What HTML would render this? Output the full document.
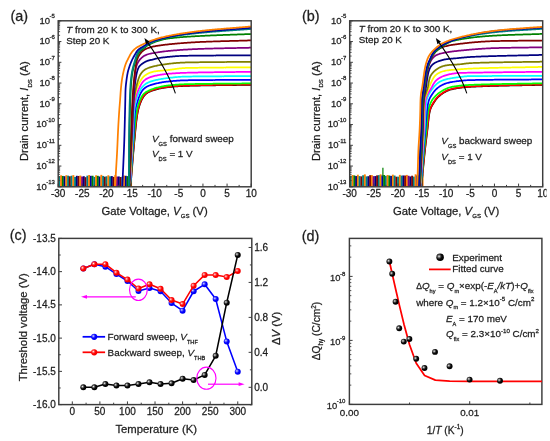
<!DOCTYPE html><html><head><meta charset="utf-8"><style>html,body{margin:0;padding:0;background:#fff;overflow:hidden}svg{display:block;filter:blur(0.3px)}text{stroke:#1e1e1e;stroke-width:0.26px;stroke-linejoin:round}</style></head><body>
<svg width="550" height="441" viewBox="0 0 550 441" font-family='"Liberation Sans", sans-serif' fill="#1e1e1e">
<defs><radialGradient id="gk" cx="0.36" cy="0.38" r="0.62"><stop offset="0" stop-color="#f4f4f4"/><stop offset="0.3" stop-color="#606060"/><stop offset="0.6" stop-color="#080808"/><stop offset="1" stop-color="#000"/></radialGradient><radialGradient id="gr" cx="0.36" cy="0.38" r="0.62"><stop offset="0" stop-color="#fff0f0"/><stop offset="0.3" stop-color="#ff5050"/><stop offset="0.6" stop-color="#ff0000"/><stop offset="1" stop-color="#f00000"/></radialGradient><radialGradient id="gb" cx="0.36" cy="0.38" r="0.62"><stop offset="0" stop-color="#e8e8ff"/><stop offset="0.3" stop-color="#5050ff"/><stop offset="0.6" stop-color="#0000ff"/><stop offset="1" stop-color="#0000f0"/></radialGradient></defs>
<rect width="550" height="441" fill="#fff"/>
<clipPath id="clipa"><rect x="58.2" y="20.8" width="193" height="166"/></clipPath>
<g clip-path="url(#clipa)">
<rect x="58.4" y="176.12" width="1.9" height="10.68" fill="#008080"/>
<rect x="60.15" y="175.32" width="1.9" height="11.48" fill="#FF8000"/>
<rect x="61.9" y="175.93" width="1.9" height="10.87" fill="#008000"/>
<rect x="63.65" y="176.19" width="1.9" height="10.61" fill="#000080"/>
<rect x="65.4" y="175.21" width="1.9" height="11.59" fill="#FF8000"/>
<rect x="67.15" y="175.66" width="1.9" height="11.14" fill="#008080"/>
<rect x="68.9" y="176.29" width="1.9" height="10.51" fill="#800000"/>
<rect x="70.65" y="175.71" width="1.9" height="11.09" fill="#008080"/>
<rect x="72.4" y="175.14" width="1.9" height="11.66" fill="#FF8000"/>
<rect x="74.15" y="176.92" width="1.9" height="9.88" fill="#008080"/>
<rect x="75.9" y="175.8" width="1.9" height="11" fill="#000080"/>
<rect x="77.65" y="175.96" width="1.9" height="10.84" fill="#800000"/>
<rect x="79.4" y="175.56" width="1.9" height="11.24" fill="#FF8000"/>
<rect x="81.15" y="176.52" width="1.9" height="10.28" fill="#800080"/>
<rect x="82.9" y="176.23" width="1.9" height="10.57" fill="#000080"/>
<rect x="84.65" y="177.16" width="1.9" height="9.64" fill="#800000"/>
<rect x="86.4" y="175.67" width="1.9" height="11.13" fill="#008080"/>
<rect x="88.15" y="175.03" width="1.9" height="11.77" fill="#FF8000"/>
<rect x="89.9" y="175.83" width="1.9" height="10.97" fill="#0000A0"/>
<rect x="91.65" y="175.75" width="1.9" height="11.05" fill="#008000"/>
<rect x="93.4" y="176.91" width="1.9" height="9.89" fill="#008080"/>
<rect x="95.15" y="175.27" width="1.9" height="11.53" fill="#FF8000"/>
<rect x="96.9" y="175.8" width="1.9" height="11" fill="#008000"/>
<rect x="98.65" y="176.48" width="1.9" height="10.32" fill="#000080"/>
<rect x="100.4" y="174.85" width="1.9" height="11.95" fill="#FF8000"/>
<rect x="102.15" y="175.93" width="1.9" height="10.87" fill="#008080"/>
<rect x="103.9" y="176.69" width="1.9" height="10.11" fill="#800000"/>
<rect x="105.65" y="176.28" width="1.9" height="10.52" fill="#008080"/>
<rect x="107.4" y="175.27" width="1.9" height="11.53" fill="#FF8000"/>
<rect x="109.15" y="176.33" width="1.9" height="10.47" fill="#008080"/>
<rect x="110.9" y="176.08" width="1.9" height="10.72" fill="#000080"/>
<rect x="112.65" y="176.87" width="1.9" height="9.93" fill="#800000"/>
<rect x="114.4" y="175" width="1.9" height="11.8" fill="#FF8000"/>
<rect x="116.15" y="176.52" width="1.9" height="10.28" fill="#800080"/>
<rect x="117.9" y="176.44" width="1.9" height="10.36" fill="#000080"/>
<rect x="119.65" y="177" width="1.9" height="9.8" fill="#800000"/>
<rect x="121.4" y="176.77" width="1.9" height="10.03" fill="#008080"/>
<rect x="123.15" y="175.58" width="1.9" height="11.22" fill="#FF8000"/>
<rect x="124.9" y="175.79" width="1.9" height="11.01" fill="#0000A0"/>
<rect x="126.65" y="176.11" width="1.9" height="10.69" fill="#008000"/>
<rect x="128.4" y="175.84" width="1.9" height="10.96" fill="#008080"/>
<rect x="130.15" y="174.83" width="1.9" height="11.97" fill="#FF8000"/>
<path d="M130,192.01 L130.06,191.27 L130.12,190.56 L130.19,189.75 L130.27,188.9 L130.34,188.01 L130.42,187.12 L130.5,186.22 L130.57,185.33 L130.65,184.43 L130.73,183.53 L130.8,182.64 L130.88,181.74 L130.96,180.84 L131.04,179.95 L131.11,179.05 L131.19,178.15 L131.27,177.26 L131.34,176.36 L131.42,175.46 L131.5,174.57 L131.57,173.67 L131.65,172.77 L131.72,171.88 L131.8,170.98 L131.87,170.08 L131.95,169.19 L132.02,168.29 L132.1,167.39 L132.17,166.49 L132.24,165.6 L132.32,164.7 L132.39,163.8 L132.46,162.91 L132.54,162.01 L132.61,161.11 L132.69,160.21 L132.76,159.32 L132.83,158.42 L132.91,157.52 L132.98,156.63 L133.06,155.73 L133.13,154.83 L133.21,153.94 L133.29,153.04 L133.36,152.14 L133.44,151.25 L133.52,150.35 L133.6,149.45 L133.68,148.56 L133.76,147.66 L133.84,146.76 L133.92,145.87 L134.01,144.97 L134.09,144.08 L134.17,143.18 L134.26,142.28 L134.34,141.39 L134.43,140.49 L134.52,139.6 L134.6,138.7 L134.69,137.8 L134.77,136.91 L134.86,136.01 L134.94,135.11 L135.03,134.21 L135.11,133.31 L135.19,132.41 L135.28,131.51 L135.36,130.61 L135.45,129.71 L135.54,128.81 L135.63,127.92 L135.72,127.02 L135.81,126.12 L135.91,125.22 L136,124.33 L136.1,123.43 L136.2,122.54 L136.31,121.64 L136.42,120.75 L136.53,119.86 L136.65,118.96 L136.77,118.08 L136.89,117.19 L137.02,116.3 L137.15,115.42 L137.29,114.53 L137.44,113.65 L137.6,112.77 L137.76,111.89 L137.94,111.01 L138.14,110.13 L138.35,109.26 L138.58,108.39 L138.82,107.52 L139.07,106.65 L139.34,105.79 L139.62,104.93 L139.91,104.08 L140.22,103.23 L140.54,102.39 L140.88,101.56 L141.25,100.74 L141.64,99.92 L142.05,99.12 L142.49,98.33 L142.95,97.54 L143.44,96.77 L143.96,96.03 L144.51,95.31 L145.09,94.64 L145.72,94.02 L146.38,93.45 L147.09,92.94 L147.84,92.47 L148.63,92.06 L149.44,91.68 L150.28,91.34 L151.12,91.04 L151.98,90.75 L152.84,90.48 L153.7,90.21 L154.56,89.94 L155.43,89.67 L156.29,89.4 L157.15,89.14 L158.01,88.89 L158.88,88.66 L159.75,88.45 L160.62,88.27 L161.5,88.11 L162.38,87.97 L163.26,87.83 L164.15,87.7 L165.03,87.58 L165.92,87.46 L166.81,87.35 L167.71,87.24 L168.6,87.13 L169.5,87.03 L170.39,86.93 L171.29,86.84 L172.19,86.75 L173.09,86.66 L173.99,86.58 L174.89,86.5 L175.8,86.43 L176.7,86.36 L177.6,86.29 L178.5,86.23 L179.41,86.18 L180.31,86.12 L181.21,86.07 L182.11,86.03 L183.01,85.99 L183.91,85.95 L184.81,85.92 L185.71,85.89 L186.61,85.86 L187.5,85.83 L188.4,85.8 L189.3,85.78 L190.2,85.75 L191.1,85.73 L192,85.7 L192.89,85.68 L193.79,85.66 L194.69,85.64 L195.59,85.62 L196.49,85.59 L197.39,85.57 L198.29,85.56 L199.19,85.54 L200.09,85.52 L200.98,85.5 L201.88,85.48 L202.78,85.46 L203.68,85.45 L204.58,85.43 L205.48,85.42 L206.38,85.4 L207.28,85.38 L208.18,85.37 L209.08,85.36 L209.98,85.34 L210.88,85.33 L211.78,85.31 L212.68,85.3 L213.58,85.29 L214.48,85.28 L215.38,85.26 L216.28,85.25 L217.18,85.24 L218.08,85.23 L218.98,85.22 L219.89,85.2 L220.79,85.19 L221.69,85.18 L222.59,85.17 L223.49,85.16 L224.39,85.15 L225.29,85.14 L226.19,85.13 L227.09,85.12 L227.99,85.11 L228.89,85.1 L229.79,85.09 L230.69,85.07 L231.59,85.06 L232.49,85.05 L233.39,85.04 L234.3,85.03 L235.2,85.02 L236.1,85.01 L237,85 L237.9,84.99 L238.8,84.98 L239.7,84.97 L240.6,84.95 L241.5,84.94 L242.4,84.93 L243.3,84.92 L244.2,84.91 L245.1,84.89 L246,84.88 L246.9,84.87 L247.79,84.85 L248.67,84.84 L249.51,84.83 L250.28,84.81 L251.13,84.8 L251.45,84.79" fill="none" stroke="#000000" stroke-width="1.75" stroke-linejoin="round"/>
<path d="M129.82,192.01 L129.89,191.27 L129.95,190.56 L130.02,189.75 L130.09,188.9 L130.17,188.01 L130.24,187.12 L130.32,186.22 L130.4,185.33 L130.47,184.43 L130.55,183.53 L130.63,182.64 L130.71,181.74 L130.78,180.84 L130.86,179.95 L130.94,179.05 L131.01,178.15 L131.09,177.26 L131.17,176.36 L131.25,175.46 L131.32,174.57 L131.4,173.67 L131.47,172.77 L131.55,171.88 L131.62,170.98 L131.7,170.08 L131.77,169.19 L131.85,168.29 L131.92,167.39 L131.99,166.49 L132.07,165.6 L132.14,164.7 L132.22,163.8 L132.29,162.91 L132.36,162.01 L132.44,161.11 L132.51,160.21 L132.58,159.32 L132.66,158.42 L132.73,157.52 L132.81,156.63 L132.88,155.73 L132.96,154.83 L133.03,153.94 L133.11,153.04 L133.19,152.14 L133.27,151.25 L133.34,150.35 L133.42,149.45 L133.5,148.56 L133.58,147.66 L133.66,146.76 L133.74,145.87 L133.83,144.97 L133.91,144.08 L133.99,143.18 L134.08,142.28 L134.17,141.39 L134.25,140.49 L134.34,139.6 L134.42,138.7 L134.51,137.8 L134.6,136.91 L134.68,136.01 L134.76,135.11 L134.85,134.21 L134.93,133.31 L135.02,132.41 L135.1,131.51 L135.19,130.61 L135.27,129.71 L135.36,128.82 L135.45,127.92 L135.54,127.02 L135.63,126.12 L135.72,125.22 L135.82,124.33 L135.92,123.43 L136.02,122.53 L136.12,121.64 L136.23,120.75 L136.34,119.85 L136.46,118.96 L136.58,118.07 L136.7,117.18 L136.83,116.3 L136.96,115.41 L137.1,114.53 L137.24,113.64 L137.39,112.76 L137.56,111.88 L137.73,111 L137.92,110.13 L138.13,109.25 L138.35,108.38 L138.59,107.51 L138.84,106.64 L139.1,105.78 L139.38,104.92 L139.66,104.07 L139.96,103.22 L140.28,102.37 L140.62,101.54 L140.97,100.71 L141.35,99.89 L141.76,99.09 L142.19,98.29 L142.64,97.5 L143.12,96.73 L143.63,95.97 L144.17,95.25 L144.74,94.56 L145.35,93.92 L146,93.33 L146.7,92.8 L147.43,92.32 L148.21,91.89 L149.02,91.5 L149.85,91.15 L150.69,90.84 L151.54,90.54 L152.4,90.27 L153.26,90 L154.13,89.73 L154.99,89.46 L155.85,89.19 L156.71,88.92 L157.57,88.67 L158.44,88.43 L159.31,88.22 L160.18,88.03 L161.05,87.86 L161.93,87.71 L162.81,87.58 L163.7,87.45 L164.59,87.32 L165.47,87.2 L166.36,87.08 L167.26,86.97 L168.15,86.87 L169.05,86.76 L169.94,86.66 L170.84,86.57 L171.74,86.48 L172.64,86.39 L173.54,86.31 L174.44,86.23 L175.34,86.15 L176.25,86.08 L177.15,86.02 L178.05,85.95 L178.95,85.89 L179.86,85.84 L180.76,85.79 L181.66,85.74 L182.56,85.7 L183.46,85.66 L184.36,85.63 L185.26,85.6 L186.16,85.57 L187.05,85.54 L187.95,85.51 L188.85,85.49 L189.75,85.46 L190.65,85.44 L191.54,85.41 L192.44,85.39 L193.34,85.37 L194.24,85.34 L195.14,85.32 L196.04,85.3 L196.94,85.28 L197.84,85.26 L198.74,85.24 L199.63,85.22 L200.53,85.21 L201.43,85.19 L202.33,85.17 L203.23,85.15 L204.13,85.14 L205.03,85.12 L205.93,85.1 L206.83,85.09 L207.73,85.07 L208.63,85.06 L209.53,85.05 L210.43,85.03 L211.33,85.02 L212.23,85.01 L213.13,84.99 L214.03,84.98 L214.93,84.97 L215.83,84.95 L216.73,84.94 L217.63,84.93 L218.53,84.92 L219.43,84.91 L220.33,84.9 L221.24,84.89 L222.14,84.87 L223.04,84.86 L223.94,84.85 L224.84,84.84 L225.74,84.83 L226.64,84.82 L227.54,84.81 L228.44,84.8 L229.34,84.79 L230.24,84.78 L231.14,84.77 L232.04,84.76 L232.94,84.75 L233.84,84.74 L234.74,84.73 L235.64,84.71 L236.55,84.7 L237.45,84.69 L238.35,84.68 L239.25,84.67 L240.15,84.66 L241.05,84.65 L241.95,84.63 L242.85,84.62 L243.75,84.61 L244.65,84.6 L245.55,84.58 L246.45,84.57 L247.34,84.56 L248.23,84.54 L249.09,84.53 L249.91,84.52 L250.63,84.51 L251.38,84.49 L251.52,84.49" fill="none" stroke="#FF0000" stroke-width="1.75" stroke-linejoin="round"/>
<path d="M129.76,192.01 L129.81,191.27 L129.87,190.56 L129.93,189.75 L130,188.89 L130.07,188.01 L130.14,187.12 L130.21,186.22 L130.27,185.32 L130.34,184.43 L130.41,183.53 L130.48,182.63 L130.55,181.73 L130.62,180.84 L130.69,179.94 L130.76,179.04 L130.83,178.14 L130.9,177.25 L130.97,176.35 L131.04,175.45 L131.11,174.55 L131.18,173.66 L131.25,172.76 L131.32,171.86 L131.38,170.97 L131.45,170.07 L131.52,169.17 L131.59,168.27 L131.65,167.38 L131.72,166.48 L131.79,165.58 L131.86,164.68 L131.92,163.78 L131.99,162.89 L132.06,161.99 L132.12,161.09 L132.19,160.19 L132.26,159.3 L132.32,158.4 L132.39,157.5 L132.46,156.6 L132.53,155.71 L132.6,154.81 L132.67,153.91 L132.73,153.01 L132.8,152.12 L132.87,151.22 L132.94,150.32 L133.02,149.43 L133.09,148.53 L133.16,147.63 L133.23,146.73 L133.31,145.84 L133.38,144.94 L133.45,144.04 L133.53,143.15 L133.61,142.25 L133.68,141.35 L133.76,140.46 L133.84,139.56 L133.91,138.66 L133.99,137.76 L134.06,136.87 L134.14,135.97 L134.21,135.07 L134.28,134.17 L134.36,133.27 L134.43,132.36 L134.5,131.46 L134.57,130.56 L134.65,129.66 L134.72,128.76 L134.8,127.86 L134.88,126.96 L134.96,126.06 L135.04,125.16 L135.12,124.26 L135.21,123.37 L135.29,122.47 L135.39,121.57 L135.48,120.68 L135.58,119.78 L135.68,118.89 L135.78,118 L135.89,117.11 L136.01,116.22 L136.12,115.34 L136.25,114.45 L136.38,113.57 L136.52,112.69 L136.66,111.8 L136.82,110.92 L137,110.04 L137.18,109.16 L137.39,108.28 L137.61,107.4 L137.84,106.52 L138.09,105.65 L138.35,104.78 L138.62,103.92 L138.9,103.06 L139.2,102.21 L139.51,101.37 L139.83,100.53 L140.18,99.69 L140.54,98.86 L140.93,98.04 L141.35,97.23 L141.79,96.44 L142.28,95.69 L142.79,94.98 L143.36,94.32 L143.97,93.7 L144.62,93.13 L145.33,92.59 L146.08,92.1 L146.85,91.63 L147.65,91.18 L148.46,90.77 L149.28,90.37 L150.11,90 L150.94,89.65 L151.78,89.31 L152.62,89 L153.47,88.71 L154.33,88.44 L155.19,88.19 L156.05,87.94 L156.92,87.7 L157.79,87.48 L158.67,87.26 L159.54,87.05 L160.43,86.84 L161.31,86.65 L162.19,86.46 L163.08,86.29 L163.97,86.13 L164.86,85.97 L165.74,85.83 L166.63,85.7 L167.52,85.58 L168.41,85.47 L169.3,85.36 L170.2,85.26 L171.09,85.17 L171.98,85.08 L172.88,84.99 L173.78,84.9 L174.67,84.82 L175.57,84.74 L176.47,84.67 L177.37,84.6 L178.27,84.54 L179.17,84.48 L180.07,84.42 L180.97,84.37 L181.87,84.33 L182.77,84.29 L183.67,84.25 L184.57,84.22 L185.47,84.19 L186.36,84.17 L187.26,84.15 L188.16,84.13 L189.06,84.11 L189.96,84.09 L190.86,84.07 L191.76,84.05 L192.66,84.03 L193.56,84.02 L194.46,84 L195.35,83.99 L196.25,83.97 L197.15,83.95 L198.05,83.94 L198.95,83.93 L199.85,83.91 L200.75,83.9 L201.65,83.88 L202.55,83.87 L203.45,83.86 L204.35,83.85 L205.25,83.84 L206.15,83.82 L207.05,83.81 L207.95,83.8 L208.85,83.79 L209.75,83.78 L210.65,83.77 L211.55,83.76 L212.45,83.75 L213.35,83.74 L214.25,83.73 L215.15,83.73 L216.05,83.72 L216.95,83.71 L217.85,83.7 L218.75,83.69 L219.65,83.68 L220.55,83.68 L221.45,83.67 L222.35,83.66 L223.25,83.65 L224.15,83.65 L225.05,83.64 L225.95,83.63 L226.85,83.62 L227.76,83.62 L228.66,83.61 L229.56,83.6 L230.46,83.59 L231.36,83.59 L232.26,83.58 L233.16,83.57 L234.06,83.57 L234.96,83.56 L235.86,83.55 L236.76,83.54 L237.66,83.53 L238.56,83.53 L239.46,83.52 L240.36,83.51 L241.26,83.5 L242.16,83.49 L243.06,83.49 L243.96,83.48 L244.86,83.47 L245.76,83.46 L246.66,83.45 L247.56,83.44 L248.44,83.43 L249.29,83.42 L250.09,83.41 L250.98,83.4 L251.48,83.39" fill="none" stroke="#00FF00" stroke-width="1.75" stroke-linejoin="round"/>
<path d="M129.69,192.01 L129.74,191.27 L129.79,190.56 L129.85,189.75 L129.9,188.89 L129.97,188.01 L130.03,187.11 L130.09,186.22 L130.15,185.32 L130.22,184.42 L130.28,183.52 L130.34,182.62 L130.4,181.73 L130.46,180.83 L130.53,179.93 L130.59,179.03 L130.65,178.14 L130.71,177.24 L130.78,176.34 L130.84,175.44 L130.9,174.54 L130.96,173.65 L131.03,172.75 L131.09,171.85 L131.15,170.95 L131.21,170.05 L131.28,169.16 L131.34,168.26 L131.4,167.36 L131.46,166.46 L131.53,165.57 L131.59,164.67 L131.65,163.77 L131.72,162.87 L131.78,161.97 L131.84,161.08 L131.9,160.18 L131.97,159.28 L132.03,158.38 L132.09,157.49 L132.16,156.59 L132.22,155.69 L132.28,154.79 L132.34,153.89 L132.41,153 L132.47,152.1 L132.53,151.2 L132.59,150.3 L132.65,149.4 L132.72,148.51 L132.78,147.61 L132.84,146.71 L132.9,145.81 L132.96,144.92 L133.03,144.02 L133.09,143.12 L133.15,142.22 L133.21,141.32 L133.27,140.43 L133.33,139.53 L133.38,138.63 L133.44,137.73 L133.49,136.83 L133.55,135.93 L133.6,135.02 L133.65,134.12 L133.69,133.22 L133.74,132.32 L133.79,131.41 L133.83,130.51 L133.88,129.61 L133.92,128.7 L133.97,127.8 L134.01,126.9 L134.06,125.99 L134.11,125.09 L134.16,124.19 L134.21,123.29 L134.26,122.39 L134.32,121.49 L134.37,120.59 L134.43,119.69 L134.49,118.79 L134.56,117.9 L134.63,117 L134.7,116.11 L134.78,115.22 L134.86,114.33 L134.94,113.44 L135.03,112.55 L135.13,111.67 L135.24,110.78 L135.36,109.9 L135.51,109.02 L135.67,108.14 L135.86,107.27 L136.07,106.39 L136.29,105.52 L136.54,104.65 L136.8,103.79 L137.07,102.92 L137.34,102.06 L137.62,101.2 L137.89,100.34 L138.18,99.48 L138.46,98.62 L138.76,97.77 L139.07,96.93 L139.39,96.08 L139.74,95.25 L140.1,94.43 L140.49,93.61 L140.91,92.81 L141.36,92.03 L141.84,91.27 L142.35,90.54 L142.91,89.85 L143.51,89.2 L144.15,88.59 L144.84,88.02 L145.56,87.5 L146.32,87.01 L147.1,86.57 L147.89,86.17 L148.71,85.8 L149.54,85.45 L150.38,85.14 L151.24,84.84 L152.1,84.57 L152.97,84.31 L153.84,84.08 L154.71,83.85 L155.58,83.64 L156.46,83.44 L157.33,83.24 L158.22,83.06 L159.1,82.88 L159.98,82.7 L160.87,82.54 L161.76,82.38 L162.65,82.23 L163.55,82.09 L164.44,81.96 L165.33,81.84 L166.22,81.72 L167.12,81.61 L168.01,81.51 L168.9,81.42 L169.8,81.32 L170.69,81.23 L171.59,81.15 L172.48,81.06 L173.38,80.98 L174.28,80.91 L175.18,80.83 L176.07,80.76 L176.97,80.69 L177.87,80.63 L178.77,80.57 L179.67,80.52 L180.57,80.47 L181.47,80.42 L182.37,80.39 L183.27,80.36 L184.17,80.33 L185.07,80.31 L185.97,80.29 L186.87,80.27 L187.76,80.26 L188.66,80.24 L189.56,80.23 L190.46,80.22 L191.36,80.21 L192.26,80.2 L193.16,80.18 L194.06,80.17 L194.96,80.16 L195.86,80.15 L196.76,80.14 L197.66,80.13 L198.56,80.12 L199.45,80.11 L200.35,80.11 L201.25,80.1 L202.15,80.09 L203.05,80.08 L203.95,80.07 L204.85,80.07 L205.75,80.06 L206.65,80.05 L207.55,80.04 L208.45,80.04 L209.35,80.03 L210.25,80.03 L211.15,80.02 L212.05,80.01 L212.95,80.01 L213.85,80 L214.75,80 L215.65,79.99 L216.55,79.99 L217.45,79.98 L218.36,79.98 L219.26,79.97 L220.16,79.97 L221.06,79.96 L221.96,79.96 L222.86,79.95 L223.76,79.95 L224.66,79.94 L225.56,79.94 L226.46,79.94 L227.36,79.93 L228.26,79.93 L229.16,79.92 L230.06,79.92 L230.96,79.91 L231.86,79.91 L232.76,79.91 L233.66,79.9 L234.56,79.9 L235.46,79.89 L236.36,79.89 L237.26,79.88 L238.16,79.88 L239.06,79.87 L239.96,79.87 L240.86,79.87 L241.76,79.86 L242.66,79.85 L243.57,79.85 L244.47,79.84 L245.37,79.84 L246.26,79.83 L247.16,79.83 L248.05,79.82 L248.92,79.81 L249.75,79.81 L250.49,79.8 L251.28,79.8 L251.43,79.8" fill="none" stroke="#0000FF" stroke-width="1.75" stroke-linejoin="round"/>
<path d="M129.62,192.01 L129.67,191.27 L129.71,190.55 L129.76,189.75 L129.81,188.89 L129.87,188 L129.92,187.11 L129.98,186.21 L130.03,185.31 L130.09,184.42 L130.14,183.52 L130.2,182.62 L130.25,181.72 L130.31,180.82 L130.36,179.92 L130.42,179.03 L130.47,178.13 L130.52,177.23 L130.58,176.33 L130.64,175.43 L130.69,174.53 L130.75,173.64 L130.8,172.74 L130.86,171.84 L130.91,170.94 L130.97,170.04 L131.03,169.14 L131.08,168.25 L131.14,167.35 L131.2,166.45 L131.25,165.55 L131.31,164.65 L131.37,163.76 L131.42,162.86 L131.48,161.96 L131.54,161.06 L131.59,160.16 L131.65,159.26 L131.7,158.37 L131.76,157.47 L131.82,156.57 L131.87,155.67 L131.93,154.77 L131.98,153.87 L132.04,152.98 L132.09,152.08 L132.15,151.18 L132.2,150.28 L132.26,149.38 L132.31,148.48 L132.37,147.59 L132.42,146.69 L132.47,145.79 L132.52,144.89 L132.57,143.99 L132.63,143.09 L132.68,142.19 L132.73,141.3 L132.78,140.4 L132.82,139.5 L132.87,138.6 L132.91,137.7 L132.96,136.8 L133,135.9 L133.04,135 L133.07,134.09 L133.11,133.19 L133.15,132.29 L133.18,131.39 L133.22,130.49 L133.25,129.58 L133.28,128.68 L133.32,127.78 L133.35,126.88 L133.39,125.98 L133.42,125.07 L133.46,124.17 L133.5,123.27 L133.53,122.37 L133.57,121.47 L133.62,120.57 L133.66,119.67 L133.71,118.77 L133.75,117.88 L133.8,116.98 L133.86,116.08 L133.91,115.19 L133.97,114.29 L134.04,113.4 L134.1,112.51 L134.18,111.62 L134.26,110.73 L134.35,109.84 L134.45,108.95 L134.57,108.06 L134.7,107.17 L134.85,106.28 L135.01,105.39 L135.19,104.51 L135.39,103.62 L135.59,102.74 L135.81,101.86 L136.03,100.99 L136.27,100.12 L136.51,99.25 L136.77,98.39 L137.03,97.53 L137.32,96.68 L137.62,95.84 L137.94,95 L138.28,94.16 L138.64,93.34 L139.02,92.52 L139.42,91.71 L139.83,90.9 L140.27,90.11 L140.72,89.33 L141.2,88.56 L141.7,87.82 L142.24,87.1 L142.81,86.42 L143.42,85.78 L144.07,85.18 L144.76,84.61 L145.49,84.07 L146.24,83.58 L147.02,83.12 L147.81,82.7 L148.62,82.32 L149.45,81.97 L150.28,81.65 L151.14,81.36 L152,81.09 L152.86,80.84 L153.73,80.6 L154.61,80.38 L155.48,80.17 L156.36,79.97 L157.24,79.78 L158.12,79.6 L159,79.42 L159.89,79.25 L160.77,79.08 L161.66,78.93 L162.55,78.78 L163.44,78.63 L164.33,78.5 L165.23,78.37 L166.12,78.25 L167.01,78.13 L167.9,78.02 L168.8,77.91 L169.69,77.81 L170.58,77.71 L171.48,77.61 L172.37,77.51 L173.27,77.42 L174.16,77.33 L175.06,77.24 L175.96,77.15 L176.86,77.07 L177.76,77 L178.65,76.93 L179.55,76.86 L180.45,76.8 L181.35,76.75 L182.25,76.71 L183.15,76.67 L184.05,76.64 L184.94,76.61 L185.84,76.59 L186.74,76.58 L187.64,76.56 L188.54,76.55 L189.44,76.53 L190.34,76.52 L191.23,76.51 L192.13,76.5 L193.03,76.48 L193.93,76.47 L194.83,76.46 L195.73,76.45 L196.63,76.44 L197.53,76.43 L198.43,76.42 L199.33,76.41 L200.23,76.4 L201.13,76.4 L202.03,76.39 L202.93,76.38 L203.83,76.37 L204.72,76.36 L205.62,76.36 L206.52,76.35 L207.42,76.34 L208.32,76.34 L209.22,76.33 L210.12,76.32 L211.03,76.32 L211.93,76.31 L212.83,76.31 L213.73,76.3 L214.63,76.29 L215.53,76.29 L216.43,76.28 L217.33,76.28 L218.23,76.27 L219.13,76.27 L220.03,76.27 L220.93,76.26 L221.83,76.26 L222.73,76.25 L223.63,76.25 L224.53,76.24 L225.43,76.24 L226.33,76.23 L227.23,76.23 L228.13,76.23 L229.03,76.22 L229.93,76.22 L230.83,76.21 L231.74,76.21 L232.64,76.21 L233.54,76.2 L234.44,76.2 L235.34,76.19 L236.24,76.19 L237.14,76.18 L238.04,76.18 L238.94,76.17 L239.84,76.17 L240.74,76.17 L241.64,76.16 L242.54,76.16 L243.44,76.15 L244.34,76.14 L245.24,76.14 L246.14,76.13 L247.04,76.13 L247.93,76.12 L248.8,76.12 L249.64,76.11 L250.39,76.1 L251.21,76.1 L251.52,76.1" fill="none" stroke="#00FFFF" stroke-width="1.75" stroke-linejoin="round"/>
<path d="M129.56,192 L129.59,191.27 L129.63,190.55 L129.67,189.75 L129.72,188.89 L129.77,188 L129.81,187.11 L129.86,186.21 L129.91,185.31 L129.96,184.41 L130,183.51 L130.05,182.61 L130.1,181.72 L130.15,180.82 L130.19,179.92 L130.24,179.02 L130.29,178.12 L130.34,177.22 L130.38,176.32 L130.43,175.42 L130.48,174.53 L130.53,173.63 L130.58,172.73 L130.62,171.83 L130.67,170.93 L130.72,170.03 L130.77,169.13 L130.82,168.23 L130.87,167.34 L130.92,166.44 L130.97,165.54 L131.02,164.64 L131.07,163.74 L131.12,162.84 L131.17,161.94 L131.22,161.05 L131.27,160.15 L131.32,159.25 L131.37,158.35 L131.42,157.45 L131.47,156.55 L131.52,155.65 L131.57,154.75 L131.62,153.86 L131.67,152.96 L131.71,152.06 L131.76,151.16 L131.81,150.26 L131.85,149.36 L131.9,148.46 L131.95,147.56 L131.99,146.67 L132.03,145.77 L132.08,144.87 L132.12,143.97 L132.16,143.07 L132.2,142.17 L132.24,141.27 L132.28,140.37 L132.32,139.47 L132.35,138.57 L132.39,137.67 L132.42,136.77 L132.45,135.87 L132.48,134.97 L132.51,134.07 L132.54,133.17 L132.56,132.27 L132.59,131.36 L132.61,130.46 L132.64,129.56 L132.66,128.66 L132.69,127.75 L132.71,126.85 L132.74,125.95 L132.76,125.05 L132.79,124.15 L132.81,123.25 L132.84,122.35 L132.87,121.45 L132.9,120.55 L132.93,119.65 L132.96,118.75 L133,117.85 L133.03,116.95 L133.07,116.05 L133.11,115.16 L133.16,114.26 L133.21,113.37 L133.26,112.47 L133.31,111.58 L133.37,110.69 L133.44,109.79 L133.52,108.9 L133.62,108.01 L133.73,107.12 L133.85,106.22 L133.98,105.33 L134.13,104.44 L134.3,103.55 L134.47,102.66 L134.66,101.77 L134.85,100.89 L135.06,100.01 L135.27,99.13 L135.48,98.26 L135.71,97.39 L135.95,96.52 L136.19,95.67 L136.46,94.81 L136.74,93.96 L137.04,93.12 L137.36,92.28 L137.7,91.44 L138.05,90.61 L138.42,89.78 L138.8,88.96 L139.2,88.15 L139.6,87.33 L140,86.52 L140.42,85.72 L140.85,84.92 L141.3,84.13 L141.78,83.37 L142.29,82.64 L142.83,81.95 L143.42,81.3 L144.06,80.69 L144.74,80.11 L145.46,79.58 L146.22,79.08 L147,78.63 L147.79,78.21 L148.6,77.82 L149.43,77.47 L150.27,77.15 L151.12,76.86 L151.98,76.59 L152.85,76.34 L153.72,76.11 L154.59,75.9 L155.47,75.7 L156.35,75.52 L157.23,75.34 L158.11,75.17 L159,75.01 L159.89,74.86 L160.78,74.71 L161.67,74.57 L162.57,74.44 L163.46,74.32 L164.36,74.21 L165.25,74.1 L166.15,74 L167.04,73.91 L167.94,73.82 L168.83,73.74 L169.73,73.66 L170.63,73.59 L171.52,73.52 L172.42,73.45 L173.32,73.39 L174.21,73.33 L175.11,73.27 L176.01,73.21 L176.91,73.16 L177.81,73.11 L178.71,73.06 L179.61,73.01 L180.51,72.97 L181.41,72.93 L182.31,72.9 L183.21,72.86 L184.11,72.83 L185.01,72.8 L185.91,72.78 L186.81,72.75 L187.71,72.73 L188.61,72.71 L189.5,72.69 L190.4,72.66 L191.3,72.64 L192.2,72.62 L193.1,72.6 L194,72.58 L194.9,72.56 L195.8,72.55 L196.7,72.53 L197.6,72.51 L198.5,72.49 L199.4,72.48 L200.3,72.46 L201.2,72.44 L202.1,72.43 L203,72.41 L203.9,72.4 L204.8,72.38 L205.7,72.37 L206.6,72.36 L207.5,72.34 L208.4,72.33 L209.3,72.32 L210.2,72.3 L211.1,72.29 L212,72.28 L212.9,72.27 L213.8,72.25 L214.7,72.24 L215.6,72.23 L216.5,72.22 L217.4,72.21 L218.3,72.2 L219.2,72.19 L220.1,72.18 L221,72.16 L221.9,72.15 L222.8,72.14 L223.7,72.13 L224.6,72.12 L225.5,72.11 L226.4,72.1 L227.3,72.09 L228.2,72.08 L229.1,72.07 L230,72.06 L230.9,72.05 L231.8,72.04 L232.7,72.03 L233.6,72.02 L234.5,72.01 L235.4,72 L236.3,71.99 L237.2,71.98 L238.1,71.97 L239,71.96 L239.9,71.95 L240.8,71.94 L241.7,71.93 L242.6,71.92 L243.5,71.9 L244.4,71.89 L245.3,71.88 L246.2,71.87 L247.1,71.86 L247.99,71.84 L248.86,71.83 L249.69,71.82 L250.44,71.81 L251.25,71.8 L251.4,71.79" fill="none" stroke="#FF00FF" stroke-width="1.75" stroke-linejoin="round"/>
<path d="M129.4,192 L129.44,191.27 L129.47,190.55 L129.51,189.75 L129.56,188.89 L129.6,188 L129.64,187.11 L129.69,186.21 L129.73,185.31 L129.78,184.41 L129.82,183.51 L129.87,182.61 L129.91,181.71 L129.96,180.81 L130,179.92 L130.05,179.02 L130.09,178.12 L130.14,177.22 L130.18,176.32 L130.23,175.42 L130.28,174.52 L130.32,173.62 L130.37,172.73 L130.42,171.83 L130.47,170.93 L130.52,170.03 L130.57,169.13 L130.62,168.23 L130.67,167.33 L130.73,166.43 L130.78,165.54 L130.83,164.64 L130.88,163.74 L130.94,162.84 L130.99,161.94 L131.04,161.04 L131.09,160.14 L131.14,159.24 L131.19,158.35 L131.24,157.45 L131.29,156.55 L131.34,155.65 L131.39,154.75 L131.44,153.85 L131.48,152.95 L131.53,152.05 L131.57,151.15 L131.62,150.26 L131.66,149.36 L131.7,148.46 L131.74,147.56 L131.78,146.66 L131.81,145.76 L131.84,144.86 L131.88,143.96 L131.91,143.06 L131.94,142.16 L131.96,141.26 L131.99,140.37 L132.01,139.47 L132.03,138.57 L132.05,137.67 L132.07,136.76 L132.08,135.86 L132.1,134.96 L132.11,134.06 L132.12,133.16 L132.14,132.26 L132.15,131.35 L132.16,130.45 L132.17,129.55 L132.18,128.65 L132.19,127.75 L132.2,126.84 L132.21,125.94 L132.22,125.04 L132.23,124.14 L132.24,123.24 L132.25,122.34 L132.26,121.43 L132.27,120.53 L132.28,119.63 L132.3,118.74 L132.31,117.84 L132.33,116.94 L132.35,116.04 L132.37,115.14 L132.39,114.25 L132.41,113.35 L132.43,112.45 L132.46,111.56 L132.5,110.67 L132.54,109.77 L132.6,108.88 L132.67,107.99 L132.75,107.09 L132.85,106.2 L132.97,105.31 L133.1,104.42 L133.25,103.53 L133.4,102.64 L133.57,101.75 L133.75,100.86 L133.94,99.97 L134.13,99.09 L134.32,98.21 L134.53,97.33 L134.73,96.45 L134.94,95.57 L135.15,94.7 L135.36,93.82 L135.59,92.95 L135.82,92.08 L136.06,91.22 L136.32,90.35 L136.59,89.49 L136.88,88.63 L137.17,87.78 L137.48,86.94 L137.81,86.1 L138.16,85.27 L138.52,84.45 L138.91,83.64 L139.31,82.84 L139.74,82.04 L140.18,81.25 L140.64,80.47 L141.12,79.7 L141.62,78.95 L142.15,78.23 L142.71,77.55 L143.31,76.9 L143.95,76.28 L144.63,75.71 L145.35,75.17 L146.1,74.67 L146.87,74.2 L147.66,73.77 L148.47,73.38 L149.29,73.01 L150.13,72.68 L150.98,72.38 L151.84,72.11 L152.7,71.87 L153.58,71.66 L154.45,71.48 L155.33,71.33 L156.22,71.19 L157.1,71.07 L157.99,70.96 L158.88,70.86 L159.78,70.77 L160.68,70.68 L161.58,70.6 L162.48,70.52 L163.38,70.44 L164.28,70.35 L165.18,70.27 L166.08,70.18 L166.98,70.09 L167.88,70 L168.77,69.89 L169.67,69.78 L170.56,69.66 L171.46,69.54 L172.35,69.42 L173.24,69.29 L174.14,69.16 L175.03,69.03 L175.92,68.9 L176.81,68.78 L177.71,68.66 L178.6,68.54 L179.49,68.44 L180.39,68.34 L181.28,68.26 L182.18,68.18 L183.07,68.12 L183.97,68.07 L184.86,68.03 L185.76,67.99 L186.66,67.97 L187.55,67.95 L188.45,67.93 L189.35,67.91 L190.24,67.89 L191.14,67.87 L192.04,67.86 L192.94,67.84 L193.84,67.82 L194.73,67.81 L195.63,67.79 L196.53,67.78 L197.43,67.77 L198.33,67.75 L199.23,67.74 L200.13,67.73 L201.02,67.71 L201.92,67.7 L202.82,67.69 L203.72,67.68 L204.62,67.67 L205.52,67.66 L206.42,67.65 L207.32,67.64 L208.22,67.63 L209.12,67.62 L210.02,67.61 L210.92,67.6 L211.82,67.6 L212.72,67.59 L213.62,67.58 L214.52,67.57 L215.42,67.57 L216.33,67.56 L217.23,67.55 L218.13,67.54 L219.03,67.54 L219.93,67.53 L220.83,67.53 L221.73,67.52 L222.63,67.51 L223.53,67.51 L224.43,67.5 L225.34,67.5 L226.24,67.49 L227.14,67.48 L228.04,67.48 L228.94,67.47 L229.84,67.47 L230.74,67.46 L231.64,67.45 L232.54,67.45 L233.45,67.44 L234.35,67.44 L235.25,67.43 L236.15,67.42 L237.05,67.42 L237.95,67.41 L238.85,67.41 L239.75,67.4 L240.65,67.39 L241.55,67.39 L242.46,67.38 L243.36,67.37 L244.26,67.36 L245.16,67.36 L246.06,67.35 L246.96,67.34 L247.85,67.33 L248.72,67.32 L249.56,67.31 L250.33,67.31 L251.16,67.3 L251.48,67.29" fill="none" stroke="#FFFF00" stroke-width="1.75" stroke-linejoin="round"/>
<path d="M129.2,192 L129.24,191.27 L129.27,190.55 L129.31,189.75 L129.36,188.89 L129.4,188 L129.44,187.11 L129.49,186.21 L129.53,185.31 L129.58,184.41 L129.62,183.51 L129.67,182.61 L129.71,181.71 L129.76,180.81 L129.8,179.92 L129.85,179.02 L129.89,178.12 L129.94,177.22 L129.98,176.32 L130.03,175.42 L130.07,174.52 L130.12,173.62 L130.16,172.73 L130.21,171.83 L130.25,170.93 L130.3,170.03 L130.34,169.13 L130.39,168.23 L130.43,167.33 L130.47,166.43 L130.52,165.53 L130.56,164.63 L130.61,163.74 L130.65,162.84 L130.7,161.94 L130.74,161.04 L130.78,160.14 L130.83,159.24 L130.87,158.34 L130.92,157.44 L130.96,156.54 L131.01,155.65 L131.05,154.75 L131.1,153.85 L131.14,152.95 L131.19,152.05 L131.23,151.15 L131.28,150.25 L131.32,149.35 L131.37,148.45 L131.41,147.56 L131.46,146.66 L131.5,145.76 L131.55,144.86 L131.6,143.96 L131.64,143.06 L131.69,142.16 L131.73,141.26 L131.78,140.37 L131.83,139.47 L131.87,138.57 L131.92,137.67 L131.96,136.77 L132,135.87 L132.04,134.97 L132.09,134.07 L132.13,133.17 L132.17,132.27 L132.21,131.37 L132.25,130.47 L132.28,129.56 L132.32,128.66 L132.36,127.76 L132.4,126.86 L132.44,125.96 L132.48,125.06 L132.52,124.16 L132.56,123.26 L132.6,122.36 L132.64,121.46 L132.68,120.56 L132.72,119.65 L132.76,118.75 L132.81,117.85 L132.85,116.95 L132.9,116.06 L132.94,115.16 L132.99,114.26 L133.04,113.36 L133.09,112.46 L133.15,111.56 L133.2,110.66 L133.26,109.77 L133.31,108.87 L133.37,107.97 L133.44,107.08 L133.5,106.18 L133.57,105.29 L133.63,104.39 L133.71,103.5 L133.78,102.61 L133.86,101.71 L133.94,100.82 L134.03,99.93 L134.12,99.04 L134.23,98.15 L134.35,97.26 L134.47,96.37 L134.61,95.48 L134.76,94.59 L134.91,93.7 L135.07,92.81 L135.24,91.93 L135.42,91.04 L135.6,90.16 L135.79,89.27 L135.98,88.39 L136.17,87.51 L136.37,86.64 L136.58,85.76 L136.79,84.89 L137.01,84.01 L137.25,83.14 L137.49,82.28 L137.74,81.41 L138,80.55 L138.27,79.68 L138.56,78.82 L138.85,77.97 L139.17,77.13 L139.51,76.3 L139.89,75.49 L140.3,74.7 L140.76,73.93 L141.26,73.19 L141.81,72.48 L142.4,71.81 L143.03,71.18 L143.7,70.6 L144.41,70.06 L145.15,69.56 L145.93,69.1 L146.72,68.68 L147.54,68.3 L148.37,67.96 L149.21,67.65 L150.06,67.37 L150.92,67.11 L151.79,66.87 L152.66,66.64 L153.54,66.42 L154.42,66.2 L155.3,65.99 L156.17,65.79 L157.05,65.59 L157.93,65.41 L158.82,65.24 L159.7,65.08 L160.59,64.93 L161.47,64.79 L162.36,64.66 L163.25,64.53 L164.14,64.41 L165.03,64.28 L165.93,64.16 L166.82,64.05 L167.71,63.93 L168.61,63.82 L169.5,63.71 L170.4,63.6 L171.29,63.5 L172.19,63.4 L173.09,63.3 L173.99,63.21 L174.89,63.13 L175.78,63.04 L176.68,62.97 L177.58,62.89 L178.48,62.83 L179.38,62.77 L180.28,62.71 L181.18,62.66 L182.07,62.62 L182.97,62.58 L183.87,62.54 L184.77,62.52 L185.67,62.49 L186.56,62.47 L187.46,62.45 L188.36,62.43 L189.26,62.41 L190.16,62.4 L191.05,62.38 L191.95,62.36 L192.85,62.35 L193.75,62.33 L194.65,62.32 L195.55,62.31 L196.45,62.29 L197.34,62.28 L198.24,62.27 L199.14,62.25 L200.04,62.24 L200.94,62.23 L201.84,62.22 L202.74,62.21 L203.64,62.2 L204.54,62.18 L205.44,62.17 L206.34,62.16 L207.24,62.16 L208.14,62.15 L209.04,62.14 L209.94,62.13 L210.84,62.12 L211.74,62.11 L212.64,62.1 L213.54,62.09 L214.44,62.09 L215.34,62.08 L216.24,62.07 L217.14,62.06 L218.04,62.06 L218.94,62.05 L219.84,62.04 L220.74,62.04 L221.65,62.03 L222.55,62.02 L223.45,62.02 L224.35,62.01 L225.25,62 L226.15,62 L227.05,61.99 L227.95,61.99 L228.85,61.98 L229.75,61.97 L230.65,61.97 L231.55,61.96 L232.45,61.95 L233.36,61.95 L234.26,61.94 L235.16,61.94 L236.06,61.93 L236.96,61.92 L237.86,61.92 L238.76,61.91 L239.66,61.9 L240.56,61.89 L241.46,61.89 L242.36,61.88 L243.26,61.87 L244.16,61.86 L245.06,61.86 L245.96,61.85 L246.86,61.84 L247.75,61.83 L248.63,61.82 L249.48,61.82 L250.25,61.81 L251.11,61.8 L251.43,61.8" fill="none" stroke="#808000" stroke-width="1.75" stroke-linejoin="round"/>
<path d="M129.04,192 L129.08,191.27 L129.11,190.55 L129.15,189.75 L129.19,188.89 L129.23,188 L129.28,187.11 L129.32,186.21 L129.36,185.31 L129.4,184.41 L129.45,183.51 L129.49,182.61 L129.53,181.71 L129.57,180.81 L129.62,179.91 L129.66,179.02 L129.7,178.12 L129.74,177.22 L129.78,176.32 L129.83,175.42 L129.87,174.52 L129.91,173.62 L129.95,172.72 L130,171.82 L130.04,170.92 L130.08,170.03 L130.12,169.13 L130.17,168.23 L130.21,167.33 L130.25,166.43 L130.29,165.53 L130.33,164.63 L130.38,163.73 L130.42,162.83 L130.46,161.93 L130.5,161.04 L130.54,160.14 L130.59,159.24 L130.63,158.34 L130.67,157.44 L130.71,156.54 L130.75,155.64 L130.8,154.74 L130.84,153.84 L130.88,152.94 L130.92,152.05 L130.97,151.15 L131.01,150.25 L131.05,149.35 L131.09,148.45 L131.14,147.55 L131.18,146.65 L131.22,145.75 L131.27,144.85 L131.31,143.95 L131.35,143.06 L131.4,142.16 L131.44,141.26 L131.48,140.36 L131.53,139.46 L131.57,138.56 L131.61,137.66 L131.65,136.76 L131.69,135.86 L131.73,134.96 L131.78,134.06 L131.82,133.16 L131.86,132.27 L131.9,131.37 L131.94,130.47 L131.97,129.57 L132.01,128.67 L132.05,127.77 L132.09,126.87 L132.13,125.97 L132.17,125.07 L132.21,124.17 L132.25,123.27 L132.29,122.37 L132.33,121.47 L132.37,120.57 L132.41,119.67 L132.45,118.77 L132.5,117.87 L132.54,116.98 L132.58,116.08 L132.63,115.18 L132.67,114.28 L132.71,113.38 L132.76,112.48 L132.81,111.58 L132.85,110.68 L132.9,109.79 L132.95,108.89 L133,107.99 L133.05,107.09 L133.11,106.19 L133.16,105.29 L133.22,104.4 L133.27,103.5 L133.33,102.6 L133.39,101.7 L133.45,100.81 L133.51,99.91 L133.57,99.01 L133.64,98.11 L133.7,97.21 L133.77,96.31 L133.84,95.42 L133.91,94.52 L133.99,93.62 L134.06,92.72 L134.14,91.82 L134.23,90.92 L134.31,90.02 L134.4,89.12 L134.49,88.23 L134.58,87.33 L134.68,86.44 L134.78,85.54 L134.89,84.65 L135,83.76 L135.11,82.87 L135.23,81.98 L135.35,81.08 L135.48,80.19 L135.62,79.29 L135.76,78.38 L135.91,77.46 L136.07,76.54 L136.23,75.61 L136.41,74.68 L136.6,73.76 L136.81,72.85 L137.03,71.95 L137.27,71.07 L137.53,70.21 L137.8,69.39 L138.11,68.59 L138.45,67.83 L138.85,67.11 L139.31,66.42 L139.85,65.77 L140.46,65.16 L141.13,64.58 L141.85,64.03 L142.61,63.5 L143.37,62.99 L144.15,62.51 L144.94,62.05 L145.74,61.62 L146.55,61.24 L147.37,60.9 L148.22,60.61 L149.07,60.37 L149.94,60.17 L150.82,59.98 L151.7,59.79 L152.58,59.59 L153.45,59.38 L154.32,59.15 L155.2,58.92 L156.07,58.7 L156.94,58.49 L157.81,58.3 L158.69,58.14 L159.57,57.99 L160.46,57.86 L161.34,57.73 L162.23,57.61 L163.12,57.49 L164.01,57.38 L164.9,57.27 L165.8,57.16 L166.69,57.06 L167.59,56.96 L168.48,56.86 L169.38,56.76 L170.28,56.68 L171.18,56.59 L172.08,56.51 L172.98,56.43 L173.88,56.36 L174.78,56.29 L175.68,56.22 L176.59,56.16 L177.49,56.1 L178.39,56.05 L179.29,56 L180.19,55.96 L181.09,55.92 L181.99,55.89 L182.89,55.86 L183.79,55.83 L184.69,55.81 L185.59,55.8 L186.49,55.78 L187.39,55.77 L188.29,55.75 L189.18,55.74 L190.08,55.73 L190.98,55.71 L191.88,55.7 L192.78,55.69 L193.68,55.68 L194.58,55.67 L195.48,55.66 L196.37,55.65 L197.27,55.64 L198.17,55.63 L199.07,55.62 L199.97,55.61 L200.87,55.6 L201.77,55.6 L202.67,55.59 L203.57,55.58 L204.47,55.57 L205.37,55.57 L206.27,55.56 L207.17,55.55 L208.07,55.55 L208.97,55.54 L209.87,55.53 L210.77,55.53 L211.67,55.52 L212.57,55.51 L213.47,55.51 L214.37,55.5 L215.27,55.5 L216.17,55.49 L217.07,55.49 L217.97,55.48 L218.87,55.48 L219.77,55.47 L220.67,55.47 L221.57,55.46 L222.48,55.46 L223.38,55.45 L224.28,55.45 L225.18,55.44 L226.08,55.44 L226.98,55.44 L227.88,55.43 L228.78,55.43 L229.68,55.42 L230.58,55.42 L231.48,55.41 L232.38,55.41 L233.28,55.41 L234.18,55.4 L235.08,55.4 L235.98,55.39 L236.89,55.39 L237.79,55.38 L238.69,55.38 L239.59,55.37 L240.49,55.37 L241.39,55.36 L242.29,55.36 L243.19,55.35 L244.09,55.35 L244.99,55.34 L245.89,55.34 L246.79,55.33 L247.68,55.32 L248.56,55.32 L249.41,55.31 L250.19,55.31 L251.06,55.3 L251.54,55.3" fill="none" stroke="#000080" stroke-width="1.75" stroke-linejoin="round"/>
<path d="M128.89,192 L128.92,191.27 L128.95,190.55 L128.99,189.74 L129.03,188.88 L129.07,188 L129.11,187.1 L129.15,186.21 L129.19,185.31 L129.23,184.41 L129.27,183.51 L129.31,182.61 L129.35,181.71 L129.39,180.81 L129.43,179.91 L129.47,179.01 L129.51,178.11 L129.55,177.22 L129.59,176.32 L129.63,175.42 L129.67,174.52 L129.71,173.62 L129.75,172.72 L129.79,171.82 L129.83,170.92 L129.87,170.02 L129.91,169.12 L129.95,168.22 L129.99,167.33 L130.02,166.43 L130.06,165.53 L130.1,164.63 L130.14,163.73 L130.18,162.83 L130.22,161.93 L130.26,161.03 L130.3,160.13 L130.34,159.23 L130.38,158.33 L130.42,157.43 L130.46,156.54 L130.5,155.64 L130.54,154.74 L130.58,153.84 L130.62,152.94 L130.66,152.04 L130.7,151.14 L130.74,150.24 L130.78,149.34 L130.82,148.44 L130.86,147.54 L130.9,146.65 L130.94,145.75 L130.98,144.85 L131.02,143.95 L131.06,143.05 L131.1,142.15 L131.14,141.25 L131.18,140.35 L131.22,139.45 L131.26,138.55 L131.3,137.65 L131.34,136.76 L131.38,135.86 L131.42,134.96 L131.46,134.06 L131.49,133.16 L131.53,132.26 L131.57,131.36 L131.61,130.46 L131.64,129.56 L131.68,128.66 L131.72,127.76 L131.75,126.86 L131.79,125.96 L131.83,125.06 L131.86,124.16 L131.9,123.26 L131.94,122.37 L131.97,121.47 L132.01,120.57 L132.05,119.67 L132.09,118.77 L132.13,117.87 L132.16,116.97 L132.2,116.07 L132.24,115.17 L132.28,114.27 L132.32,113.37 L132.36,112.47 L132.4,111.58 L132.45,110.68 L132.49,109.78 L132.53,108.88 L132.58,107.98 L132.62,107.08 L132.67,106.18 L132.71,105.28 L132.76,104.38 L132.81,103.49 L132.86,102.59 L132.91,101.69 L132.96,100.79 L133.01,99.89 L133.06,98.99 L133.12,98.1 L133.17,97.2 L133.23,96.3 L133.28,95.4 L133.34,94.5 L133.4,93.6 L133.46,92.71 L133.53,91.81 L133.59,90.91 L133.66,90.01 L133.73,89.11 L133.79,88.22 L133.86,87.32 L133.94,86.42 L134.01,85.52 L134.09,84.63 L134.16,83.73 L134.24,82.84 L134.32,81.94 L134.4,81.04 L134.49,80.14 L134.57,79.24 L134.66,78.34 L134.74,77.44 L134.83,76.53 L134.92,75.63 L135.01,74.72 L135.11,73.81 L135.21,72.91 L135.32,72.01 L135.44,71.12 L135.57,70.23 L135.71,69.35 L135.87,68.48 L136.05,67.62 L136.26,66.76 L136.5,65.91 L136.79,65.06 L137.12,64.22 L137.49,63.4 L137.91,62.59 L138.36,61.8 L138.84,61.04 L139.35,60.31 L139.9,59.61 L140.49,58.93 L141.11,58.29 L141.77,57.67 L142.46,57.1 L143.18,56.56 L143.93,56.06 L144.71,55.61 L145.5,55.2 L146.32,54.83 L147.16,54.51 L148.01,54.22 L148.87,53.98 L149.74,53.76 L150.62,53.57 L151.51,53.4 L152.39,53.24 L153.28,53.09 L154.17,52.94 L155.06,52.79 L155.94,52.64 L156.83,52.5 L157.72,52.35 L158.61,52.22 L159.5,52.08 L160.4,51.95 L161.29,51.82 L162.18,51.69 L163.07,51.58 L163.96,51.46 L164.86,51.35 L165.75,51.25 L166.64,51.15 L167.54,51.06 L168.43,50.97 L169.33,50.88 L170.22,50.8 L171.12,50.72 L172.01,50.64 L172.91,50.56 L173.8,50.49 L174.7,50.41 L175.6,50.34 L176.49,50.27 L177.39,50.2 L178.29,50.13 L179.19,50.06 L180.08,49.99 L180.98,49.93 L181.88,49.87 L182.78,49.8 L183.68,49.74 L184.58,49.68 L185.48,49.63 L186.38,49.57 L187.27,49.52 L188.17,49.46 L189.07,49.41 L189.97,49.36 L190.87,49.31 L191.77,49.26 L192.67,49.22 L193.57,49.17 L194.47,49.13 L195.37,49.09 L196.27,49.05 L197.17,49.01 L198.07,48.98 L198.97,48.94 L199.87,48.91 L200.76,48.88 L201.66,48.84 L202.56,48.81 L203.46,48.78 L204.36,48.75 L205.26,48.73 L206.16,48.7 L207.06,48.67 L207.96,48.64 L208.86,48.62 L209.76,48.59 L210.66,48.57 L211.55,48.54 L212.45,48.52 L213.35,48.5 L214.25,48.47 L215.15,48.45 L216.05,48.43 L216.95,48.41 L217.85,48.39 L218.75,48.37 L219.65,48.35 L220.55,48.33 L221.45,48.31 L222.35,48.29 L223.25,48.27 L224.15,48.25 L225.05,48.23 L225.95,48.21 L226.85,48.19 L227.75,48.18 L228.65,48.16 L229.55,48.14 L230.45,48.12 L231.35,48.1 L232.25,48.09 L233.15,48.07 L234.05,48.05 L234.95,48.03 L235.85,48.02 L236.75,48 L237.65,47.98 L238.55,47.96 L239.45,47.95 L240.35,47.93 L241.25,47.91 L242.15,47.89 L243.05,47.87 L243.95,47.85 L244.85,47.84 L245.75,47.82 L246.65,47.8 L247.54,47.78 L248.43,47.76 L249.28,47.74 L250.08,47.72 L250.97,47.7 L251.47,47.69" fill="none" stroke="#800080" stroke-width="1.75" stroke-linejoin="round"/>
<path d="M128.69,192 L128.72,191.27 L128.75,190.55 L128.79,189.74 L128.83,188.88 L128.87,188 L128.91,187.1 L128.95,186.21 L128.99,185.31 L129.03,184.41 L129.07,183.51 L129.11,182.61 L129.15,181.71 L129.19,180.81 L129.23,179.91 L129.27,179.01 L129.31,178.11 L129.35,177.22 L129.39,176.32 L129.43,175.42 L129.47,174.52 L129.51,173.62 L129.55,172.72 L129.59,171.82 L129.63,170.92 L129.67,170.02 L129.71,169.12 L129.75,168.22 L129.79,167.33 L129.83,166.43 L129.87,165.53 L129.91,164.63 L129.96,163.73 L130,162.83 L130.04,161.93 L130.08,161.03 L130.12,160.13 L130.16,159.23 L130.2,158.33 L130.24,157.44 L130.28,156.54 L130.32,155.64 L130.36,154.74 L130.4,153.84 L130.44,152.94 L130.48,152.04 L130.52,151.14 L130.56,150.24 L130.6,149.34 L130.64,148.44 L130.68,147.55 L130.72,146.65 L130.76,145.75 L130.8,144.85 L130.84,143.95 L130.87,143.05 L130.91,142.15 L130.95,141.25 L130.98,140.35 L131.02,139.45 L131.06,138.55 L131.09,137.65 L131.13,136.75 L131.16,135.85 L131.19,134.96 L131.22,134.06 L131.26,133.16 L131.29,132.26 L131.32,131.36 L131.35,130.46 L131.38,129.56 L131.41,128.66 L131.44,127.76 L131.47,126.86 L131.5,125.96 L131.53,125.06 L131.56,124.16 L131.59,123.26 L131.62,122.36 L131.65,121.46 L131.68,120.56 L131.71,119.66 L131.74,118.76 L131.77,117.86 L131.8,116.96 L131.83,116.06 L131.86,115.16 L131.89,114.26 L131.92,113.36 L131.96,112.47 L131.99,111.57 L132.03,110.67 L132.06,109.77 L132.1,108.87 L132.13,107.97 L132.17,107.07 L132.21,106.17 L132.25,105.27 L132.29,104.37 L132.33,103.47 L132.37,102.58 L132.42,101.68 L132.46,100.78 L132.51,99.88 L132.56,98.98 L132.61,98.08 L132.66,97.19 L132.71,96.29 L132.77,95.39 L132.83,94.49 L132.89,93.59 L132.95,92.69 L133.01,91.8 L133.08,90.9 L133.14,90 L133.21,89.1 L133.28,88.2 L133.36,87.31 L133.43,86.41 L133.51,85.51 L133.58,84.62 L133.66,83.72 L133.74,82.82 L133.82,81.93 L133.91,81.03 L133.99,80.14 L134.08,79.24 L134.18,78.35 L134.27,77.45 L134.37,76.56 L134.48,75.66 L134.59,74.77 L134.7,73.88 L134.81,72.98 L134.93,72.09 L135.05,71.2 L135.17,70.31 L135.3,69.41 L135.43,68.52 L135.55,67.63 L135.68,66.73 L135.82,65.84 L135.95,64.94 L136.1,64.05 L136.26,63.16 L136.43,62.29 L136.63,61.41 L136.86,60.55 L137.12,59.7 L137.42,58.86 L137.76,58.02 L138.13,57.2 L138.55,56.39 L138.99,55.6 L139.46,54.83 L139.96,54.09 L140.49,53.37 L141.06,52.67 L141.66,52 L142.3,51.36 L142.97,50.77 L143.67,50.22 L144.41,49.73 L145.18,49.29 L145.98,48.9 L146.8,48.54 L147.64,48.21 L148.49,47.9 L149.35,47.62 L150.21,47.35 L151.07,47.1 L151.94,46.87 L152.81,46.67 L153.69,46.48 L154.57,46.3 L155.45,46.13 L156.33,45.97 L157.22,45.82 L158.11,45.68 L159,45.54 L159.89,45.4 L160.79,45.28 L161.68,45.15 L162.58,45.04 L163.47,44.92 L164.37,44.81 L165.26,44.71 L166.16,44.61 L167.05,44.51 L167.95,44.41 L168.84,44.32 L169.74,44.23 L170.63,44.14 L171.53,44.05 L172.42,43.96 L173.32,43.88 L174.21,43.79 L175.11,43.71 L176,43.63 L176.9,43.55 L177.8,43.47 L178.69,43.39 L179.59,43.32 L180.49,43.25 L181.39,43.17 L182.28,43.1 L183.18,43.03 L184.08,42.96 L184.98,42.9 L185.88,42.83 L186.78,42.77 L187.67,42.71 L188.57,42.65 L189.47,42.59 L190.37,42.53 L191.27,42.47 L192.17,42.42 L193.07,42.37 L193.97,42.31 L194.86,42.26 L195.76,42.21 L196.66,42.17 L197.56,42.12 L198.46,42.08 L199.36,42.03 L200.26,41.99 L201.16,41.95 L202.05,41.91 L202.95,41.87 L203.85,41.83 L204.75,41.8 L205.65,41.76 L206.55,41.73 L207.45,41.69 L208.35,41.66 L209.25,41.62 L210.14,41.59 L211.04,41.56 L211.94,41.53 L212.84,41.5 L213.74,41.47 L214.64,41.44 L215.54,41.41 L216.44,41.38 L217.34,41.35 L218.24,41.32 L219.14,41.29 L220.04,41.27 L220.94,41.24 L221.84,41.21 L222.74,41.19 L223.64,41.16 L224.54,41.14 L225.44,41.11 L226.34,41.09 L227.24,41.06 L228.14,41.04 L229.04,41.01 L229.94,40.99 L230.84,40.96 L231.74,40.94 L232.64,40.92 L233.54,40.89 L234.44,40.87 L235.34,40.84 L236.24,40.82 L237.14,40.8 L238.04,40.77 L238.94,40.75 L239.84,40.72 L240.74,40.7 L241.64,40.67 L242.54,40.65 L243.43,40.62 L244.33,40.6 L245.23,40.57 L246.13,40.55 L247.03,40.52 L247.92,40.49 L248.8,40.47 L249.63,40.44 L250.39,40.42 L251.21,40.39 L251.51,40.38" fill="none" stroke="#800000" stroke-width="1.75" stroke-linejoin="round"/>
<path d="M129.07,192 L129.07,191.26 L129.08,190.55 L129.09,189.74 L129.09,188.88 L129.1,187.99 L129.11,187.1 L129.11,186.2 L129.12,185.3 L129.13,184.4 L129.14,183.5 L129.14,182.6 L129.15,181.7 L129.16,180.8 L129.17,179.9 L129.17,179 L129.18,178.1 L129.19,177.2 L129.2,176.3 L129.2,175.4 L129.21,174.5 L129.22,173.6 L129.23,172.7 L129.23,171.8 L129.24,170.9 L129.25,170 L129.25,169.1 L129.26,168.2 L129.27,167.3 L129.27,166.4 L129.28,165.5 L129.29,164.6 L129.29,163.7 L129.3,162.8 L129.31,161.9 L129.31,161 L129.32,160.1 L129.33,159.2 L129.33,158.3 L129.34,157.4 L129.35,156.5 L129.36,155.6 L129.36,154.7 L129.37,153.8 L129.38,152.9 L129.38,152 L129.39,151.1 L129.4,150.2 L129.41,149.3 L129.42,148.4 L129.42,147.5 L129.43,146.6 L129.44,145.7 L129.45,144.8 L129.46,143.9 L129.47,143 L129.48,142.1 L129.49,141.2 L129.5,140.3 L129.51,139.4 L129.52,138.5 L129.53,137.6 L129.54,136.7 L129.55,135.8 L129.56,134.9 L129.57,134 L129.58,133.1 L129.6,132.2 L129.61,131.3 L129.62,130.4 L129.63,129.5 L129.65,128.6 L129.66,127.7 L129.67,126.8 L129.69,125.9 L129.7,125 L129.72,124.1 L129.73,123.2 L129.75,122.3 L129.76,121.4 L129.78,120.5 L129.8,119.6 L129.81,118.7 L129.83,117.8 L129.85,116.9 L129.87,116 L129.89,115.1 L129.91,114.2 L129.93,113.3 L129.95,112.41 L129.97,111.51 L129.99,110.61 L130.01,109.71 L130.03,108.81 L130.05,107.91 L130.08,107.01 L130.1,106.11 L130.13,105.21 L130.15,104.31 L130.18,103.41 L130.21,102.51 L130.24,101.61 L130.27,100.71 L130.3,99.81 L130.33,98.91 L130.37,98.01 L130.4,97.11 L130.44,96.21 L130.48,95.31 L130.51,94.41 L130.55,93.51 L130.6,92.61 L130.64,91.71 L130.68,90.81 L130.73,89.91 L130.78,89.02 L130.82,88.12 L130.87,87.22 L130.93,86.32 L130.98,85.42 L131.04,84.53 L131.11,83.63 L131.17,82.73 L131.25,81.83 L131.33,80.94 L131.42,80.04 L131.51,79.14 L131.61,78.25 L131.71,77.36 L131.83,76.46 L131.95,75.57 L132.08,74.68 L132.22,73.8 L132.38,72.91 L132.54,72.03 L132.72,71.14 L132.91,70.26 L133.11,69.39 L133.32,68.51 L133.53,67.64 L133.76,66.76 L133.99,65.9 L134.24,65.03 L134.49,64.16 L134.75,63.3 L135.01,62.43 L135.28,61.57 L135.55,60.7 L135.83,59.82 L136.11,58.95 L136.39,58.07 L136.69,57.21 L137.01,56.36 L137.35,55.53 L137.71,54.73 L138.12,53.96 L138.56,53.23 L139.07,52.53 L139.62,51.87 L140.23,51.23 L140.89,50.62 L141.58,50.02 L142.29,49.45 L143.01,48.87 L143.73,48.31 L144.45,47.75 L145.18,47.2 L145.91,46.65 L146.64,46.12 L147.39,45.61 L148.14,45.13 L148.9,44.67 L149.68,44.25 L150.47,43.85 L151.27,43.47 L152.08,43.11 L152.9,42.77 L153.73,42.43 L154.57,42.1 L155.41,41.78 L156.27,41.47 L157.13,41.17 L157.99,40.88 L158.86,40.61 L159.74,40.34 L160.62,40.09 L161.5,39.85 L162.38,39.62 L163.27,39.41 L164.15,39.21 L165.04,39.03 L165.92,38.86 L166.8,38.71 L167.68,38.57 L168.57,38.45 L169.45,38.33 L170.33,38.22 L171.21,38.11 L172.1,38.01 L172.99,37.91 L173.87,37.82 L174.77,37.72 L175.66,37.64 L176.55,37.55 L177.44,37.47 L178.34,37.39 L179.24,37.31 L180.14,37.24 L181.03,37.16 L181.93,37.1 L182.84,37.03 L183.74,36.96 L184.64,36.9 L185.54,36.84 L186.44,36.78 L187.35,36.72 L188.25,36.66 L189.16,36.6 L190.06,36.55 L190.96,36.5 L191.87,36.44 L192.77,36.39 L193.67,36.34 L194.58,36.29 L195.48,36.24 L196.38,36.19 L197.28,36.15 L198.18,36.1 L199.08,36.05 L199.98,36 L200.88,35.95 L201.78,35.91 L202.68,35.86 L203.57,35.82 L204.47,35.77 L205.37,35.73 L206.27,35.69 L207.17,35.64 L208.07,35.6 L208.97,35.56 L209.87,35.52 L210.77,35.48 L211.66,35.44 L212.56,35.41 L213.46,35.37 L214.36,35.33 L215.26,35.3 L216.16,35.26 L217.06,35.22 L217.96,35.19 L218.86,35.15 L219.76,35.12 L220.66,35.09 L221.56,35.05 L222.46,35.02 L223.36,34.99 L224.25,34.95 L225.15,34.92 L226.05,34.89 L226.95,34.86 L227.85,34.83 L228.75,34.79 L229.65,34.76 L230.55,34.73 L231.45,34.7 L232.35,34.67 L233.25,34.64 L234.15,34.61 L235.05,34.58 L235.95,34.55 L236.85,34.51 L237.75,34.48 L238.65,34.45 L239.55,34.42 L240.45,34.39 L241.35,34.36 L242.25,34.32 L243.15,34.29 L244.05,34.26 L244.95,34.23 L245.85,34.19 L246.74,34.16 L247.64,34.13 L248.52,34.09 L249.37,34.06 L250.15,34.03 L251.03,34 L251.52,33.98" fill="none" stroke="#008000" stroke-width="1.75" stroke-linejoin="round"/>
<path d="M128.86,192 L128.86,191.26 L128.86,190.55 L128.86,189.74 L128.86,188.88 L128.87,187.99 L128.87,187.1 L128.87,186.2 L128.87,185.3 L128.88,184.4 L128.88,183.5 L128.88,182.6 L128.88,181.7 L128.89,180.8 L128.89,179.9 L128.89,179 L128.89,178.1 L128.9,177.2 L128.9,176.3 L128.9,175.4 L128.9,174.5 L128.91,173.6 L128.91,172.7 L128.91,171.8 L128.91,170.9 L128.91,170 L128.92,169.1 L128.92,168.2 L128.92,167.3 L128.92,166.4 L128.92,165.5 L128.93,164.6 L128.93,163.7 L128.93,162.8 L128.93,161.9 L128.93,161 L128.94,160.1 L128.94,159.2 L128.94,158.3 L128.94,157.4 L128.94,156.5 L128.95,155.6 L128.95,154.7 L128.95,153.8 L128.95,152.9 L128.96,152 L128.96,151.1 L128.96,150.2 L128.96,149.3 L128.97,148.4 L128.97,147.5 L128.97,146.6 L128.98,145.7 L128.98,144.8 L128.98,143.9 L128.99,143 L128.99,142.1 L129,141.2 L129,140.3 L129,139.4 L129.01,138.5 L129.02,137.6 L129.02,136.7 L129.03,135.8 L129.04,134.9 L129.05,134 L129.06,133.1 L129.07,132.2 L129.08,131.3 L129.09,130.4 L129.11,129.5 L129.12,128.6 L129.13,127.7 L129.15,126.8 L129.16,125.9 L129.18,125 L129.2,124.1 L129.21,123.2 L129.23,122.3 L129.25,121.4 L129.27,120.5 L129.28,119.6 L129.3,118.7 L129.32,117.8 L129.34,116.9 L129.36,116 L129.38,115.1 L129.4,114.2 L129.42,113.3 L129.44,112.4 L129.47,111.5 L129.49,110.6 L129.51,109.7 L129.53,108.8 L129.55,107.9 L129.58,107.01 L129.6,106.11 L129.63,105.21 L129.65,104.31 L129.68,103.41 L129.71,102.51 L129.74,101.61 L129.77,100.71 L129.8,99.81 L129.83,98.91 L129.87,98.01 L129.9,97.11 L129.94,96.21 L129.98,95.31 L130.01,94.41 L130.05,93.51 L130.1,92.61 L130.14,91.71 L130.18,90.81 L130.23,89.91 L130.28,89.01 L130.32,88.12 L130.37,87.22 L130.43,86.32 L130.48,85.42 L130.54,84.53 L130.61,83.63 L130.68,82.73 L130.75,81.83 L130.83,80.94 L130.92,80.04 L131.01,79.14 L131.11,78.25 L131.22,77.36 L131.33,76.46 L131.44,75.57 L131.57,74.68 L131.7,73.79 L131.85,72.9 L132,72.02 L132.16,71.13 L132.34,70.25 L132.52,69.37 L132.72,68.49 L132.92,67.61 L133.14,66.74 L133.37,65.87 L133.61,65 L133.87,64.14 L134.12,63.28 L134.39,62.41 L134.65,61.54 L134.92,60.67 L135.18,59.79 L135.44,58.9 L135.71,58.02 L135.98,57.13 L136.26,56.26 L136.56,55.4 L136.88,54.57 L137.23,53.77 L137.62,53.01 L138.06,52.28 L138.56,51.6 L139.12,50.95 L139.74,50.33 L140.42,49.74 L141.13,49.18 L141.86,48.62 L142.6,48.08 L143.35,47.54 L144.09,47.01 L144.83,46.49 L145.58,45.97 L146.33,45.47 L147.1,44.98 L147.86,44.52 L148.64,44.07 L149.43,43.65 L150.22,43.26 L151.02,42.88 L151.84,42.51 L152.66,42.16 L153.48,41.82 L154.32,41.49 L155.16,41.16 L156,40.85 L156.86,40.54 L157.71,40.24 L158.58,39.95 L159.44,39.67 L160.31,39.4 L161.18,39.14 L162.05,38.88 L162.93,38.64 L163.8,38.41 L164.68,38.18 L165.55,37.97 L166.43,37.76 L167.3,37.57 L168.18,37.38 L169.05,37.2 L169.93,37.03 L170.8,36.86 L171.68,36.69 L172.56,36.53 L173.44,36.37 L174.33,36.22 L175.21,36.07 L176.1,35.92 L176.99,35.78 L177.87,35.63 L178.76,35.5 L179.65,35.36 L180.55,35.23 L181.44,35.1 L182.33,34.97 L183.23,34.85 L184.12,34.73 L185.02,34.61 L185.91,34.49 L186.81,34.38 L187.71,34.27 L188.61,34.16 L189.5,34.05 L190.4,33.94 L191.3,33.84 L192.2,33.74 L193.09,33.63 L193.99,33.54 L194.89,33.44 L195.79,33.34 L196.68,33.25 L197.58,33.15 L198.47,33.06 L199.37,32.97 L200.26,32.88 L201.16,32.79 L202.05,32.7 L202.95,32.61 L203.84,32.53 L204.74,32.44 L205.63,32.36 L206.53,32.28 L207.43,32.2 L208.32,32.12 L209.22,32.04 L210.11,31.97 L211.01,31.89 L211.91,31.82 L212.8,31.74 L213.7,31.67 L214.6,31.6 L215.49,31.53 L216.39,31.46 L217.29,31.39 L218.19,31.32 L219.08,31.26 L219.98,31.19 L220.88,31.12 L221.78,31.06 L222.68,30.99 L223.57,30.93 L224.47,30.87 L225.37,30.8 L226.27,30.74 L227.17,30.68 L228.06,30.61 L228.96,30.55 L229.86,30.49 L230.76,30.43 L231.66,30.37 L232.56,30.3 L233.45,30.24 L234.35,30.18 L235.25,30.12 L236.15,30.06 L237.05,30 L237.95,29.94 L238.85,29.87 L239.74,29.81 L240.64,29.75 L241.54,29.69 L242.44,29.62 L243.34,29.56 L244.23,29.5 L245.13,29.43 L246.03,29.37 L246.93,29.3 L247.82,29.24 L248.69,29.17 L249.53,29.11 L250.3,29.05 L251.14,28.99 L251.46,28.96" fill="none" stroke="#008080" stroke-width="1.75" stroke-linejoin="round"/>
<path d="M122.13,192 L122.16,191.27 L122.19,190.55 L122.23,189.74 L122.26,188.88 L122.3,188 L122.34,187.1 L122.37,186.21 L122.41,185.31 L122.45,184.41 L122.49,183.51 L122.52,182.61 L122.56,181.71 L122.6,180.81 L122.64,179.91 L122.67,179.01 L122.71,178.11 L122.75,177.21 L122.79,176.31 L122.83,175.42 L122.86,174.52 L122.9,173.62 L122.94,172.72 L122.98,171.82 L123.02,170.92 L123.06,170.02 L123.1,169.12 L123.14,168.22 L123.18,167.32 L123.22,166.42 L123.26,165.52 L123.3,164.63 L123.34,163.73 L123.38,162.83 L123.42,161.93 L123.46,161.03 L123.5,160.13 L123.54,159.23 L123.58,158.33 L123.62,157.43 L123.66,156.53 L123.7,155.63 L123.74,154.73 L123.78,153.84 L123.81,152.94 L123.85,152.04 L123.89,151.14 L123.93,150.24 L123.96,149.34 L124,148.44 L124.03,147.54 L124.07,146.64 L124.1,145.74 L124.13,144.84 L124.17,143.94 L124.2,143.04 L124.23,142.14 L124.26,141.24 L124.29,140.35 L124.32,139.45 L124.34,138.55 L124.37,137.65 L124.4,136.75 L124.43,135.85 L124.45,134.95 L124.48,134.05 L124.5,133.15 L124.53,132.25 L124.55,131.35 L124.58,130.45 L124.6,129.55 L124.63,128.65 L124.65,127.75 L124.68,126.85 L124.7,125.95 L124.72,125.05 L124.74,124.15 L124.77,123.25 L124.79,122.35 L124.81,121.45 L124.83,120.55 L124.86,119.65 L124.88,118.75 L124.9,117.85 L124.92,116.95 L124.94,116.05 L124.96,115.15 L124.98,114.26 L125,113.36 L125.02,112.46 L125.05,111.56 L125.07,110.66 L125.09,109.76 L125.11,108.86 L125.13,107.96 L125.15,107.06 L125.17,106.16 L125.19,105.26 L125.2,104.36 L125.22,103.46 L125.24,102.56 L125.26,101.66 L125.28,100.76 L125.3,99.86 L125.32,98.96 L125.33,98.06 L125.35,97.16 L125.37,96.26 L125.38,95.36 L125.4,94.46 L125.42,93.56 L125.44,92.66 L125.46,91.76 L125.49,90.86 L125.53,89.96 L125.57,89.06 L125.63,88.17 L125.69,87.27 L125.77,86.37 L125.85,85.48 L125.95,84.58 L126.05,83.69 L126.16,82.79 L126.26,81.9 L126.38,81 L126.49,80.11 L126.61,79.22 L126.73,78.32 L126.86,77.43 L127,76.54 L127.14,75.65 L127.29,74.77 L127.46,73.88 L127.63,73 L127.82,72.12 L128.03,71.25 L128.25,70.38 L128.5,69.51 L128.75,68.65 L129.03,67.79 L129.31,66.94 L129.6,66.08 L129.9,65.24 L130.22,64.39 L130.54,63.55 L130.87,62.71 L131.22,61.88 L131.57,61.06 L131.94,60.24 L132.32,59.42 L132.72,58.62 L133.13,57.82 L133.56,57.03 L133.99,56.23 L134.43,55.45 L134.88,54.66 L135.33,53.87 L135.78,53.08 L136.25,52.3 L136.74,51.55 L137.26,50.84 L137.84,50.19 L138.47,49.6 L139.16,49.06 L139.89,48.57 L140.64,48.09 L141.4,47.61 L142.16,47.13 L142.92,46.64 L143.67,46.14 L144.42,45.64 L145.18,45.15 L145.93,44.66 L146.69,44.17 L147.46,43.69 L148.23,43.23 L149.01,42.8 L149.8,42.39 L150.61,42.02 L151.42,41.67 L152.25,41.34 L153.08,41.02 L153.92,40.72 L154.77,40.43 L155.62,40.15 L156.48,39.88 L157.35,39.62 L158.22,39.37 L159.09,39.12 L159.97,38.89 L160.85,38.66 L161.73,38.43 L162.62,38.22 L163.5,38 L164.38,37.8 L165.27,37.6 L166.15,37.4 L167.03,37.21 L167.91,37.03 L168.79,36.84 L169.67,36.66 L170.55,36.49 L171.43,36.31 L172.31,36.14 L173.19,35.97 L174.07,35.81 L174.96,35.64 L175.84,35.48 L176.73,35.32 L177.61,35.16 L178.5,35.01 L179.39,34.86 L180.28,34.71 L181.17,34.56 L182.06,34.42 L182.95,34.28 L183.84,34.14 L184.73,34 L185.62,33.87 L186.52,33.73 L187.41,33.6 L188.3,33.48 L189.2,33.35 L190.09,33.23 L190.98,33.11 L191.88,32.99 L192.77,32.87 L193.66,32.76 L194.56,32.64 L195.45,32.53 L196.35,32.43 L197.24,32.32 L198.13,32.22 L199.03,32.11 L199.92,32.01 L200.81,31.92 L201.71,31.82 L202.6,31.72 L203.49,31.63 L204.39,31.54 L205.28,31.45 L206.18,31.36 L207.07,31.27 L207.97,31.19 L208.86,31.1 L209.76,31.02 L210.65,30.94 L211.55,30.86 L212.44,30.78 L213.34,30.7 L214.24,30.62 L215.13,30.55 L216.03,30.47 L216.93,30.4 L217.82,30.32 L218.72,30.25 L219.62,30.18 L220.52,30.11 L221.41,30.04 L222.31,29.97 L223.21,29.9 L224.11,29.83 L225,29.76 L225.9,29.69 L226.8,29.62 L227.7,29.56 L228.6,29.49 L229.5,29.42 L230.39,29.36 L231.29,29.29 L232.19,29.23 L233.09,29.16 L233.99,29.1 L234.89,29.03 L235.78,28.96 L236.68,28.9 L237.58,28.83 L238.48,28.77 L239.38,28.7 L240.27,28.63 L241.17,28.57 L242.07,28.5 L242.97,28.43 L243.87,28.36 L244.76,28.29 L245.66,28.22 L246.56,28.15 L247.45,28.08 L248.33,28.01 L249.19,27.95 L249.99,27.88 L250.7,27.82 L251.43,27.76" fill="none" stroke="#0000A0" stroke-width="1.75" stroke-linejoin="round"/>
<path d="M114.78,192.01 L114.82,191.27 L114.86,190.55 L114.91,189.75 L114.96,188.89 L115.01,188 L115.06,187.11 L115.11,186.21 L115.16,185.31 L115.21,184.41 L115.27,183.52 L115.32,182.62 L115.37,181.72 L115.42,180.82 L115.47,179.92 L115.53,179.02 L115.58,178.12 L115.63,177.23 L115.68,176.33 L115.73,175.43 L115.79,174.53 L115.84,173.63 L115.89,172.73 L115.95,171.84 L116,170.94 L116.05,170.04 L116.11,169.14 L116.16,168.24 L116.21,167.34 L116.27,166.44 L116.32,165.55 L116.38,164.65 L116.43,163.75 L116.48,162.85 L116.54,161.95 L116.59,161.05 L116.64,160.16 L116.69,159.26 L116.75,158.36 L116.8,157.46 L116.85,156.56 L116.9,155.66 L116.95,154.76 L117,153.87 L117.04,152.97 L117.09,152.07 L117.14,151.17 L117.18,150.27 L117.23,149.37 L117.27,148.47 L117.31,147.57 L117.36,146.67 L117.4,145.78 L117.44,144.88 L117.48,143.98 L117.52,143.08 L117.55,142.18 L117.59,141.28 L117.63,140.38 L117.67,139.48 L117.71,138.58 L117.75,137.68 L117.78,136.78 L117.82,135.88 L117.86,134.99 L117.91,134.09 L117.95,133.19 L117.99,132.29 L118.03,131.39 L118.08,130.49 L118.12,129.59 L118.17,128.69 L118.22,127.79 L118.26,126.9 L118.31,126 L118.36,125.1 L118.41,124.2 L118.46,123.3 L118.52,122.4 L118.57,121.5 L118.62,120.61 L118.67,119.71 L118.73,118.81 L118.78,117.91 L118.84,117.01 L118.9,116.11 L118.95,115.22 L119.01,114.32 L119.07,113.42 L119.13,112.52 L119.19,111.62 L119.25,110.73 L119.32,109.83 L119.38,108.93 L119.45,108.03 L119.52,107.14 L119.59,106.24 L119.67,105.34 L119.74,104.44 L119.81,103.55 L119.89,102.65 L119.96,101.75 L120.03,100.86 L120.1,99.96 L120.16,99.06 L120.22,98.16 L120.29,97.27 L120.35,96.37 L120.41,95.47 L120.47,94.57 L120.53,93.67 L120.59,92.78 L120.66,91.88 L120.73,90.98 L120.8,90.08 L120.88,89.19 L120.96,88.29 L121.05,87.39 L121.13,86.5 L121.23,85.6 L121.32,84.71 L121.42,83.81 L121.53,82.92 L121.64,82.03 L121.76,81.13 L121.89,80.24 L122.02,79.35 L122.16,78.47 L122.31,77.58 L122.47,76.69 L122.63,75.81 L122.81,74.92 L122.99,74.04 L123.18,73.16 L123.38,72.28 L123.58,71.4 L123.79,70.53 L124,69.65 L124.23,68.78 L124.46,67.91 L124.7,67.04 L124.96,66.18 L125.23,65.32 L125.52,64.47 L125.84,63.63 L126.17,62.8 L126.54,61.98 L126.92,61.17 L127.33,60.37 L127.74,59.56 L128.15,58.75 L128.56,57.94 L128.97,57.13 L129.38,56.31 L129.8,55.51 L130.23,54.71 L130.67,53.93 L131.13,53.17 L131.63,52.44 L132.16,51.73 L132.72,51.06 L133.32,50.41 L133.96,49.78 L134.64,49.18 L135.34,48.61 L136.06,48.07 L136.8,47.55 L137.56,47.07 L138.34,46.62 L139.13,46.2 L139.93,45.79 L140.74,45.39 L141.56,45 L142.37,44.61 L143.19,44.22 L144,43.82 L144.81,43.43 L145.62,43.04 L146.44,42.65 L147.26,42.28 L148.08,41.92 L148.91,41.57 L149.74,41.24 L150.57,40.92 L151.41,40.62 L152.26,40.32 L153.11,40.03 L153.96,39.75 L154.82,39.47 L155.68,39.2 L156.54,38.94 L157.41,38.68 L158.27,38.42 L159.14,38.18 L160.01,37.94 L160.89,37.7 L161.76,37.47 L162.64,37.25 L163.51,37.03 L164.39,36.82 L165.27,36.61 L166.14,36.41 L167.02,36.22 L167.9,36.03 L168.78,35.85 L169.65,35.67 L170.53,35.49 L171.41,35.32 L172.3,35.15 L173.18,34.98 L174.06,34.82 L174.94,34.66 L175.83,34.5 L176.72,34.34 L177.6,34.18 L178.49,34.03 L179.38,33.88 L180.27,33.73 L181.16,33.59 L182.05,33.44 L182.94,33.3 L183.83,33.17 L184.72,33.03 L185.61,32.89 L186.51,32.76 L187.4,32.63 L188.29,32.5 L189.18,32.38 L190.08,32.25 L190.97,32.13 L191.86,32.01 L192.76,31.89 L193.65,31.78 L194.55,31.66 L195.44,31.55 L196.33,31.44 L197.23,31.33 L198.12,31.22 L199.01,31.12 L199.91,31.01 L200.8,30.91 L201.69,30.81 L202.59,30.71 L203.48,30.62 L204.37,30.52 L205.27,30.42 L206.16,30.33 L207.06,30.24 L207.95,30.15 L208.85,30.06 L209.74,29.97 L210.64,29.88 L211.53,29.8 L212.43,29.71 L213.32,29.63 L214.22,29.55 L215.11,29.47 L216.01,29.39 L216.91,29.31 L217.8,29.23 L218.7,29.15 L219.6,29.07 L220.49,29 L221.39,28.92 L222.29,28.84 L223.19,28.77 L224.08,28.7 L224.98,28.62 L225.88,28.55 L226.78,28.48 L227.67,28.4 L228.57,28.33 L229.47,28.26 L230.37,28.19 L231.26,28.12 L232.16,28.04 L233.06,27.97 L233.96,27.9 L234.85,27.83 L235.75,27.76 L236.65,27.69 L237.55,27.62 L238.45,27.54 L239.34,27.47 L240.24,27.4 L241.14,27.33 L242.04,27.25 L242.93,27.18 L243.83,27.11 L244.73,27.03 L245.63,26.96 L246.52,26.88 L247.41,26.81 L248.3,26.73 L249.16,26.66 L249.96,26.59 L250.67,26.53 L251.41,26.46" fill="none" stroke="#FF8000" stroke-width="1.75" stroke-linejoin="round"/>
</g>
<rect x="58.2" y="20.8" width="193" height="166" fill="none" stroke="#3c3c3c" stroke-width="1.45"/>
<line x1="58.2" y1="186.8" x2="58.2" y2="183.6" stroke="#3c3c3c" stroke-width="1.0"/>
<line x1="70.26" y1="186.8" x2="70.26" y2="184.9" stroke="#3c3c3c" stroke-width="1.0"/>
<text x="58.2" y="197" font-size="10.0" text-anchor="middle" >-30</text>
<line x1="82.33" y1="186.8" x2="82.33" y2="183.6" stroke="#3c3c3c" stroke-width="1.0"/>
<line x1="94.39" y1="186.8" x2="94.39" y2="184.9" stroke="#3c3c3c" stroke-width="1.0"/>
<text x="82.33" y="197" font-size="10.0" text-anchor="middle" >-25</text>
<line x1="106.45" y1="186.8" x2="106.45" y2="183.6" stroke="#3c3c3c" stroke-width="1.0"/>
<line x1="118.51" y1="186.8" x2="118.51" y2="184.9" stroke="#3c3c3c" stroke-width="1.0"/>
<text x="106.45" y="197" font-size="10.0" text-anchor="middle" >-20</text>
<line x1="130.57" y1="186.8" x2="130.57" y2="183.6" stroke="#3c3c3c" stroke-width="1.0"/>
<line x1="142.64" y1="186.8" x2="142.64" y2="184.9" stroke="#3c3c3c" stroke-width="1.0"/>
<text x="130.57" y="197" font-size="10.0" text-anchor="middle" >-15</text>
<line x1="154.7" y1="186.8" x2="154.7" y2="183.6" stroke="#3c3c3c" stroke-width="1.0"/>
<line x1="166.76" y1="186.8" x2="166.76" y2="184.9" stroke="#3c3c3c" stroke-width="1.0"/>
<text x="154.7" y="197" font-size="10.0" text-anchor="middle" >-10</text>
<line x1="178.82" y1="186.8" x2="178.82" y2="183.6" stroke="#3c3c3c" stroke-width="1.0"/>
<line x1="190.89" y1="186.8" x2="190.89" y2="184.9" stroke="#3c3c3c" stroke-width="1.0"/>
<text x="178.82" y="197" font-size="10.0" text-anchor="middle" >-5</text>
<line x1="202.95" y1="186.8" x2="202.95" y2="183.6" stroke="#3c3c3c" stroke-width="1.0"/>
<line x1="215.01" y1="186.8" x2="215.01" y2="184.9" stroke="#3c3c3c" stroke-width="1.0"/>
<text x="202.95" y="197" font-size="10.0" text-anchor="middle" >0</text>
<line x1="227.07" y1="186.8" x2="227.07" y2="183.6" stroke="#3c3c3c" stroke-width="1.0"/>
<line x1="239.14" y1="186.8" x2="239.14" y2="184.9" stroke="#3c3c3c" stroke-width="1.0"/>
<text x="227.07" y="197" font-size="10.0" text-anchor="middle" >5</text>
<line x1="251.2" y1="186.8" x2="251.2" y2="183.6" stroke="#3c3c3c" stroke-width="1.0"/>
<text x="251.2" y="197" font-size="10.0" text-anchor="middle" >10</text>
<line x1="58.2" y1="20.8" x2="61.4" y2="20.8" stroke="#3c3c3c" stroke-width="1.0"/>
<line x1="58.2" y1="35.3" x2="60.1" y2="35.3" stroke="#3c3c3c" stroke-width="0.9"/>
<line x1="58.2" y1="31.65" x2="60.1" y2="31.65" stroke="#3c3c3c" stroke-width="0.9"/>
<line x1="58.2" y1="29.06" x2="60.1" y2="29.06" stroke="#3c3c3c" stroke-width="0.9"/>
<line x1="58.2" y1="27.05" x2="60.1" y2="27.05" stroke="#3c3c3c" stroke-width="0.9"/>
<line x1="58.2" y1="25.4" x2="60.1" y2="25.4" stroke="#3c3c3c" stroke-width="0.9"/>
<line x1="58.2" y1="24.01" x2="60.1" y2="24.01" stroke="#3c3c3c" stroke-width="0.9"/>
<line x1="58.2" y1="22.81" x2="60.1" y2="22.81" stroke="#3c3c3c" stroke-width="0.9"/>
<line x1="58.2" y1="21.75" x2="60.1" y2="21.75" stroke="#3c3c3c" stroke-width="0.9"/>
<text x="54.9" y="23.5" font-size="9.5" text-anchor="end">10<tspan font-size="6.0" dx="-0.5" dy="-5.4">-5</tspan></text>
<line x1="58.2" y1="41.55" x2="61.4" y2="41.55" stroke="#3c3c3c" stroke-width="1.0"/>
<line x1="58.2" y1="56.05" x2="60.1" y2="56.05" stroke="#3c3c3c" stroke-width="0.9"/>
<line x1="58.2" y1="52.4" x2="60.1" y2="52.4" stroke="#3c3c3c" stroke-width="0.9"/>
<line x1="58.2" y1="49.81" x2="60.1" y2="49.81" stroke="#3c3c3c" stroke-width="0.9"/>
<line x1="58.2" y1="47.8" x2="60.1" y2="47.8" stroke="#3c3c3c" stroke-width="0.9"/>
<line x1="58.2" y1="46.15" x2="60.1" y2="46.15" stroke="#3c3c3c" stroke-width="0.9"/>
<line x1="58.2" y1="44.76" x2="60.1" y2="44.76" stroke="#3c3c3c" stroke-width="0.9"/>
<line x1="58.2" y1="43.56" x2="60.1" y2="43.56" stroke="#3c3c3c" stroke-width="0.9"/>
<line x1="58.2" y1="42.5" x2="60.1" y2="42.5" stroke="#3c3c3c" stroke-width="0.9"/>
<text x="54.9" y="44.25" font-size="9.5" text-anchor="end">10<tspan font-size="6.0" dx="-0.5" dy="-5.4">-6</tspan></text>
<line x1="58.2" y1="62.3" x2="61.4" y2="62.3" stroke="#3c3c3c" stroke-width="1.0"/>
<line x1="58.2" y1="76.8" x2="60.1" y2="76.8" stroke="#3c3c3c" stroke-width="0.9"/>
<line x1="58.2" y1="73.15" x2="60.1" y2="73.15" stroke="#3c3c3c" stroke-width="0.9"/>
<line x1="58.2" y1="70.56" x2="60.1" y2="70.56" stroke="#3c3c3c" stroke-width="0.9"/>
<line x1="58.2" y1="68.55" x2="60.1" y2="68.55" stroke="#3c3c3c" stroke-width="0.9"/>
<line x1="58.2" y1="66.9" x2="60.1" y2="66.9" stroke="#3c3c3c" stroke-width="0.9"/>
<line x1="58.2" y1="65.51" x2="60.1" y2="65.51" stroke="#3c3c3c" stroke-width="0.9"/>
<line x1="58.2" y1="64.31" x2="60.1" y2="64.31" stroke="#3c3c3c" stroke-width="0.9"/>
<line x1="58.2" y1="63.25" x2="60.1" y2="63.25" stroke="#3c3c3c" stroke-width="0.9"/>
<text x="54.9" y="65" font-size="9.5" text-anchor="end">10<tspan font-size="6.0" dx="-0.5" dy="-5.4">-7</tspan></text>
<line x1="58.2" y1="83.05" x2="61.4" y2="83.05" stroke="#3c3c3c" stroke-width="1.0"/>
<line x1="58.2" y1="97.55" x2="60.1" y2="97.55" stroke="#3c3c3c" stroke-width="0.9"/>
<line x1="58.2" y1="93.9" x2="60.1" y2="93.9" stroke="#3c3c3c" stroke-width="0.9"/>
<line x1="58.2" y1="91.31" x2="60.1" y2="91.31" stroke="#3c3c3c" stroke-width="0.9"/>
<line x1="58.2" y1="89.3" x2="60.1" y2="89.3" stroke="#3c3c3c" stroke-width="0.9"/>
<line x1="58.2" y1="87.65" x2="60.1" y2="87.65" stroke="#3c3c3c" stroke-width="0.9"/>
<line x1="58.2" y1="86.26" x2="60.1" y2="86.26" stroke="#3c3c3c" stroke-width="0.9"/>
<line x1="58.2" y1="85.06" x2="60.1" y2="85.06" stroke="#3c3c3c" stroke-width="0.9"/>
<line x1="58.2" y1="84" x2="60.1" y2="84" stroke="#3c3c3c" stroke-width="0.9"/>
<text x="54.9" y="85.75" font-size="9.5" text-anchor="end">10<tspan font-size="6.0" dx="-0.5" dy="-5.4">-8</tspan></text>
<line x1="58.2" y1="103.8" x2="61.4" y2="103.8" stroke="#3c3c3c" stroke-width="1.0"/>
<line x1="58.2" y1="118.3" x2="60.1" y2="118.3" stroke="#3c3c3c" stroke-width="0.9"/>
<line x1="58.2" y1="114.65" x2="60.1" y2="114.65" stroke="#3c3c3c" stroke-width="0.9"/>
<line x1="58.2" y1="112.06" x2="60.1" y2="112.06" stroke="#3c3c3c" stroke-width="0.9"/>
<line x1="58.2" y1="110.05" x2="60.1" y2="110.05" stroke="#3c3c3c" stroke-width="0.9"/>
<line x1="58.2" y1="108.4" x2="60.1" y2="108.4" stroke="#3c3c3c" stroke-width="0.9"/>
<line x1="58.2" y1="107.01" x2="60.1" y2="107.01" stroke="#3c3c3c" stroke-width="0.9"/>
<line x1="58.2" y1="105.81" x2="60.1" y2="105.81" stroke="#3c3c3c" stroke-width="0.9"/>
<line x1="58.2" y1="104.75" x2="60.1" y2="104.75" stroke="#3c3c3c" stroke-width="0.9"/>
<text x="54.9" y="106.5" font-size="9.5" text-anchor="end">10<tspan font-size="6.0" dx="-0.5" dy="-5.4">-9</tspan></text>
<line x1="58.2" y1="124.55" x2="61.4" y2="124.55" stroke="#3c3c3c" stroke-width="1.0"/>
<line x1="58.2" y1="139.05" x2="60.1" y2="139.05" stroke="#3c3c3c" stroke-width="0.9"/>
<line x1="58.2" y1="135.4" x2="60.1" y2="135.4" stroke="#3c3c3c" stroke-width="0.9"/>
<line x1="58.2" y1="132.81" x2="60.1" y2="132.81" stroke="#3c3c3c" stroke-width="0.9"/>
<line x1="58.2" y1="130.8" x2="60.1" y2="130.8" stroke="#3c3c3c" stroke-width="0.9"/>
<line x1="58.2" y1="129.15" x2="60.1" y2="129.15" stroke="#3c3c3c" stroke-width="0.9"/>
<line x1="58.2" y1="127.76" x2="60.1" y2="127.76" stroke="#3c3c3c" stroke-width="0.9"/>
<line x1="58.2" y1="126.56" x2="60.1" y2="126.56" stroke="#3c3c3c" stroke-width="0.9"/>
<line x1="58.2" y1="125.5" x2="60.1" y2="125.5" stroke="#3c3c3c" stroke-width="0.9"/>
<text x="54.9" y="127.25" font-size="9.5" text-anchor="end">10<tspan font-size="6.0" dx="-0.5" dy="-5.4">-10</tspan></text>
<line x1="58.2" y1="145.3" x2="61.4" y2="145.3" stroke="#3c3c3c" stroke-width="1.0"/>
<line x1="58.2" y1="159.8" x2="60.1" y2="159.8" stroke="#3c3c3c" stroke-width="0.9"/>
<line x1="58.2" y1="156.15" x2="60.1" y2="156.15" stroke="#3c3c3c" stroke-width="0.9"/>
<line x1="58.2" y1="153.56" x2="60.1" y2="153.56" stroke="#3c3c3c" stroke-width="0.9"/>
<line x1="58.2" y1="151.55" x2="60.1" y2="151.55" stroke="#3c3c3c" stroke-width="0.9"/>
<line x1="58.2" y1="149.9" x2="60.1" y2="149.9" stroke="#3c3c3c" stroke-width="0.9"/>
<line x1="58.2" y1="148.51" x2="60.1" y2="148.51" stroke="#3c3c3c" stroke-width="0.9"/>
<line x1="58.2" y1="147.31" x2="60.1" y2="147.31" stroke="#3c3c3c" stroke-width="0.9"/>
<line x1="58.2" y1="146.25" x2="60.1" y2="146.25" stroke="#3c3c3c" stroke-width="0.9"/>
<text x="54.9" y="148" font-size="9.5" text-anchor="end">10<tspan font-size="6.0" dx="-0.5" dy="-5.4">-11</tspan></text>
<line x1="58.2" y1="166.05" x2="61.4" y2="166.05" stroke="#3c3c3c" stroke-width="1.0"/>
<line x1="58.2" y1="180.55" x2="60.1" y2="180.55" stroke="#3c3c3c" stroke-width="0.9"/>
<line x1="58.2" y1="176.9" x2="60.1" y2="176.9" stroke="#3c3c3c" stroke-width="0.9"/>
<line x1="58.2" y1="174.31" x2="60.1" y2="174.31" stroke="#3c3c3c" stroke-width="0.9"/>
<line x1="58.2" y1="172.3" x2="60.1" y2="172.3" stroke="#3c3c3c" stroke-width="0.9"/>
<line x1="58.2" y1="170.65" x2="60.1" y2="170.65" stroke="#3c3c3c" stroke-width="0.9"/>
<line x1="58.2" y1="169.26" x2="60.1" y2="169.26" stroke="#3c3c3c" stroke-width="0.9"/>
<line x1="58.2" y1="168.06" x2="60.1" y2="168.06" stroke="#3c3c3c" stroke-width="0.9"/>
<line x1="58.2" y1="167" x2="60.1" y2="167" stroke="#3c3c3c" stroke-width="0.9"/>
<text x="54.9" y="168.75" font-size="9.5" text-anchor="end">10<tspan font-size="6.0" dx="-0.5" dy="-5.4">-12</tspan></text>
<line x1="58.2" y1="186.8" x2="61.4" y2="186.8" stroke="#3c3c3c" stroke-width="1.0"/>
<text x="54.9" y="189.5" font-size="9.5" text-anchor="end">10<tspan font-size="6.0" dx="-0.5" dy="-5.4">-13</tspan></text>
<text x="10.4" y="20.6" font-size="14.4" text-anchor="start" >(a)</text>
<text transform="translate(28.2,161) rotate(-90)" font-size="11.1">Drain current, <tspan font-style="italic">I</tspan><tspan font-size="6.1" dy="3.3">DS</tspan><tspan dy="-3.3">​</tspan> (A)</text>
<text x="101.5" y="214.6" font-size="11.3">Gate Voltage, <tspan font-style="italic">V</tspan><tspan font-size="6.1" dy="3.3">GS</tspan><tspan dy="-3.3">​</tspan> (V)</text>
<text x="66.2" y="32.6" font-size="9.85" text-anchor="start" ><tspan font-style="italic">T</tspan> from 20 K to 300 K,</text>
<text x="66.2" y="43.6" font-size="9.85" text-anchor="start" >Step 20 K</text>
<text x="152" y="141.8" font-size="9.85"><tspan font-style="italic">V</tspan><tspan font-size="5.8" dy="3.9">GS</tspan><tspan dy="-3.9">​</tspan> forward sweep</text>
<text x="152" y="157.3" font-size="9.85"><tspan font-style="italic">V</tspan><tspan font-size="5.8" dy="3.9">DS</tspan><tspan dy="-3.9">​</tspan> = 1 V</text>
<path d="M175.4,93.3 C170,77.2 157.8,57.1 147.9,42.9" fill="none" stroke="#000" stroke-width="1.05"/>
<path d="M144.4,38 L149.66,41.63 L146.06,44.17 Z" fill="#000"/>
<clipPath id="clipb"><rect x="349.7" y="20.8" width="193" height="166"/></clipPath>
<g clip-path="url(#clipb)">
<rect x="349.9" y="175.82" width="1.9" height="10.98" fill="#008080"/>
<rect x="351.65" y="175.04" width="1.9" height="11.76" fill="#FF8000"/>
<rect x="353.4" y="175.41" width="1.9" height="11.39" fill="#008000"/>
<rect x="355.15" y="176.04" width="1.9" height="10.76" fill="#000080"/>
<rect x="356.9" y="174.71" width="1.9" height="12.09" fill="#FF8000"/>
<rect x="358.65" y="176.11" width="1.9" height="10.69" fill="#008080"/>
<rect x="360.4" y="176.37" width="1.9" height="10.43" fill="#800000"/>
<rect x="362.15" y="175.25" width="1.9" height="11.55" fill="#008080"/>
<rect x="363.9" y="174.37" width="1.9" height="12.43" fill="#FF8000"/>
<rect x="365.65" y="176.4" width="1.9" height="10.4" fill="#008080"/>
<rect x="367.4" y="176.21" width="1.9" height="10.59" fill="#000080"/>
<rect x="369.15" y="175.17" width="1.9" height="11.63" fill="#800000"/>
<rect x="370.9" y="175.07" width="1.9" height="11.73" fill="#FF8000"/>
<rect x="372.65" y="176.15" width="1.9" height="10.65" fill="#800080"/>
<rect x="374.4" y="176.08" width="1.9" height="10.72" fill="#000080"/>
<rect x="376.15" y="175.35" width="1.9" height="11.45" fill="#800000"/>
<rect x="377.9" y="175.12" width="1.9" height="11.68" fill="#008080"/>
<rect x="379.65" y="174.35" width="1.9" height="12.45" fill="#FF8000"/>
<rect x="381.4" y="175.4" width="1.9" height="11.4" fill="#0000A0"/>
<rect x="383.15" y="175.02" width="1.9" height="11.78" fill="#008000"/>
<rect x="384.9" y="175.84" width="1.9" height="10.96" fill="#008080"/>
<rect x="386.65" y="174.97" width="1.9" height="11.83" fill="#FF8000"/>
<rect x="388.4" y="175.51" width="1.9" height="11.29" fill="#008000"/>
<rect x="390.15" y="175.9" width="1.9" height="10.9" fill="#000080"/>
<rect x="391.9" y="174.67" width="1.9" height="12.13" fill="#FF8000"/>
<rect x="393.65" y="175.55" width="1.9" height="11.25" fill="#008080"/>
<rect x="395.4" y="176.7" width="1.9" height="10.1" fill="#800000"/>
<rect x="397.15" y="176.69" width="1.9" height="10.11" fill="#008080"/>
<rect x="398.9" y="174.87" width="1.9" height="11.93" fill="#FF8000"/>
<rect x="400.65" y="175.6" width="1.9" height="11.2" fill="#008080"/>
<rect x="402.4" y="175.47" width="1.9" height="11.33" fill="#000080"/>
<rect x="404.15" y="175.56" width="1.9" height="11.24" fill="#800000"/>
<rect x="405.9" y="174.91" width="1.9" height="11.89" fill="#FF8000"/>
<rect x="407.65" y="175.74" width="1.9" height="11.06" fill="#800080"/>
<rect x="409.4" y="176.45" width="1.9" height="10.35" fill="#000080"/>
<rect x="411.15" y="175.72" width="1.9" height="11.08" fill="#800000"/>
<rect x="412.9" y="176.63" width="1.9" height="10.17" fill="#008080"/>
<rect x="414.65" y="174.3" width="1.9" height="12.5" fill="#FF8000"/>
<rect x="416.4" y="175.44" width="1.9" height="11.36" fill="#0000A0"/>
<rect x="418.15" y="175.38" width="1.9" height="11.42" fill="#008000"/>
<rect x="419.9" y="176.67" width="1.9" height="10.13" fill="#008080"/>
<rect x="421.65" y="174.36" width="1.9" height="12.44" fill="#FF8000"/>
<path d="M420.78,192.01 L420.85,191.27 L420.92,190.56 L421,189.76 L421.09,188.9 L421.18,188.02 L421.27,187.13 L421.36,186.23 L421.45,185.34 L421.54,184.44 L421.63,183.55 L421.71,182.65 L421.8,181.76 L421.89,180.86 L421.98,179.96 L422.07,179.07 L422.16,178.17 L422.25,177.28 L422.34,176.38 L422.43,175.49 L422.52,174.59 L422.61,173.69 L422.7,172.8 L422.78,171.9 L422.87,171.01 L422.96,170.11 L423.04,169.22 L423.13,168.32 L423.22,167.42 L423.31,166.53 L423.39,165.63 L423.48,164.74 L423.57,163.84 L423.65,162.95 L423.74,162.05 L423.83,161.15 L423.92,160.26 L424.01,159.36 L424.1,158.47 L424.19,157.57 L424.28,156.68 L424.37,155.78 L424.46,154.89 L424.56,153.99 L424.65,153.1 L424.75,152.2 L424.84,151.31 L424.94,150.41 L425.04,149.52 L425.14,148.62 L425.24,147.73 L425.34,146.83 L425.44,145.94 L425.55,145.05 L425.65,144.15 L425.76,143.26 L425.86,142.36 L425.97,141.47 L426.08,140.58 L426.19,139.68 L426.3,138.79 L426.41,137.9 L426.52,137 L426.63,136.11 L426.74,135.22 L426.85,134.32 L426.96,133.43 L427.07,132.54 L427.18,131.64 L427.29,130.75 L427.4,129.85 L427.5,128.95 L427.6,128.05 L427.7,127.15 L427.8,126.25 L427.89,125.34 L427.98,124.43 L428.07,123.53 L428.17,122.62 L428.26,121.71 L428.36,120.8 L428.46,119.9 L428.56,119 L428.67,118.1 L428.78,117.21 L428.9,116.32 L429.03,115.43 L429.16,114.55 L429.31,113.68 L429.47,112.81 L429.64,111.95 L429.84,111.09 L430.06,110.25 L430.32,109.41 L430.62,108.58 L430.97,107.76 L431.34,106.94 L431.75,106.14 L432.19,105.34 L432.64,104.54 L433.1,103.76 L433.57,102.98 L434.05,102.22 L434.55,101.46 L435.05,100.72 L435.58,99.98 L436.12,99.27 L436.68,98.57 L437.27,97.89 L437.89,97.24 L438.53,96.62 L439.2,96.03 L439.9,95.46 L440.61,94.91 L441.34,94.38 L442.07,93.85 L442.81,93.34 L443.56,92.84 L444.33,92.36 L445.1,91.91 L445.89,91.47 L446.69,91.06 L447.5,90.68 L448.33,90.33 L449.17,90.01 L450.01,89.74 L450.86,89.49 L451.72,89.28 L452.58,89.08 L453.45,88.89 L454.33,88.72 L455.21,88.55 L456.09,88.39 L456.98,88.24 L457.87,88.09 L458.77,87.96 L459.67,87.83 L460.57,87.7 L461.47,87.59 L462.37,87.48 L463.27,87.37 L464.18,87.28 L465.08,87.19 L465.99,87.11 L466.89,87.03 L467.79,86.96 L468.69,86.9 L469.59,86.84 L470.48,86.79 L471.38,86.74 L472.28,86.69 L473.17,86.65 L474.07,86.61 L474.96,86.56 L475.86,86.52 L476.76,86.48 L477.65,86.44 L478.55,86.4 L479.45,86.37 L480.34,86.33 L481.24,86.3 L482.14,86.26 L483.04,86.23 L483.93,86.19 L484.83,86.16 L485.73,86.13 L486.63,86.1 L487.53,86.07 L488.43,86.04 L489.32,86.01 L490.22,85.98 L491.12,85.96 L492.02,85.93 L492.92,85.9 L493.82,85.88 L494.72,85.85 L495.62,85.83 L496.52,85.8 L497.42,85.78 L498.32,85.76 L499.22,85.74 L500.12,85.71 L501.02,85.69 L501.92,85.67 L502.82,85.65 L503.72,85.63 L504.62,85.61 L505.52,85.59 L506.43,85.57 L507.33,85.55 L508.23,85.53 L509.13,85.52 L510.03,85.5 L510.93,85.48 L511.83,85.46 L512.73,85.44 L513.63,85.43 L514.54,85.41 L515.44,85.39 L516.34,85.37 L517.24,85.36 L518.14,85.34 L519.04,85.32 L519.94,85.3 L520.84,85.29 L521.75,85.27 L522.65,85.25 L523.55,85.23 L524.45,85.22 L525.35,85.2 L526.25,85.18 L527.15,85.16 L528.05,85.14 L528.95,85.12 L529.86,85.11 L530.76,85.09 L531.66,85.07 L532.56,85.05 L533.46,85.03 L534.36,85.01 L535.26,84.99 L536.16,84.96 L537.06,84.94 L537.96,84.92 L538.86,84.9 L539.74,84.88 L540.61,84.85 L541.42,84.83 L542.14,84.81 L542.88,84.79 L543.03,84.79" fill="none" stroke="#000000" stroke-width="1.75" stroke-linejoin="round"/>
<path d="M420.6,192.01 L420.67,191.27 L420.74,190.56 L420.82,189.76 L420.91,188.9 L421,188.02 L421.09,187.13 L421.18,186.23 L421.27,185.34 L421.36,184.44 L421.45,183.55 L421.53,182.65 L421.62,181.76 L421.71,180.86 L421.8,179.96 L421.89,179.07 L421.98,178.17 L422.07,177.28 L422.16,176.38 L422.25,175.49 L422.34,174.59 L422.43,173.69 L422.52,172.8 L422.6,171.9 L422.69,171.01 L422.78,170.11 L422.87,169.22 L422.95,168.32 L423.04,167.42 L423.13,166.53 L423.21,165.63 L423.3,164.74 L423.39,163.84 L423.48,162.95 L423.56,162.05 L423.65,161.15 L423.74,160.26 L423.83,159.36 L423.92,158.47 L424.01,157.57 L424.1,156.68 L424.19,155.78 L424.28,154.89 L424.38,153.99 L424.47,153.1 L424.56,152.2 L424.66,151.31 L424.76,150.41 L424.86,149.52 L424.96,148.62 L425.06,147.73 L425.16,146.83 L425.26,145.94 L425.36,145.05 L425.47,144.15 L425.57,143.26 L425.68,142.36 L425.79,141.47 L425.89,140.58 L426,139.68 L426.11,138.79 L426.22,137.9 L426.33,137 L426.44,136.11 L426.55,135.22 L426.66,134.32 L426.77,133.43 L426.88,132.54 L426.99,131.64 L427.1,130.75 L427.21,129.85 L427.32,128.96 L427.42,128.06 L427.52,127.15 L427.61,126.25 L427.71,125.34 L427.8,124.44 L427.89,123.53 L427.99,122.62 L428.08,121.71 L428.17,120.81 L428.27,119.9 L428.37,119 L428.48,118.1 L428.59,117.21 L428.71,116.31 L428.83,115.43 L428.97,114.54 L429.11,113.67 L429.26,112.8 L429.43,111.93 L429.62,111.08 L429.84,110.23 L430.08,109.39 L430.37,108.56 L430.7,107.73 L431.06,106.91 L431.46,106.1 L431.89,105.3 L432.34,104.51 L432.79,103.72 L433.26,102.94 L433.74,102.17 L434.23,101.41 L434.73,100.66 L435.25,99.93 L435.79,99.2 L436.34,98.5 L436.92,97.81 L437.53,97.15 L438.16,96.52 L438.82,95.92 L439.51,95.35 L440.22,94.8 L440.94,94.26 L441.67,93.73 L442.41,93.21 L443.16,92.71 L443.92,92.22 L444.69,91.76 L445.47,91.31 L446.27,90.89 L447.08,90.5 L447.9,90.14 L448.73,89.81 L449.58,89.53 L450.42,89.27 L451.28,89.05 L452.14,88.84 L453.01,88.65 L453.88,88.47 L454.76,88.31 L455.65,88.14 L456.53,87.99 L457.42,87.84 L458.32,87.7 L459.21,87.57 L460.11,87.44 L461.01,87.32 L461.92,87.21 L462.82,87.11 L463.72,87.01 L464.63,86.92 L465.53,86.83 L466.44,86.76 L467.34,86.69 L468.24,86.62 L469.14,86.56 L470.03,86.51 L470.93,86.46 L471.83,86.41 L472.72,86.36 L473.62,86.32 L474.51,86.28 L475.41,86.24 L476.31,86.2 L477.2,86.16 L478.1,86.12 L479,86.08 L479.89,86.04 L480.79,86.01 L481.69,85.97 L482.59,85.94 L483.48,85.9 L484.38,85.87 L485.28,85.84 L486.18,85.81 L487.08,85.78 L487.97,85.75 L488.87,85.72 L489.77,85.69 L490.67,85.66 L491.57,85.64 L492.47,85.61 L493.37,85.59 L494.27,85.56 L495.17,85.54 L496.07,85.51 L496.97,85.49 L497.87,85.47 L498.77,85.44 L499.67,85.42 L500.57,85.4 L501.47,85.38 L502.37,85.36 L503.27,85.34 L504.17,85.32 L505.07,85.3 L505.97,85.28 L506.87,85.26 L507.78,85.24 L508.68,85.22 L509.58,85.2 L510.48,85.19 L511.38,85.17 L512.28,85.15 L513.18,85.13 L514.08,85.11 L514.98,85.1 L515.89,85.08 L516.79,85.06 L517.69,85.04 L518.59,85.03 L519.49,85.01 L520.39,84.99 L521.29,84.97 L522.19,84.96 L523.1,84.94 L524,84.92 L524.9,84.9 L525.8,84.89 L526.7,84.87 L527.6,84.85 L528.5,84.83 L529.4,84.81 L530.3,84.79 L531.21,84.77 L532.11,84.75 L533.01,84.73 L533.91,84.71 L534.81,84.69 L535.71,84.67 L536.61,84.65 L537.51,84.63 L538.41,84.61 L539.3,84.58 L540.18,84.56 L541.02,84.54 L541.79,84.52 L542.63,84.5 L542.96,84.49" fill="none" stroke="#FF0000" stroke-width="1.75" stroke-linejoin="round"/>
<path d="M420.48,192.01 L420.55,191.27 L420.61,190.56 L420.68,189.75 L420.76,188.9 L420.84,188.01 L420.92,187.12 L421,186.23 L421.07,185.33 L421.15,184.43 L421.23,183.54 L421.31,182.64 L421.39,181.74 L421.47,180.85 L421.55,179.95 L421.63,179.05 L421.71,178.16 L421.79,177.26 L421.87,176.36 L421.95,175.47 L422.02,174.57 L422.1,173.67 L422.18,172.78 L422.26,171.88 L422.34,170.98 L422.41,170.09 L422.49,169.19 L422.57,168.29 L422.64,167.4 L422.72,166.5 L422.79,165.6 L422.87,164.71 L422.95,163.81 L423.03,162.91 L423.1,162.02 L423.18,161.12 L423.26,160.22 L423.34,159.33 L423.42,158.43 L423.5,157.53 L423.58,156.64 L423.66,155.74 L423.74,154.84 L423.82,153.95 L423.91,153.05 L423.99,152.16 L424.08,151.26 L424.17,150.37 L424.26,149.47 L424.35,148.57 L424.44,147.68 L424.53,146.78 L424.63,145.89 L424.73,145 L424.82,144.1 L424.92,143.21 L425.02,142.31 L425.12,141.42 L425.23,140.52 L425.33,139.63 L425.43,138.73 L425.53,137.84 L425.63,136.95 L425.73,136.05 L425.83,135.16 L425.93,134.26 L426.03,133.37 L426.13,132.47 L426.23,131.58 L426.32,130.68 L426.41,129.79 L426.5,128.89 L426.59,127.99 L426.67,127.09 L426.75,126.19 L426.82,125.29 L426.9,124.38 L426.97,123.48 L427.04,122.58 L427.12,121.67 L427.19,120.77 L427.26,119.87 L427.34,118.97 L427.42,118.07 L427.51,117.17 L427.6,116.28 L427.69,115.39 L427.79,114.5 L427.9,113.61 L428.02,112.72 L428.14,111.84 L428.28,110.96 L428.44,110.09 L428.61,109.21 L428.81,108.33 L429.04,107.46 L429.29,106.59 L429.57,105.72 L429.87,104.86 L430.19,104.02 L430.54,103.19 L430.91,102.37 L431.31,101.58 L431.74,100.8 L432.21,100.05 L432.71,99.31 L433.25,98.59 L433.82,97.89 L434.41,97.21 L435.02,96.54 L435.64,95.88 L436.28,95.25 L436.94,94.63 L437.61,94.04 L438.3,93.46 L439.01,92.92 L439.74,92.39 L440.49,91.89 L441.25,91.41 L442.02,90.94 L442.8,90.49 L443.59,90.06 L444.38,89.64 L445.19,89.23 L446,88.84 L446.82,88.46 L447.65,88.11 L448.49,87.79 L449.33,87.5 L450.18,87.26 L451.04,87.05 L451.9,86.86 L452.77,86.69 L453.65,86.54 L454.53,86.4 L455.41,86.26 L456.3,86.13 L457.2,86.01 L458.09,85.89 L458.99,85.78 L459.89,85.68 L460.8,85.58 L461.7,85.49 L462.61,85.4 L463.51,85.32 L464.42,85.25 L465.32,85.18 L466.23,85.12 L467.13,85.06 L468.03,85.01 L468.94,84.96 L469.84,84.91 L470.73,84.87 L471.63,84.84 L472.53,84.8 L473.43,84.76 L474.32,84.73 L475.22,84.69 L476.12,84.66 L477.02,84.63 L477.91,84.6 L478.81,84.57 L479.71,84.54 L480.61,84.51 L481.51,84.48 L482.4,84.45 L483.3,84.43 L484.2,84.4 L485.1,84.37 L486,84.35 L486.9,84.33 L487.8,84.3 L488.7,84.28 L489.59,84.26 L490.49,84.23 L491.39,84.21 L492.29,84.19 L493.19,84.17 L494.09,84.15 L494.99,84.13 L495.89,84.11 L496.79,84.09 L497.69,84.07 L498.59,84.06 L499.49,84.04 L500.39,84.02 L501.29,84 L502.19,83.99 L503.09,83.97 L503.99,83.95 L504.89,83.94 L505.8,83.92 L506.7,83.91 L507.6,83.89 L508.5,83.88 L509.4,83.86 L510.3,83.85 L511.2,83.83 L512.1,83.82 L513,83.81 L513.9,83.79 L514.8,83.78 L515.7,83.76 L516.6,83.75 L517.51,83.74 L518.41,83.72 L519.31,83.71 L520.21,83.7 L521.11,83.68 L522.01,83.67 L522.91,83.65 L523.81,83.64 L524.71,83.63 L525.61,83.61 L526.51,83.6 L527.41,83.58 L528.32,83.57 L529.22,83.55 L530.12,83.54 L531.02,83.52 L531.92,83.51 L532.82,83.49 L533.72,83.47 L534.62,83.46 L535.52,83.44 L536.42,83.42 L537.32,83.41 L538.22,83.39 L539.11,83.37 L539.99,83.35 L540.85,83.33 L541.63,83.32 L542.52,83.3 L543.01,83.29" fill="none" stroke="#00FF00" stroke-width="1.75" stroke-linejoin="round"/>
<path d="M420.37,192.01 L420.43,191.27 L420.48,190.56 L420.54,189.75 L420.61,188.89 L420.68,188.01 L420.74,187.12 L420.81,186.22 L420.88,185.32 L420.95,184.42 L421.02,183.53 L421.09,182.63 L421.16,181.73 L421.23,180.84 L421.3,179.94 L421.37,179.04 L421.44,178.14 L421.5,177.25 L421.57,176.35 L421.64,175.45 L421.71,174.55 L421.78,173.66 L421.85,172.76 L421.91,171.86 L421.98,170.96 L422.05,170.07 L422.12,169.17 L422.18,168.27 L422.25,167.37 L422.32,166.48 L422.39,165.58 L422.45,164.68 L422.52,163.78 L422.59,162.89 L422.66,161.99 L422.72,161.09 L422.79,160.19 L422.86,159.3 L422.93,158.4 L423,157.5 L423.07,156.6 L423.14,155.71 L423.21,154.81 L423.28,153.91 L423.35,153.02 L423.43,152.12 L423.5,151.22 L423.58,150.33 L423.65,149.43 L423.73,148.53 L423.8,147.64 L423.88,146.74 L423.96,145.84 L424.04,144.95 L424.12,144.05 L424.2,143.15 L424.28,142.26 L424.36,141.36 L424.45,140.46 L424.53,139.57 L424.61,138.67 L424.69,137.78 L424.78,136.88 L424.86,135.98 L424.94,135.09 L425.02,134.19 L425.1,133.29 L425.19,132.4 L425.26,131.5 L425.34,130.6 L425.42,129.71 L425.5,128.81 L425.57,127.91 L425.64,127.02 L425.71,126.12 L425.78,125.22 L425.85,124.32 L425.91,123.42 L425.98,122.52 L426.05,121.62 L426.12,120.73 L426.18,119.83 L426.25,118.93 L426.33,118.03 L426.4,117.14 L426.48,116.24 L426.56,115.34 L426.64,114.45 L426.72,113.55 L426.82,112.66 L426.91,111.76 L427.01,110.87 L427.12,109.97 L427.23,109.08 L427.34,108.18 L427.47,107.28 L427.6,106.38 L427.74,105.48 L427.9,104.59 L428.07,103.7 L428.25,102.82 L428.45,101.96 L428.68,101.1 L428.94,100.26 L429.25,99.43 L429.6,98.62 L429.99,97.82 L430.42,97.04 L430.89,96.26 L431.37,95.49 L431.86,94.72 L432.36,93.97 L432.87,93.22 L433.39,92.48 L433.93,91.76 L434.49,91.06 L435.07,90.38 L435.69,89.73 L436.33,89.11 L437,88.51 L437.69,87.93 L438.4,87.38 L439.12,86.85 L439.87,86.35 L440.63,85.87 L441.4,85.41 L442.19,84.99 L443,84.59 L443.82,84.21 L444.65,83.87 L445.49,83.55 L446.34,83.27 L447.2,83.01 L448.07,82.78 L448.94,82.57 L449.82,82.38 L450.7,82.21 L451.58,82.05 L452.47,81.91 L453.36,81.76 L454.25,81.63 L455.14,81.49 L456.03,81.37 L456.92,81.24 L457.82,81.12 L458.71,81.01 L459.61,80.9 L460.51,80.79 L461.4,80.69 L462.3,80.6 L463.2,80.52 L464.1,80.44 L465,80.37 L465.9,80.3 L466.79,80.25 L467.69,80.2 L468.59,80.16 L469.49,80.13 L470.39,80.1 L471.28,80.08 L472.18,80.06 L473.08,80.04 L473.98,80.02 L474.87,80.01 L475.77,79.99 L476.67,79.97 L477.57,79.96 L478.46,79.94 L479.36,79.93 L480.26,79.92 L481.16,79.9 L482.06,79.89 L482.96,79.88 L483.86,79.86 L484.75,79.85 L485.65,79.84 L486.55,79.83 L487.45,79.82 L488.35,79.81 L489.25,79.8 L490.15,79.79 L491.05,79.78 L491.95,79.77 L492.85,79.76 L493.75,79.75 L494.65,79.74 L495.55,79.73 L496.45,79.72 L497.35,79.72 L498.25,79.71 L499.15,79.7 L500.05,79.69 L500.95,79.69 L501.85,79.68 L502.75,79.67 L503.65,79.66 L504.55,79.66 L505.45,79.65 L506.35,79.65 L507.26,79.64 L508.16,79.63 L509.06,79.63 L509.96,79.62 L510.86,79.62 L511.76,79.61 L512.66,79.61 L513.56,79.6 L514.46,79.59 L515.36,79.59 L516.26,79.58 L517.17,79.58 L518.07,79.57 L518.97,79.57 L519.87,79.56 L520.77,79.56 L521.67,79.55 L522.57,79.55 L523.47,79.54 L524.37,79.54 L525.27,79.53 L526.18,79.52 L527.08,79.52 L527.98,79.51 L528.88,79.51 L529.78,79.5 L530.68,79.5 L531.58,79.49 L532.48,79.48 L533.38,79.48 L534.28,79.47 L535.18,79.46 L536.08,79.46 L536.98,79.45 L537.88,79.44 L538.78,79.43 L539.67,79.43 L540.53,79.42 L541.35,79.41 L542.08,79.4 L542.84,79.4 L542.99,79.4" fill="none" stroke="#0000FF" stroke-width="1.75" stroke-linejoin="round"/>
<path d="M420.19,192.01 L420.24,191.27 L420.29,190.55 L420.35,189.75 L420.41,188.89 L420.47,188.01 L420.53,187.11 L420.59,186.22 L420.65,185.32 L420.72,184.42 L420.78,183.52 L420.84,182.62 L420.9,181.73 L420.97,180.83 L421.03,179.93 L421.09,179.03 L421.15,178.14 L421.21,177.24 L421.28,176.34 L421.34,175.44 L421.4,174.54 L421.46,173.65 L421.52,172.75 L421.59,171.85 L421.65,170.95 L421.71,170.05 L421.77,169.16 L421.83,168.26 L421.89,167.36 L421.95,166.46 L422.02,165.56 L422.08,164.67 L422.14,163.77 L422.2,162.87 L422.26,161.97 L422.32,161.08 L422.38,160.18 L422.45,159.28 L422.51,158.38 L422.57,157.48 L422.63,156.59 L422.7,155.69 L422.76,154.79 L422.82,153.89 L422.89,152.99 L422.95,152.1 L423.01,151.2 L423.08,150.3 L423.15,149.4 L423.21,148.51 L423.28,147.61 L423.35,146.71 L423.42,145.81 L423.49,144.92 L423.56,144.02 L423.63,143.12 L423.7,142.22 L423.77,141.33 L423.84,140.43 L423.91,139.53 L423.98,138.64 L424.05,137.74 L424.11,136.84 L424.18,135.94 L424.25,135.05 L424.31,134.15 L424.38,133.25 L424.44,132.35 L424.5,131.46 L424.56,130.56 L424.62,129.66 L424.67,128.76 L424.72,127.86 L424.78,126.96 L424.82,126.07 L424.87,125.17 L424.92,124.27 L424.97,123.37 L425.01,122.47 L425.06,121.57 L425.1,120.67 L425.15,119.77 L425.19,118.87 L425.24,117.97 L425.28,117.08 L425.33,116.18 L425.38,115.28 L425.43,114.38 L425.48,113.48 L425.54,112.58 L425.59,111.68 L425.65,110.78 L425.71,109.88 L425.77,108.98 L425.83,108.08 L425.89,107.18 L425.96,106.27 L426.03,105.37 L426.11,104.47 L426.19,103.57 L426.29,102.68 L426.4,101.8 L426.54,100.92 L426.7,100.05 L426.91,99.19 L427.16,98.33 L427.45,97.49 L427.78,96.65 L428.15,95.82 L428.54,95.01 L428.95,94.2 L429.38,93.41 L429.83,92.63 L430.3,91.86 L430.79,91.1 L431.29,90.35 L431.8,89.61 L432.33,88.88 L432.87,88.16 L433.42,87.45 L433.99,86.75 L434.58,86.07 L435.19,85.41 L435.82,84.77 L436.48,84.16 L437.16,83.58 L437.87,83.03 L438.6,82.52 L439.36,82.04 L440.14,81.59 L440.93,81.18 L441.75,80.8 L442.58,80.46 L443.42,80.14 L444.27,79.85 L445.13,79.59 L445.99,79.36 L446.86,79.14 L447.74,78.94 L448.62,78.76 L449.5,78.58 L450.38,78.41 L451.27,78.25 L452.16,78.1 L453.05,77.95 L453.94,77.81 L454.83,77.68 L455.72,77.55 L456.62,77.43 L457.51,77.31 L458.41,77.2 L459.3,77.09 L460.19,76.98 L461.09,76.87 L461.98,76.77 L462.88,76.66 L463.77,76.56 L464.67,76.47 L465.57,76.38 L466.46,76.31 L467.36,76.24 L468.26,76.19 L469.16,76.15 L470.06,76.12 L470.95,76.1 L471.85,76.09 L472.75,76.08 L473.65,76.08 L474.55,76.07 L475.44,76.07 L476.34,76.06 L477.24,76.06 L478.14,76.05 L479.04,76.05 L479.94,76.04 L480.84,76.04 L481.73,76.03 L482.63,76.03 L483.53,76.02 L484.43,76.02 L485.33,76.02 L486.23,76.01 L487.13,76.01 L488.03,76.01 L488.93,76 L489.83,76 L490.73,76 L491.63,76 L492.53,75.99 L493.43,75.99 L494.33,75.99 L495.23,75.98 L496.13,75.98 L497.03,75.98 L497.93,75.98 L498.83,75.98 L499.73,75.97 L500.63,75.97 L501.53,75.97 L502.43,75.97 L503.33,75.97 L504.23,75.97 L505.13,75.96 L506.03,75.96 L506.93,75.96 L507.83,75.96 L508.73,75.96 L509.63,75.96 L510.54,75.95 L511.44,75.95 L512.34,75.95 L513.24,75.95 L514.14,75.95 L515.04,75.95 L515.94,75.95 L516.84,75.95 L517.74,75.94 L518.64,75.94 L519.54,75.94 L520.44,75.94 L521.34,75.94 L522.24,75.94 L523.15,75.94 L524.05,75.94 L524.95,75.93 L525.85,75.93 L526.75,75.93 L527.65,75.93 L528.55,75.93 L529.45,75.93 L530.35,75.93 L531.25,75.92 L532.15,75.92 L533.05,75.92 L533.95,75.92 L534.85,75.92 L535.75,75.92 L536.65,75.91 L537.55,75.91 L538.45,75.91 L539.34,75.91 L540.22,75.91 L541.06,75.9 L541.82,75.9 L542.66,75.9 L542.98,75.9" fill="none" stroke="#00FFFF" stroke-width="1.75" stroke-linejoin="round"/>
<path d="M419.95,192.01 L420,191.27 L420.05,190.55 L420.1,189.75 L420.16,188.89 L420.22,188 L420.27,187.11 L420.33,186.21 L420.39,185.32 L420.45,184.42 L420.51,183.52 L420.57,182.62 L420.63,181.72 L420.68,180.83 L420.74,179.93 L420.8,179.03 L420.86,178.13 L420.92,177.23 L420.98,176.34 L421.04,175.44 L421.1,174.54 L421.16,173.64 L421.21,172.74 L421.27,171.84 L421.33,170.95 L421.39,170.05 L421.45,169.15 L421.51,168.25 L421.57,167.35 L421.63,166.46 L421.69,165.56 L421.75,164.66 L421.81,163.76 L421.87,162.86 L421.93,161.97 L421.99,161.07 L422.05,160.17 L422.1,159.27 L422.16,158.37 L422.22,157.48 L422.28,156.58 L422.34,155.68 L422.4,154.78 L422.45,153.88 L422.51,152.99 L422.57,152.09 L422.62,151.19 L422.68,150.29 L422.74,149.39 L422.79,148.49 L422.85,147.6 L422.91,146.7 L422.96,145.8 L423.02,144.9 L423.08,144 L423.13,143.1 L423.19,142.21 L423.25,141.31 L423.3,140.41 L423.36,139.51 L423.41,138.61 L423.47,137.71 L423.52,136.82 L423.57,135.92 L423.62,135.02 L423.67,134.12 L423.72,133.22 L423.77,132.32 L423.82,131.43 L423.87,130.53 L423.92,129.63 L423.96,128.73 L424,127.83 L424.04,126.93 L424.09,126.03 L424.12,125.13 L424.16,124.23 L424.2,123.33 L424.24,122.43 L424.28,121.54 L424.31,120.64 L424.35,119.74 L424.39,118.84 L424.42,117.94 L424.46,117.04 L424.5,116.14 L424.54,115.24 L424.58,114.34 L424.63,113.44 L424.67,112.54 L424.71,111.64 L424.76,110.74 L424.81,109.84 L424.86,108.94 L424.9,108.04 L424.95,107.14 L425,106.23 L425.06,105.33 L425.12,104.43 L425.19,103.53 L425.26,102.64 L425.35,101.75 L425.46,100.86 L425.6,99.98 L425.77,99.11 L425.98,98.24 L426.23,97.37 L426.52,96.52 L426.84,95.68 L427.2,94.86 L427.59,94.05 L428,93.26 L428.45,92.48 L428.93,91.72 L429.42,90.97 L429.91,90.21 L430.4,89.45 L430.88,88.68 L431.34,87.9 L431.79,87.11 L432.22,86.3 L432.64,85.5 L433.07,84.71 L433.52,83.92 L433.98,83.16 L434.48,82.43 L435.01,81.72 L435.59,81.05 L436.21,80.42 L436.87,79.82 L437.57,79.26 L438.29,78.74 L439.04,78.25 L439.82,77.79 L440.61,77.36 L441.41,76.95 L442.23,76.57 L443.06,76.21 L443.89,75.88 L444.74,75.57 L445.59,75.3 L446.44,75.05 L447.31,74.82 L448.18,74.61 L449.05,74.42 L449.93,74.23 L450.82,74.05 L451.71,73.89 L452.6,73.73 L453.49,73.59 L454.39,73.45 L455.29,73.33 L456.18,73.22 L457.08,73.13 L457.98,73.05 L458.88,72.99 L459.78,72.94 L460.67,72.9 L461.57,72.86 L462.47,72.84 L463.37,72.82 L464.27,72.8 L465.17,72.78 L466.07,72.76 L466.97,72.75 L467.87,72.73 L468.77,72.72 L469.67,72.7 L470.57,72.69 L471.47,72.68 L472.37,72.66 L473.27,72.65 L474.17,72.63 L475.07,72.62 L475.97,72.61 L476.87,72.59 L477.77,72.58 L478.67,72.57 L479.57,72.55 L480.47,72.54 L481.37,72.53 L482.27,72.52 L483.17,72.5 L484.07,72.49 L484.97,72.48 L485.87,72.47 L486.77,72.45 L487.67,72.44 L488.57,72.43 L489.47,72.42 L490.37,72.41 L491.27,72.4 L492.17,72.38 L493.07,72.37 L493.97,72.36 L494.87,72.35 L495.77,72.34 L496.67,72.33 L497.57,72.32 L498.47,72.31 L499.37,72.3 L500.27,72.28 L501.17,72.27 L502.07,72.26 L502.97,72.25 L503.87,72.24 L504.77,72.23 L505.67,72.22 L506.57,72.21 L507.47,72.2 L508.37,72.19 L509.27,72.18 L510.17,72.17 L511.07,72.16 L511.97,72.15 L512.87,72.14 L513.77,72.13 L514.67,72.12 L515.57,72.11 L516.47,72.1 L517.37,72.09 L518.27,72.08 L519.17,72.07 L520.07,72.06 L520.97,72.05 L521.87,72.04 L522.77,72.03 L523.67,72.02 L524.57,72.01 L525.47,72 L526.37,71.99 L527.27,71.98 L528.17,71.97 L529.07,71.96 L529.97,71.95 L530.87,71.94 L531.77,71.93 L532.67,71.92 L533.57,71.91 L534.47,71.9 L535.37,71.89 L536.27,71.88 L537.17,71.86 L538.07,71.85 L538.96,71.84 L539.85,71.83 L540.71,71.82 L541.51,71.81 L542.42,71.8 L542.94,71.79" fill="none" stroke="#FF00FF" stroke-width="1.75" stroke-linejoin="round"/>
<path d="M419.88,192.01 L419.92,191.27 L419.96,190.55 L420.01,189.75 L420.06,188.89 L420.11,188 L420.16,187.11 L420.21,186.21 L420.26,185.31 L420.31,184.41 L420.37,183.52 L420.42,182.62 L420.47,181.72 L420.52,180.82 L420.57,179.92 L420.63,179.02 L420.68,178.12 L420.73,177.23 L420.78,176.33 L420.83,175.43 L420.89,174.53 L420.94,173.63 L420.99,172.73 L421.04,171.83 L421.09,170.94 L421.15,170.04 L421.2,169.14 L421.25,168.24 L421.3,167.34 L421.35,166.44 L421.41,165.55 L421.46,164.65 L421.51,163.75 L421.56,162.85 L421.62,161.95 L421.67,161.05 L421.72,160.15 L421.77,159.26 L421.82,158.36 L421.87,157.46 L421.93,156.56 L421.98,155.66 L422.03,154.76 L422.08,153.86 L422.13,152.97 L422.18,152.07 L422.23,151.17 L422.29,150.27 L422.34,149.37 L422.39,148.47 L422.44,147.58 L422.5,146.68 L422.55,145.78 L422.61,144.88 L422.66,143.98 L422.72,143.08 L422.77,142.18 L422.83,141.29 L422.88,140.39 L422.93,139.49 L422.98,138.59 L423.04,137.69 L423.09,136.79 L423.13,135.89 L423.18,135 L423.22,134.1 L423.27,133.2 L423.3,132.3 L423.34,131.4 L423.38,130.5 L423.41,129.6 L423.44,128.7 L423.47,127.8 L423.49,126.9 L423.52,126 L423.54,125.1 L423.56,124.2 L423.58,123.3 L423.6,122.4 L423.62,121.51 L423.64,120.61 L423.66,119.71 L423.68,118.81 L423.7,117.91 L423.72,117.01 L423.74,116.11 L423.76,115.21 L423.78,114.31 L423.81,113.41 L423.83,112.51 L423.85,111.61 L423.88,110.7 L423.91,109.8 L423.93,108.9 L423.96,107.99 L423.98,107.09 L424.01,106.18 L424.04,105.28 L424.08,104.37 L424.12,103.48 L424.17,102.58 L424.23,101.69 L424.32,100.81 L424.45,99.94 L424.62,99.08 L424.85,98.22 L425.12,97.37 L425.44,96.53 L425.77,95.68 L426.12,94.84 L426.46,94 L426.8,93.16 L427.12,92.32 L427.45,91.48 L427.77,90.64 L428.1,89.8 L428.43,88.96 L428.76,88.12 L429.09,87.29 L429.43,86.45 L429.77,85.62 L430.12,84.79 L430.47,83.96 L430.83,83.13 L431.21,82.31 L431.59,81.49 L431.99,80.68 L432.4,79.87 L432.82,79.07 L433.27,78.28 L433.75,77.52 L434.26,76.79 L434.81,76.11 L435.41,75.47 L436.06,74.88 L436.76,74.33 L437.49,73.81 L438.26,73.34 L439.04,72.9 L439.85,72.49 L440.66,72.12 L441.5,71.79 L442.34,71.5 L443.2,71.25 L444.07,71.03 L444.95,70.83 L445.83,70.66 L446.72,70.51 L447.61,70.38 L448.5,70.27 L449.39,70.16 L450.29,70.07 L451.18,69.98 L452.08,69.9 L452.97,69.82 L453.87,69.75 L454.77,69.68 L455.67,69.62 L456.57,69.55 L457.47,69.48 L458.37,69.42 L459.27,69.35 L460.16,69.28 L461.06,69.21 L461.96,69.14 L462.86,69.07 L463.75,69 L464.65,68.94 L465.55,68.87 L466.45,68.81 L467.35,68.75 L468.24,68.7 L469.14,68.65 L470.04,68.61 L470.94,68.57 L471.84,68.53 L472.74,68.5 L473.63,68.46 L474.53,68.43 L475.43,68.4 L476.33,68.36 L477.23,68.33 L478.13,68.3 L479.03,68.27 L479.93,68.24 L480.83,68.22 L481.73,68.19 L482.62,68.16 L483.52,68.13 L484.42,68.11 L485.32,68.08 L486.22,68.06 L487.12,68.03 L488.02,68.01 L488.92,67.98 L489.82,67.96 L490.72,67.94 L491.62,67.92 L492.52,67.89 L493.42,67.87 L494.32,67.85 L495.22,67.83 L496.12,67.81 L497.02,67.79 L497.92,67.77 L498.82,67.75 L499.72,67.73 L500.62,67.71 L501.52,67.69 L502.42,67.67 L503.32,67.66 L504.22,67.64 L505.12,67.62 L506.02,67.6 L506.92,67.59 L507.82,67.57 L508.72,67.55 L509.62,67.54 L510.52,67.52 L511.42,67.5 L512.32,67.49 L513.22,67.47 L514.12,67.45 L515.02,67.44 L515.92,67.42 L516.82,67.4 L517.72,67.39 L518.62,67.37 L519.52,67.36 L520.42,67.34 L521.32,67.32 L522.22,67.31 L523.12,67.29 L524.02,67.27 L524.92,67.26 L525.82,67.24 L526.72,67.22 L527.62,67.21 L528.52,67.19 L529.42,67.17 L530.32,67.16 L531.22,67.14 L532.12,67.12 L533.02,67.1 L533.92,67.09 L534.82,67.07 L535.72,67.05 L536.62,67.03 L537.52,67.01 L538.42,66.99 L539.31,66.97 L540.19,66.95 L541.03,66.93 L541.8,66.92 L542.64,66.9 L542.96,66.89" fill="none" stroke="#FFFF00" stroke-width="1.75" stroke-linejoin="round"/>
<path d="M419.74,192 L419.78,191.27 L419.82,190.55 L419.86,189.75 L419.91,188.89 L419.95,188 L420,187.11 L420.05,186.21 L420.1,185.31 L420.15,184.41 L420.2,183.51 L420.24,182.61 L420.29,181.72 L420.34,180.82 L420.39,179.92 L420.44,179.02 L420.49,178.12 L420.53,177.22 L420.58,176.32 L420.63,175.43 L420.68,174.53 L420.73,173.63 L420.78,172.73 L420.83,171.83 L420.87,170.93 L420.92,170.03 L420.97,169.13 L421.02,168.24 L421.07,167.34 L421.12,166.44 L421.17,165.54 L421.22,164.64 L421.27,163.74 L421.32,162.84 L421.36,161.95 L421.41,161.05 L421.46,160.15 L421.51,159.25 L421.56,158.35 L421.61,157.45 L421.65,156.55 L421.7,155.65 L421.75,154.76 L421.8,153.86 L421.85,152.96 L421.89,152.06 L421.94,151.16 L421.99,150.26 L422.03,149.36 L422.08,148.46 L422.13,147.57 L422.18,146.67 L422.23,145.77 L422.28,144.87 L422.33,143.97 L422.38,143.07 L422.43,142.17 L422.48,141.27 L422.52,140.38 L422.57,139.48 L422.62,138.58 L422.66,137.68 L422.71,136.78 L422.75,135.88 L422.8,134.98 L422.84,134.08 L422.87,133.18 L422.91,132.28 L422.95,131.39 L422.98,130.49 L423.01,129.59 L423.04,128.69 L423.06,127.79 L423.09,126.89 L423.11,125.99 L423.13,125.09 L423.16,124.19 L423.18,123.29 L423.2,122.39 L423.22,121.49 L423.23,120.59 L423.25,119.69 L423.27,118.79 L423.29,117.89 L423.31,116.99 L423.33,116.09 L423.35,115.19 L423.38,114.29 L423.4,113.39 L423.43,112.49 L423.45,111.59 L423.48,110.69 L423.51,109.79 L423.54,108.89 L423.57,107.99 L423.61,107.08 L423.64,106.18 L423.68,105.28 L423.72,104.38 L423.77,103.48 L423.83,102.58 L423.9,101.69 L423.99,100.8 L424.1,99.92 L424.24,99.04 L424.42,98.17 L424.64,97.3 L424.88,96.43 L425.15,95.57 L425.43,94.71 L425.72,93.85 L426.01,92.99 L426.3,92.14 L426.59,91.28 L426.88,90.43 L427.16,89.57 L427.42,88.71 L427.66,87.84 L427.88,86.96 L428.08,86.07 L428.26,85.18 L428.43,84.27 L428.59,83.37 L428.74,82.46 L428.9,81.57 L429.07,80.68 L429.26,79.8 L429.46,78.95 L429.7,78.11 L429.97,77.29 L430.3,76.5 L430.68,75.72 L431.13,74.96 L431.63,74.22 L432.18,73.5 L432.77,72.8 L433.4,72.13 L434.04,71.48 L434.71,70.86 L435.39,70.27 L436.09,69.7 L436.82,69.16 L437.56,68.66 L438.33,68.18 L439.11,67.74 L439.91,67.34 L440.73,66.96 L441.56,66.62 L442.41,66.31 L443.27,66.03 L444.13,65.79 L445,65.58 L445.88,65.41 L446.76,65.27 L447.65,65.15 L448.53,65.06 L449.42,64.98 L450.32,64.91 L451.22,64.85 L452.12,64.79 L453.02,64.74 L453.92,64.69 L454.82,64.64 L455.73,64.59 L456.63,64.53 L457.53,64.47 L458.43,64.41 L459.33,64.33 L460.23,64.25 L461.13,64.15 L462.02,64.04 L462.92,63.93 L463.81,63.81 L464.7,63.69 L465.6,63.57 L466.49,63.46 L467.38,63.35 L468.28,63.26 L469.17,63.19 L470.07,63.13 L470.96,63.08 L471.86,63.03 L472.75,63 L473.65,62.96 L474.55,62.93 L475.44,62.9 L476.34,62.87 L477.24,62.84 L478.14,62.81 L479.03,62.78 L479.93,62.75 L480.83,62.72 L481.73,62.7 L482.62,62.67 L483.52,62.65 L484.42,62.62 L485.32,62.6 L486.22,62.58 L487.12,62.56 L488.02,62.54 L488.92,62.51 L489.82,62.49 L490.71,62.48 L491.61,62.46 L492.51,62.44 L493.41,62.42 L494.31,62.4 L495.21,62.38 L496.11,62.37 L497.01,62.35 L497.91,62.34 L498.81,62.32 L499.71,62.31 L500.61,62.29 L501.51,62.28 L502.42,62.26 L503.32,62.25 L504.22,62.24 L505.12,62.22 L506.02,62.21 L506.92,62.2 L507.82,62.19 L508.72,62.17 L509.62,62.16 L510.52,62.15 L511.42,62.14 L512.32,62.13 L513.23,62.12 L514.13,62.1 L515.03,62.09 L515.93,62.08 L516.83,62.07 L517.73,62.06 L518.63,62.05 L519.53,62.04 L520.43,62.03 L521.34,62.02 L522.24,62 L523.14,61.99 L524.04,61.98 L524.94,61.97 L525.84,61.96 L526.74,61.95 L527.64,61.93 L528.54,61.92 L529.44,61.91 L530.35,61.9 L531.25,61.89 L532.15,61.87 L533.05,61.86 L533.95,61.85 L534.85,61.83 L535.75,61.82 L536.65,61.8 L537.55,61.79 L538.45,61.77 L539.34,61.76 L540.22,61.74 L541.05,61.73 L541.82,61.71 L542.66,61.7 L542.97,61.69" fill="none" stroke="#808000" stroke-width="1.75" stroke-linejoin="round"/>
<path d="M419.6,192 L419.64,191.27 L419.67,190.55 L419.71,189.75 L419.76,188.89 L419.8,188 L419.84,187.11 L419.89,186.21 L419.93,185.31 L419.98,184.41 L420.02,183.51 L420.07,182.61 L420.11,181.71 L420.16,180.81 L420.2,179.92 L420.25,179.02 L420.29,178.12 L420.34,177.22 L420.38,176.32 L420.43,175.42 L420.47,174.52 L420.52,173.62 L420.56,172.73 L420.61,171.83 L420.65,170.93 L420.7,170.03 L420.74,169.13 L420.79,168.23 L420.83,167.33 L420.88,166.43 L420.92,165.53 L420.97,164.64 L421.01,163.74 L421.06,162.84 L421.1,161.94 L421.15,161.04 L421.19,160.14 L421.24,159.24 L421.28,158.34 L421.33,157.44 L421.37,156.55 L421.42,155.65 L421.46,154.75 L421.51,153.85 L421.55,152.95 L421.6,152.05 L421.64,151.15 L421.69,150.25 L421.73,149.35 L421.78,148.46 L421.83,147.56 L421.88,146.66 L421.93,145.76 L421.97,144.86 L422.02,143.96 L422.07,143.06 L422.12,142.16 L422.17,141.27 L422.22,140.37 L422.27,139.47 L422.32,138.57 L422.36,137.67 L422.41,136.77 L422.45,135.87 L422.49,134.97 L422.53,134.07 L422.57,133.18 L422.61,132.28 L422.65,131.38 L422.68,130.48 L422.71,129.58 L422.74,128.68 L422.76,127.78 L422.79,126.88 L422.81,125.98 L422.83,125.08 L422.86,124.18 L422.88,123.28 L422.9,122.38 L422.92,121.48 L422.93,120.58 L422.95,119.68 L422.97,118.78 L422.99,117.88 L423.01,116.98 L423.03,116.08 L423.05,115.18 L423.08,114.28 L423.1,113.38 L423.13,112.48 L423.15,111.58 L423.18,110.68 L423.21,109.78 L423.24,108.88 L423.28,107.98 L423.31,107.08 L423.35,106.18 L423.39,105.28 L423.44,104.38 L423.48,103.49 L423.54,102.59 L423.6,101.69 L423.67,100.8 L423.75,99.9 L423.84,99.01 L423.95,98.12 L424.07,97.23 L424.21,96.34 L424.36,95.45 L424.52,94.56 L424.69,93.68 L424.86,92.79 L425.04,91.91 L425.23,91.03 L425.42,90.15 L425.6,89.27 L425.78,88.39 L425.94,87.5 L426.09,86.62 L426.22,85.73 L426.35,84.84 L426.47,83.94 L426.59,83.05 L426.71,82.16 L426.83,81.26 L426.96,80.37 L427.09,79.48 L427.23,78.58 L427.38,77.69 L427.53,76.8 L427.68,75.9 L427.85,75.02 L428.03,74.13 L428.22,73.25 L428.43,72.38 L428.67,71.52 L428.93,70.67 L429.23,69.82 L429.57,68.98 L429.95,68.16 L430.37,67.36 L430.83,66.59 L431.35,65.87 L431.91,65.2 L432.53,64.58 L433.21,64.01 L433.93,63.49 L434.69,63.02 L435.47,62.58 L436.28,62.18 L437.1,61.81 L437.93,61.47 L438.77,61.16 L439.62,60.86 L440.48,60.58 L441.34,60.31 L442.21,60.07 L443.08,59.84 L443.96,59.64 L444.84,59.46 L445.72,59.3 L446.61,59.17 L447.5,59.05 L448.39,58.96 L449.28,58.87 L450.18,58.79 L451.08,58.71 L451.98,58.64 L452.88,58.57 L453.77,58.49 L454.67,58.42 L455.57,58.34 L456.47,58.25 L457.36,58.16 L458.26,58.07 L459.16,57.98 L460.05,57.88 L460.95,57.79 L461.84,57.7 L462.74,57.6 L463.63,57.51 L464.53,57.43 L465.43,57.35 L466.32,57.27 L467.22,57.2 L468.12,57.13 L469.01,57.07 L469.91,57.02 L470.81,56.97 L471.7,56.92 L472.6,56.88 L473.5,56.83 L474.4,56.79 L475.3,56.75 L476.19,56.71 L477.09,56.68 L477.99,56.64 L478.89,56.6 L479.79,56.56 L480.69,56.53 L481.58,56.49 L482.48,56.46 L483.38,56.43 L484.28,56.39 L485.18,56.36 L486.08,56.33 L486.98,56.3 L487.88,56.27 L488.78,56.24 L489.68,56.21 L490.58,56.18 L491.47,56.16 L492.37,56.13 L493.27,56.1 L494.17,56.08 L495.07,56.05 L495.97,56.02 L496.87,56 L497.77,55.97 L498.67,55.95 L499.57,55.93 L500.47,55.9 L501.37,55.88 L502.27,55.86 L503.17,55.83 L504.07,55.81 L504.97,55.79 L505.87,55.77 L506.77,55.75 L507.67,55.73 L508.57,55.71 L509.47,55.69 L510.37,55.66 L511.27,55.64 L512.17,55.62 L513.07,55.6 L513.97,55.58 L514.87,55.56 L515.78,55.54 L516.68,55.52 L517.58,55.5 L518.48,55.48 L519.38,55.46 L520.28,55.44 L521.18,55.42 L522.08,55.4 L522.98,55.38 L523.88,55.36 L524.78,55.34 L525.68,55.32 L526.58,55.3 L527.48,55.28 L528.38,55.26 L529.28,55.24 L530.18,55.22 L531.08,55.2 L531.98,55.18 L532.88,55.15 L533.78,55.13 L534.68,55.11 L535.58,55.09 L536.48,55.06 L537.38,55.04 L538.28,55.02 L539.17,54.99 L540.05,54.97 L540.9,54.94 L541.68,54.92 L542.55,54.9 L543.03,54.88" fill="none" stroke="#000080" stroke-width="1.75" stroke-linejoin="round"/>
<path d="M419.46,192 L419.5,191.27 L419.53,190.55 L419.57,189.75 L419.61,188.89 L419.65,188 L419.69,187.1 L419.73,186.21 L419.77,185.31 L419.81,184.41 L419.85,183.51 L419.89,182.61 L419.94,181.71 L419.98,180.81 L420.02,179.91 L420.06,179.01 L420.1,178.12 L420.14,177.22 L420.19,176.32 L420.23,175.42 L420.27,174.52 L420.31,173.62 L420.35,172.72 L420.39,171.82 L420.43,170.92 L420.47,170.02 L420.51,169.13 L420.56,168.23 L420.6,167.33 L420.64,166.43 L420.68,165.53 L420.72,164.63 L420.76,163.73 L420.8,162.83 L420.84,161.93 L420.88,161.03 L420.93,160.13 L420.97,159.24 L421.01,158.34 L421.05,157.44 L421.09,156.54 L421.13,155.64 L421.18,154.74 L421.22,153.84 L421.26,152.94 L421.3,152.04 L421.35,151.14 L421.39,150.25 L421.43,149.35 L421.48,148.45 L421.53,147.55 L421.57,146.65 L421.62,145.75 L421.67,144.85 L421.72,143.95 L421.77,143.05 L421.82,142.16 L421.87,141.26 L421.92,140.36 L421.96,139.46 L422.01,138.56 L422.06,137.66 L422.11,136.76 L422.15,135.86 L422.19,134.97 L422.23,134.07 L422.27,133.17 L422.31,132.27 L422.35,131.37 L422.38,130.47 L422.41,129.57 L422.44,128.67 L422.47,127.77 L422.49,126.87 L422.51,125.97 L422.54,125.07 L422.56,124.17 L422.58,123.27 L422.6,122.37 L422.62,121.47 L422.64,120.57 L422.66,119.67 L422.68,118.77 L422.7,117.87 L422.72,116.97 L422.74,116.07 L422.76,115.17 L422.78,114.28 L422.81,113.38 L422.83,112.48 L422.86,111.58 L422.88,110.68 L422.91,109.78 L422.94,108.88 L422.97,107.98 L423,107.08 L423.03,106.18 L423.06,105.28 L423.09,104.38 L423.13,103.48 L423.17,102.58 L423.22,101.68 L423.27,100.78 L423.33,99.89 L423.4,98.99 L423.48,98.09 L423.57,97.2 L423.66,96.3 L423.77,95.41 L423.88,94.52 L423.99,93.62 L424.11,92.73 L424.23,91.84 L424.36,90.95 L424.49,90.06 L424.62,89.17 L424.74,88.27 L424.87,87.38 L424.98,86.49 L425.1,85.6 L425.21,84.7 L425.32,83.81 L425.43,82.92 L425.54,82.03 L425.66,81.13 L425.78,80.24 L425.91,79.35 L426.05,78.46 L426.19,77.57 L426.34,76.69 L426.49,75.8 L426.65,74.91 L426.82,74.03 L426.98,73.14 L427.16,72.26 L427.34,71.38 L427.52,70.49 L427.72,69.61 L427.92,68.74 L428.14,67.86 L428.37,67 L428.63,66.14 L428.92,65.29 L429.23,64.45 L429.57,63.61 L429.93,62.79 L430.32,61.97 L430.73,61.17 L431.16,60.38 L431.63,59.61 L432.12,58.87 L432.66,58.16 L433.25,57.5 L433.89,56.88 L434.57,56.32 L435.3,55.8 L436.06,55.34 L436.85,54.92 L437.67,54.56 L438.5,54.24 L439.35,53.96 L440.21,53.71 L441.08,53.48 L441.96,53.27 L442.84,53.08 L443.72,52.89 L444.61,52.72 L445.49,52.56 L446.38,52.4 L447.27,52.25 L448.16,52.11 L449.05,51.97 L449.94,51.83 L450.83,51.7 L451.72,51.58 L452.61,51.46 L453.5,51.34 L454.4,51.23 L455.29,51.12 L456.19,51.01 L457.08,50.91 L457.98,50.81 L458.87,50.72 L459.77,50.63 L460.66,50.54 L461.56,50.45 L462.45,50.37 L463.35,50.28 L464.24,50.2 L465.14,50.11 L466.04,50.03 L466.93,49.95 L467.83,49.87 L468.73,49.79 L469.62,49.71 L470.52,49.63 L471.42,49.55 L472.31,49.47 L473.21,49.4 L474.11,49.32 L475.01,49.25 L475.9,49.18 L476.8,49.11 L477.7,49.04 L478.6,48.97 L479.5,48.91 L480.4,48.84 L481.29,48.78 L482.19,48.72 L483.09,48.66 L483.99,48.61 L484.89,48.55 L485.79,48.5 L486.69,48.45 L487.59,48.41 L488.48,48.36 L489.38,48.32 L490.28,48.28 L491.18,48.24 L492.08,48.2 L492.98,48.17 L493.88,48.14 L494.78,48.11 L495.68,48.08 L496.57,48.06 L497.47,48.04 L498.37,48.01 L499.27,47.99 L500.17,47.97 L501.07,47.95 L501.97,47.93 L502.87,47.91 L503.77,47.89 L504.67,47.87 L505.57,47.85 L506.47,47.83 L507.37,47.82 L508.27,47.8 L509.17,47.78 L510.07,47.77 L510.97,47.75 L511.87,47.74 L512.76,47.72 L513.66,47.71 L514.56,47.69 L515.46,47.68 L516.37,47.67 L517.27,47.65 L518.17,47.64 L519.07,47.63 L519.97,47.62 L520.87,47.6 L521.77,47.59 L522.67,47.58 L523.57,47.57 L524.47,47.56 L525.37,47.54 L526.27,47.53 L527.17,47.52 L528.07,47.51 L528.97,47.5 L529.87,47.48 L530.77,47.47 L531.67,47.46 L532.57,47.45 L533.47,47.44 L534.37,47.42 L535.27,47.41 L536.17,47.4 L537.07,47.38 L537.97,47.37 L538.86,47.36 L539.75,47.34 L540.61,47.33 L541.42,47.32 L542.14,47.31 L542.89,47.29 L543.03,47.29" fill="none" stroke="#800080" stroke-width="1.75" stroke-linejoin="round"/>
<path d="M419.32,192 L419.35,191.27 L419.38,190.55 L419.42,189.74 L419.45,188.88 L419.49,188 L419.53,187.1 L419.57,186.21 L419.61,185.31 L419.64,184.41 L419.68,183.51 L419.72,182.61 L419.76,181.71 L419.8,180.81 L419.83,179.91 L419.87,179.01 L419.91,178.11 L419.95,177.21 L419.99,176.31 L420.02,175.42 L420.06,174.52 L420.1,173.62 L420.14,172.72 L420.17,171.82 L420.21,170.92 L420.25,170.02 L420.29,169.12 L420.32,168.22 L420.36,167.32 L420.4,166.42 L420.43,165.52 L420.47,164.62 L420.51,163.73 L420.55,162.83 L420.58,161.93 L420.62,161.03 L420.66,160.13 L420.7,159.23 L420.73,158.33 L420.77,157.43 L420.81,156.53 L420.85,155.63 L420.89,154.73 L420.93,153.83 L420.97,152.94 L421.01,152.04 L421.05,151.14 L421.09,150.24 L421.13,149.34 L421.18,148.44 L421.22,147.54 L421.27,146.64 L421.32,145.74 L421.36,144.84 L421.41,143.95 L421.46,143.05 L421.51,142.15 L421.56,141.25 L421.61,140.35 L421.66,139.45 L421.71,138.55 L421.76,137.65 L421.8,136.76 L421.85,135.86 L421.89,134.96 L421.93,134.06 L421.97,133.16 L422.01,132.26 L422.05,131.36 L422.08,130.46 L422.11,129.56 L422.14,128.66 L422.17,127.76 L422.19,126.87 L422.22,125.97 L422.24,125.07 L422.26,124.17 L422.28,123.27 L422.3,122.37 L422.32,121.47 L422.34,120.57 L422.36,119.67 L422.38,118.77 L422.4,117.87 L422.42,116.97 L422.44,116.07 L422.46,115.17 L422.48,114.27 L422.51,113.37 L422.53,112.47 L422.56,111.57 L422.58,110.67 L422.61,109.77 L422.64,108.87 L422.67,107.97 L422.7,107.07 L422.73,106.17 L422.76,105.27 L422.79,104.37 L422.83,103.47 L422.87,102.57 L422.92,101.67 L422.97,100.78 L423.03,99.88 L423.1,98.98 L423.18,98.09 L423.27,97.19 L423.36,96.3 L423.47,95.4 L423.58,94.51 L423.69,93.62 L423.81,92.72 L423.94,91.83 L424.06,90.94 L424.19,90.05 L424.32,89.16 L424.45,88.27 L424.57,87.38 L424.69,86.48 L424.8,85.59 L424.91,84.7 L425.02,83.8 L425.13,82.91 L425.24,82.02 L425.36,81.13 L425.48,80.23 L425.6,79.34 L425.73,78.45 L425.86,77.56 L426,76.67 L426.14,75.78 L426.29,74.89 L426.44,74.01 L426.61,73.12 L426.78,72.24 L426.96,71.36 L427.16,70.48 L427.36,69.6 L427.58,68.73 L427.81,67.86 L428.05,66.99 L428.3,66.13 L428.57,65.27 L428.85,64.42 L429.14,63.57 L429.44,62.72 L429.75,61.87 L430.06,61.03 L430.39,60.19 L430.73,59.36 L431.1,58.54 L431.51,57.74 L431.94,56.96 L432.4,56.18 L432.87,55.41 L433.36,54.64 L433.86,53.89 L434.38,53.15 L434.92,52.44 L435.49,51.76 L436.1,51.11 L436.75,50.51 L437.43,49.94 L438.15,49.41 L438.9,48.91 L439.68,48.45 L440.48,48.04 L441.29,47.66 L442.12,47.32 L442.97,47.02 L443.82,46.74 L444.68,46.49 L445.56,46.25 L446.43,46.03 L447.31,45.82 L448.19,45.62 L449.07,45.42 L449.95,45.24 L450.84,45.08 L451.72,44.92 L452.61,44.78 L453.5,44.65 L454.38,44.53 L455.27,44.41 L456.16,44.29 L457.05,44.18 L457.94,44.06 L458.84,43.95 L459.73,43.84 L460.62,43.73 L461.51,43.63 L462.41,43.52 L463.3,43.42 L464.2,43.31 L465.09,43.21 L465.99,43.12 L466.88,43.02 L467.78,42.92 L468.68,42.83 L469.57,42.74 L470.47,42.65 L471.37,42.56 L472.27,42.48 L473.17,42.39 L474.06,42.31 L474.96,42.23 L475.86,42.16 L476.76,42.08 L477.66,42.01 L478.56,41.94 L479.46,41.87 L480.36,41.81 L481.26,41.74 L482.16,41.68 L483.06,41.62 L483.96,41.57 L484.86,41.52 L485.76,41.47 L486.66,41.42 L487.56,41.37 L488.46,41.33 L489.36,41.29 L490.26,41.25 L491.15,41.22 L492.05,41.19 L492.95,41.16 L493.85,41.13 L494.75,41.11 L495.65,41.09 L496.55,41.07 L497.45,41.05 L498.34,41.03 L499.24,41.01 L500.14,41 L501.04,40.98 L501.94,40.96 L502.84,40.95 L503.74,40.93 L504.64,40.92 L505.54,40.91 L506.44,40.89 L507.34,40.88 L508.24,40.87 L509.14,40.85 L510.04,40.84 L510.94,40.83 L511.84,40.82 L512.74,40.81 L513.64,40.8 L514.54,40.79 L515.44,40.78 L516.34,40.77 L517.24,40.76 L518.14,40.75 L519.04,40.74 L519.94,40.73 L520.84,40.72 L521.74,40.71 L522.64,40.7 L523.54,40.7 L524.44,40.69 L525.34,40.68 L526.24,40.67 L527.14,40.66 L528.04,40.65 L528.94,40.64 L529.84,40.64 L530.74,40.63 L531.64,40.62 L532.54,40.61 L533.44,40.6 L534.34,40.59 L535.24,40.58 L536.14,40.57 L537.04,40.56 L537.94,40.55 L538.84,40.54 L539.73,40.53 L540.59,40.52 L541.4,40.51 L542.12,40.5 L542.87,40.5 L543.02,40.49" fill="none" stroke="#800000" stroke-width="1.75" stroke-linejoin="round"/>
<path d="M419.02,192 L419.05,191.27 L419.08,190.55 L419.12,189.74 L419.15,188.88 L419.19,188 L419.23,187.1 L419.27,186.21 L419.31,185.31 L419.34,184.41 L419.38,183.51 L419.42,182.61 L419.46,181.71 L419.5,180.81 L419.53,179.91 L419.57,179.01 L419.61,178.11 L419.65,177.21 L419.69,176.31 L419.72,175.42 L419.76,174.52 L419.8,173.62 L419.84,172.72 L419.87,171.82 L419.91,170.92 L419.95,170.02 L419.99,169.12 L420.02,168.22 L420.06,167.32 L420.1,166.42 L420.13,165.52 L420.17,164.62 L420.21,163.73 L420.25,162.83 L420.28,161.93 L420.32,161.03 L420.36,160.13 L420.4,159.23 L420.43,158.33 L420.47,157.43 L420.51,156.53 L420.55,155.63 L420.59,154.73 L420.63,153.83 L420.67,152.94 L420.71,152.04 L420.75,151.14 L420.79,150.24 L420.83,149.34 L420.88,148.44 L420.92,147.54 L420.97,146.64 L421.02,145.74 L421.06,144.84 L421.11,143.95 L421.16,143.05 L421.21,142.15 L421.26,141.25 L421.31,140.35 L421.36,139.45 L421.41,138.55 L421.46,137.65 L421.5,136.76 L421.55,135.86 L421.59,134.96 L421.63,134.06 L421.67,133.16 L421.71,132.26 L421.75,131.36 L421.78,130.46 L421.81,129.56 L421.84,128.66 L421.87,127.76 L421.89,126.87 L421.92,125.97 L421.94,125.07 L421.96,124.17 L421.98,123.27 L422,122.37 L422.02,121.47 L422.04,120.57 L422.06,119.67 L422.08,118.77 L422.1,117.87 L422.12,116.97 L422.14,116.07 L422.16,115.17 L422.18,114.27 L422.21,113.37 L422.23,112.47 L422.26,111.57 L422.28,110.67 L422.31,109.77 L422.34,108.87 L422.37,107.97 L422.4,107.07 L422.43,106.17 L422.46,105.27 L422.49,104.37 L422.53,103.47 L422.57,102.57 L422.62,101.67 L422.67,100.78 L422.73,99.88 L422.8,98.98 L422.88,98.09 L422.97,97.19 L423.06,96.3 L423.17,95.4 L423.28,94.51 L423.39,93.62 L423.51,92.72 L423.64,91.83 L423.76,90.94 L423.89,90.05 L424.02,89.16 L424.15,88.27 L424.27,87.38 L424.39,86.48 L424.5,85.59 L424.61,84.7 L424.72,83.8 L424.83,82.91 L424.94,82.02 L425.06,81.13 L425.18,80.23 L425.3,79.34 L425.43,78.45 L425.56,77.56 L425.7,76.67 L425.84,75.78 L425.99,74.89 L426.14,74.01 L426.31,73.12 L426.48,72.24 L426.66,71.36 L426.86,70.48 L427.06,69.6 L427.28,68.73 L427.51,67.86 L427.75,66.99 L428,66.13 L428.27,65.27 L428.55,64.42 L428.84,63.57 L429.15,62.72 L429.46,61.88 L429.79,61.04 L430.12,60.2 L430.47,59.37 L430.83,58.54 L431.2,57.72 L431.6,56.91 L432.02,56.11 L432.47,55.34 L432.96,54.6 L433.48,53.89 L434.05,53.21 L434.65,52.55 L435.3,51.93 L435.96,51.32 L436.65,50.73 L437.34,50.15 L438.05,49.58 L438.76,49.02 L439.47,48.47 L440.19,47.93 L440.92,47.4 L441.65,46.87 L442.39,46.35 L443.13,45.85 L443.88,45.35 L444.63,44.86 L445.4,44.38 L446.17,43.92 L446.95,43.47 L447.75,43.03 L448.55,42.62 L449.36,42.22 L450.18,41.86 L451.01,41.53 L451.85,41.24 L452.69,40.98 L453.54,40.75 L454.39,40.55 L455.24,40.35 L456.1,40.17 L456.97,39.99 L457.83,39.81 L458.7,39.64 L459.57,39.48 L460.45,39.32 L461.33,39.16 L462.21,39.01 L463.09,38.86 L463.97,38.71 L464.86,38.57 L465.75,38.44 L466.64,38.3 L467.54,38.17 L468.43,38.05 L469.33,37.92 L470.23,37.8 L471.13,37.69 L472.03,37.57 L472.93,37.46 L473.83,37.36 L474.74,37.25 L475.64,37.15 L476.55,37.05 L477.46,36.96 L478.36,36.87 L479.27,36.78 L480.18,36.69 L481.09,36.61 L482,36.53 L482.91,36.45 L483.81,36.37 L484.72,36.3 L485.63,36.23 L486.54,36.16 L487.44,36.09 L488.35,36.02 L489.25,35.96 L490.16,35.9 L491.06,35.84 L491.96,35.78 L492.86,35.73 L493.76,35.68 L494.66,35.62 L495.56,35.57 L496.45,35.52 L497.35,35.48 L498.25,35.43 L499.15,35.38 L500.04,35.34 L500.94,35.3 L501.84,35.25 L502.74,35.21 L503.63,35.17 L504.53,35.14 L505.43,35.1 L506.33,35.06 L507.23,35.03 L508.13,34.99 L509.03,34.96 L509.93,34.92 L510.82,34.89 L511.72,34.86 L512.62,34.83 L513.52,34.8 L514.42,34.77 L515.32,34.74 L516.22,34.71 L517.12,34.68 L518.02,34.65 L518.92,34.62 L519.82,34.6 L520.72,34.57 L521.62,34.54 L522.52,34.52 L523.43,34.49 L524.33,34.46 L525.23,34.44 L526.13,34.41 L527.03,34.38 L527.93,34.36 L528.83,34.33 L529.73,34.31 L530.63,34.28 L531.53,34.25 L532.43,34.23 L533.33,34.2 L534.23,34.17 L535.13,34.14 L536.03,34.11 L536.93,34.09 L537.83,34.06 L538.73,34.03 L539.62,34 L540.48,33.97 L541.3,33.94 L542.04,33.92 L542.81,33.89 L542.96,33.88" fill="none" stroke="#008000" stroke-width="1.75" stroke-linejoin="round"/>
<path d="M418.88,192 L418.91,191.27 L418.94,190.55 L418.97,189.74 L419,188.88 L419.04,188 L419.07,187.1 L419.11,186.2 L419.14,185.31 L419.18,184.41 L419.21,183.51 L419.25,182.61 L419.28,181.71 L419.32,180.81 L419.35,179.91 L419.38,179.01 L419.42,178.11 L419.45,177.21 L419.49,176.31 L419.52,175.41 L419.56,174.51 L419.59,173.61 L419.62,172.71 L419.66,171.82 L419.69,170.92 L419.72,170.02 L419.76,169.12 L419.79,168.22 L419.82,167.32 L419.86,166.42 L419.89,165.52 L419.92,164.62 L419.96,163.72 L419.99,162.82 L420.02,161.92 L420.06,161.02 L420.09,160.12 L420.13,159.22 L420.16,158.32 L420.2,157.43 L420.23,156.53 L420.27,155.63 L420.3,154.73 L420.34,153.83 L420.38,152.93 L420.41,152.03 L420.45,151.13 L420.49,150.23 L420.53,149.33 L420.58,148.43 L420.62,147.53 L420.66,146.64 L420.71,145.74 L420.76,144.84 L420.81,143.94 L420.86,143.04 L420.91,142.14 L420.96,141.24 L421.01,140.34 L421.06,139.45 L421.1,138.55 L421.15,137.65 L421.2,136.75 L421.24,135.85 L421.29,134.95 L421.33,134.05 L421.37,133.15 L421.41,132.25 L421.45,131.36 L421.48,130.46 L421.51,129.56 L421.54,128.66 L421.57,127.76 L421.59,126.86 L421.62,125.96 L421.64,125.06 L421.67,124.16 L421.69,123.26 L421.71,122.36 L421.73,121.46 L421.75,120.56 L421.77,119.66 L421.79,118.76 L421.81,117.86 L421.83,116.96 L421.85,116.06 L421.87,115.16 L421.89,114.26 L421.92,113.36 L421.94,112.46 L421.96,111.56 L421.98,110.66 L422.01,109.76 L422.03,108.86 L422.05,107.96 L422.07,107.06 L422.1,106.16 L422.12,105.26 L422.15,104.36 L422.17,103.46 L422.21,102.56 L422.24,101.66 L422.29,100.77 L422.34,99.87 L422.41,98.97 L422.49,98.08 L422.59,97.19 L422.7,96.29 L422.81,95.4 L422.94,94.51 L423.07,93.62 L423.2,92.72 L423.33,91.83 L423.46,90.94 L423.59,90.05 L423.72,89.16 L423.85,88.27 L423.97,87.38 L424.09,86.49 L424.2,85.59 L424.31,84.7 L424.42,83.81 L424.53,82.91 L424.64,82.02 L424.76,81.13 L424.88,80.24 L425,79.34 L425.13,78.45 L425.27,77.56 L425.4,76.67 L425.55,75.78 L425.69,74.9 L425.85,74.01 L426.01,73.12 L426.17,72.24 L426.35,71.36 L426.53,70.48 L426.72,69.6 L426.93,68.72 L427.14,67.85 L427.37,66.98 L427.62,66.11 L427.88,65.25 L428.16,64.4 L428.45,63.55 L428.77,62.7 L429.09,61.87 L429.43,61.03 L429.78,60.2 L430.13,59.37 L430.49,58.53 L430.85,57.7 L431.21,56.87 L431.59,56.05 L431.98,55.24 L432.4,54.46 L432.86,53.7 L433.36,52.98 L433.91,52.29 L434.5,51.63 L435.14,50.99 L435.8,50.38 L436.48,49.79 L437.18,49.22 L437.89,48.66 L438.62,48.13 L439.35,47.6 L440.09,47.09 L440.83,46.58 L441.58,46.07 L442.33,45.57 L443.08,45.07 L443.83,44.57 L444.59,44.08 L445.36,43.61 L446.13,43.15 L446.92,42.72 L447.72,42.31 L448.53,41.92 L449.35,41.55 L450.18,41.21 L451.02,40.89 L451.86,40.6 L452.71,40.32 L453.56,40.06 L454.42,39.81 L455.27,39.56 L456.13,39.33 L457,39.1 L457.86,38.87 L458.72,38.64 L459.59,38.42 L460.46,38.2 L461.33,37.98 L462.21,37.77 L463.08,37.56 L463.96,37.36 L464.84,37.16 L465.72,36.96 L466.6,36.76 L467.48,36.57 L468.36,36.38 L469.25,36.2 L470.14,36.01 L471.02,35.83 L471.91,35.66 L472.8,35.49 L473.69,35.32 L474.58,35.15 L475.47,34.99 L476.37,34.83 L477.26,34.67 L478.15,34.52 L479.05,34.37 L479.94,34.22 L480.84,34.08 L481.73,33.93 L482.63,33.8 L483.52,33.66 L484.42,33.53 L485.31,33.4 L486.21,33.28 L487.1,33.15 L488,33.04 L488.89,32.92 L489.79,32.81 L490.68,32.7 L491.58,32.59 L492.47,32.49 L493.36,32.38 L494.25,32.29 L495.15,32.19 L496.04,32.1 L496.93,32.01 L497.82,31.92 L498.71,31.83 L499.61,31.75 L500.5,31.67 L501.39,31.59 L502.29,31.51 L503.18,31.43 L504.08,31.35 L504.97,31.28 L505.87,31.21 L506.77,31.14 L507.66,31.07 L508.56,31 L509.46,30.93 L510.35,30.87 L511.25,30.8 L512.15,30.74 L513.05,30.68 L513.95,30.62 L514.84,30.56 L515.74,30.5 L516.64,30.44 L517.54,30.38 L518.44,30.32 L519.34,30.27 L520.24,30.21 L521.14,30.15 L522.04,30.1 L522.94,30.04 L523.84,29.99 L524.74,29.93 L525.64,29.88 L526.54,29.82 L527.44,29.77 L528.34,29.71 L529.24,29.66 L530.14,29.6 L531.04,29.55 L531.94,29.49 L532.84,29.44 L533.74,29.38 L534.64,29.33 L535.54,29.27 L536.44,29.21 L537.33,29.15 L538.23,29.09 L539.12,29.03 L540,28.97 L540.85,28.91 L541.64,28.86 L542.52,28.8 L543.01,28.76" fill="none" stroke="#008080" stroke-width="1.75" stroke-linejoin="round"/>
<path d="M418.58,192 L418.61,191.27 L418.64,190.55 L418.67,189.74 L418.7,188.88 L418.74,188 L418.77,187.1 L418.81,186.2 L418.84,185.31 L418.88,184.41 L418.91,183.51 L418.95,182.61 L418.98,181.71 L419.02,180.81 L419.05,179.91 L419.08,179.01 L419.12,178.11 L419.15,177.21 L419.19,176.31 L419.22,175.41 L419.26,174.51 L419.29,173.61 L419.32,172.71 L419.36,171.82 L419.39,170.92 L419.42,170.02 L419.46,169.12 L419.49,168.22 L419.52,167.32 L419.56,166.42 L419.59,165.52 L419.62,164.62 L419.66,163.72 L419.69,162.82 L419.72,161.92 L419.76,161.02 L419.79,160.12 L419.83,159.22 L419.86,158.32 L419.9,157.43 L419.93,156.53 L419.97,155.63 L420,154.73 L420.04,153.83 L420.08,152.93 L420.11,152.03 L420.15,151.13 L420.19,150.23 L420.23,149.33 L420.28,148.43 L420.32,147.53 L420.37,146.64 L420.42,145.74 L420.46,144.84 L420.51,143.94 L420.56,143.04 L420.62,142.14 L420.67,141.24 L420.72,140.34 L420.77,139.45 L420.82,138.55 L420.87,137.65 L420.91,136.75 L420.96,135.85 L421,134.95 L421.04,134.05 L421.08,133.15 L421.12,132.25 L421.15,131.36 L421.18,130.46 L421.21,129.56 L421.23,128.66 L421.26,127.76 L421.28,126.86 L421.3,125.96 L421.32,125.06 L421.34,124.16 L421.35,123.26 L421.37,122.36 L421.39,121.46 L421.4,120.56 L421.42,119.66 L421.44,118.76 L421.45,117.86 L421.47,116.96 L421.48,116.06 L421.5,115.16 L421.52,114.26 L421.53,113.36 L421.55,112.46 L421.57,111.56 L421.59,110.66 L421.6,109.76 L421.62,108.86 L421.64,107.96 L421.66,107.06 L421.68,106.16 L421.7,105.26 L421.72,104.36 L421.74,103.46 L421.77,102.56 L421.8,101.66 L421.85,100.76 L421.91,99.87 L421.98,98.97 L422.07,98.08 L422.19,97.19 L422.31,96.3 L422.45,95.41 L422.59,94.52 L422.73,93.63 L422.87,92.74 L423,91.85 L423.12,90.95 L423.24,90.06 L423.35,89.17 L423.46,88.27 L423.57,87.38 L423.68,86.49 L423.79,85.59 L423.9,84.7 L424.01,83.81 L424.12,82.91 L424.24,82.02 L424.36,81.13 L424.48,80.24 L424.6,79.35 L424.73,78.46 L424.87,77.57 L425,76.68 L425.15,75.79 L425.29,74.9 L425.45,74.01 L425.61,73.13 L425.77,72.24 L425.95,71.36 L426.13,70.48 L426.32,69.6 L426.53,68.72 L426.74,67.85 L426.97,66.98 L427.21,66.11 L427.47,65.25 L427.76,64.4 L428.06,63.55 L428.4,62.72 L428.76,61.9 L429.14,61.09 L429.53,60.28 L429.92,59.47 L430.3,58.65 L430.66,57.82 L431.02,56.99 L431.37,56.17 L431.75,55.35 L432.15,54.56 L432.59,53.79 L433.08,53.04 L433.6,52.32 L434.17,51.62 L434.76,50.95 L435.39,50.3 L436.03,49.68 L436.7,49.08 L437.39,48.5 L438.1,47.95 L438.82,47.41 L439.56,46.9 L440.31,46.39 L441.07,45.91 L441.84,45.43 L442.62,44.97 L443.4,44.53 L444.19,44.09 L444.98,43.67 L445.79,43.27 L446.6,42.87 L447.42,42.5 L448.24,42.13 L449.06,41.78 L449.89,41.44 L450.73,41.1 L451.57,40.78 L452.41,40.46 L453.26,40.15 L454.11,39.85 L454.97,39.55 L455.82,39.27 L456.68,38.99 L457.54,38.73 L458.4,38.47 L459.27,38.22 L460.13,37.98 L460.99,37.74 L461.86,37.51 L462.73,37.29 L463.6,37.06 L464.47,36.84 L465.34,36.62 L466.21,36.4 L467.08,36.18 L467.96,35.97 L468.83,35.76 L469.71,35.55 L470.59,35.34 L471.47,35.13 L472.35,34.93 L473.23,34.73 L474.11,34.54 L475,34.34 L475.88,34.15 L476.77,33.97 L477.65,33.78 L478.54,33.6 L479.42,33.43 L480.31,33.25 L481.2,33.09 L482.09,32.92 L482.97,32.76 L483.86,32.6 L484.75,32.45 L485.64,32.3 L486.53,32.16 L487.42,32.01 L488.31,31.88 L489.2,31.75 L490.09,31.62 L490.98,31.5 L491.87,31.38 L492.76,31.27 L493.65,31.16 L494.54,31.06 L495.43,30.96 L496.33,30.87 L497.22,30.77 L498.11,30.68 L499,30.6 L499.89,30.51 L500.78,30.43 L501.68,30.35 L502.57,30.27 L503.47,30.19 L504.36,30.11 L505.26,30.04 L506.15,29.97 L507.05,29.9 L507.95,29.83 L508.84,29.76 L509.74,29.69 L510.64,29.63 L511.53,29.56 L512.43,29.5 L513.33,29.44 L514.23,29.38 L515.13,29.32 L516.03,29.26 L516.93,29.2 L517.83,29.14 L518.73,29.09 L519.62,29.03 L520.52,28.98 L521.42,28.92 L522.32,28.87 L523.23,28.81 L524.13,28.76 L525.03,28.7 L525.93,28.65 L526.83,28.6 L527.73,28.54 L528.63,28.49 L529.53,28.43 L530.43,28.38 L531.33,28.33 L532.23,28.27 L533.13,28.22 L534.03,28.16 L534.93,28.1 L535.83,28.05 L536.73,27.99 L537.62,27.93 L538.52,27.87 L539.41,27.81 L540.28,27.75 L541.12,27.7 L541.87,27.64 L542.7,27.59 L543.01,27.56" fill="none" stroke="#0000A0" stroke-width="1.75" stroke-linejoin="round"/>
<path d="M417.11,192 L417.13,191.26 L417.15,190.55 L417.18,189.74 L417.2,188.88 L417.23,188 L417.26,187.1 L417.29,186.2 L417.31,185.3 L417.34,184.4 L417.37,183.5 L417.4,182.6 L417.42,181.71 L417.45,180.81 L417.48,179.91 L417.51,179.01 L417.54,178.11 L417.56,177.21 L417.59,176.31 L417.62,175.41 L417.64,174.51 L417.67,173.61 L417.7,172.71 L417.72,171.81 L417.75,170.91 L417.77,170.01 L417.8,169.11 L417.82,168.21 L417.85,167.31 L417.87,166.41 L417.9,165.51 L417.92,164.61 L417.95,163.71 L417.97,162.81 L418,161.91 L418.02,161.01 L418.05,160.11 L418.08,159.21 L418.11,158.31 L418.13,157.41 L418.16,156.51 L418.19,155.62 L418.22,154.72 L418.26,153.82 L418.29,152.92 L418.32,152.02 L418.36,151.12 L418.4,150.22 L418.44,149.32 L418.48,148.42 L418.52,147.52 L418.57,146.63 L418.62,145.73 L418.68,144.83 L418.73,143.93 L418.79,143.03 L418.85,142.13 L418.91,141.24 L418.97,140.34 L419.03,139.44 L419.09,138.54 L419.15,137.64 L419.21,136.74 L419.27,135.85 L419.33,134.95 L419.38,134.05 L419.43,133.15 L419.48,132.25 L419.53,131.35 L419.57,130.46 L419.62,129.56 L419.66,128.66 L419.69,127.76 L419.73,126.86 L419.77,125.96 L419.81,125.06 L419.84,124.16 L419.88,123.26 L419.91,122.36 L419.94,121.46 L419.98,120.56 L420.01,119.66 L420.04,118.76 L420.07,117.87 L420.1,116.97 L420.13,116.07 L420.16,115.17 L420.18,114.27 L420.21,113.37 L420.23,112.47 L420.26,111.57 L420.28,110.67 L420.3,109.77 L420.32,108.87 L420.34,107.97 L420.35,107.07 L420.37,106.17 L420.39,105.27 L420.4,104.37 L420.42,103.47 L420.44,102.57 L420.46,101.67 L420.49,100.77 L420.53,99.87 L420.57,98.97 L420.62,98.07 L420.68,97.17 L420.75,96.27 L420.83,95.38 L420.93,94.48 L421.04,93.59 L421.16,92.7 L421.3,91.81 L421.46,90.93 L421.64,90.05 L421.81,89.17 L421.99,88.29 L422.16,87.4 L422.31,86.52 L422.45,85.63 L422.58,84.74 L422.7,83.85 L422.82,82.95 L422.93,82.06 L423.05,81.17 L423.17,80.27 L423.28,79.38 L423.4,78.49 L423.52,77.6 L423.64,76.7 L423.76,75.81 L423.88,74.92 L424,74.03 L424.13,73.14 L424.26,72.25 L424.4,71.36 L424.54,70.47 L424.69,69.58 L424.85,68.7 L425.02,67.81 L425.2,66.93 L425.4,66.05 L425.61,65.18 L425.83,64.31 L426.07,63.44 L426.33,62.58 L426.59,61.72 L426.86,60.86 L427.14,60 L427.45,59.16 L427.78,58.33 L428.15,57.51 L428.55,56.71 L428.98,55.92 L429.44,55.14 L429.93,54.38 L430.45,53.65 L430.99,52.93 L431.55,52.23 L432.14,51.56 L432.75,50.91 L433.38,50.27 L434.04,49.65 L434.71,49.04 L435.39,48.45 L436.07,47.86 L436.76,47.27 L437.46,46.7 L438.17,46.13 L438.88,45.59 L439.61,45.06 L440.35,44.55 L441.11,44.08 L441.88,43.63 L442.67,43.21 L443.47,42.81 L444.29,42.43 L445.11,42.06 L445.94,41.71 L446.77,41.36 L447.61,41.02 L448.45,40.69 L449.29,40.37 L450.14,40.06 L450.99,39.76 L451.84,39.48 L452.69,39.22 L453.55,38.97 L454.41,38.72 L455.27,38.48 L456.14,38.25 L457,38.01 L457.87,37.79 L458.74,37.56 L459.61,37.34 L460.48,37.11 L461.35,36.9 L462.23,36.68 L463.1,36.47 L463.98,36.26 L464.86,36.05 L465.73,35.84 L466.61,35.64 L467.49,35.44 L468.38,35.24 L469.26,35.05 L470.14,34.86 L471.03,34.67 L471.91,34.48 L472.8,34.3 L473.68,34.12 L474.57,33.94 L475.46,33.77 L476.35,33.6 L477.23,33.43 L478.12,33.26 L479.01,33.1 L479.9,32.94 L480.79,32.79 L481.68,32.63 L482.57,32.48 L483.47,32.33 L484.36,32.19 L485.25,32.05 L486.14,31.91 L487.03,31.78 L487.92,31.64 L488.81,31.51 L489.7,31.39 L490.59,31.27 L491.49,31.15 L492.38,31.03 L493.27,30.92 L494.16,30.81 L495.05,30.7 L495.94,30.6 L496.83,30.5 L497.72,30.4 L498.61,30.3 L499.5,30.2 L500.39,30.11 L501.29,30.02 L502.18,29.93 L503.07,29.84 L503.97,29.76 L504.86,29.67 L505.76,29.59 L506.65,29.51 L507.55,29.43 L508.44,29.35 L509.34,29.28 L510.24,29.2 L511.13,29.13 L512.03,29.06 L512.93,28.98 L513.83,28.91 L514.72,28.84 L515.62,28.78 L516.52,28.71 L517.42,28.64 L518.32,28.57 L519.22,28.51 L520.12,28.44 L521.02,28.38 L521.91,28.31 L522.81,28.25 L523.71,28.18 L524.61,28.12 L525.51,28.06 L526.41,27.99 L527.31,27.93 L528.21,27.87 L529.11,27.8 L530.01,27.74 L530.91,27.68 L531.81,27.61 L532.71,27.55 L533.61,27.48 L534.5,27.42 L535.4,27.35 L536.3,27.28 L537.2,27.21 L538.1,27.15 L538.99,27.08 L539.87,27.01 L540.73,26.94 L541.53,26.88 L542.43,26.8 L542.95,26.76" fill="none" stroke="#FF8000" stroke-width="1.75" stroke-linejoin="round"/>
<line x1="382.9" y1="176.7" x2="382.9" y2="167.7" stroke="#008000" stroke-width="1.2"/>
</g>
<rect x="349.7" y="20.8" width="193" height="166" fill="none" stroke="#3c3c3c" stroke-width="1.45"/>
<line x1="349.7" y1="186.8" x2="349.7" y2="183.6" stroke="#3c3c3c" stroke-width="1.0"/>
<line x1="361.76" y1="186.8" x2="361.76" y2="184.9" stroke="#3c3c3c" stroke-width="1.0"/>
<text x="349.7" y="197" font-size="10.0" text-anchor="middle" >-30</text>
<line x1="373.82" y1="186.8" x2="373.82" y2="183.6" stroke="#3c3c3c" stroke-width="1.0"/>
<line x1="385.89" y1="186.8" x2="385.89" y2="184.9" stroke="#3c3c3c" stroke-width="1.0"/>
<text x="373.82" y="197" font-size="10.0" text-anchor="middle" >-25</text>
<line x1="397.95" y1="186.8" x2="397.95" y2="183.6" stroke="#3c3c3c" stroke-width="1.0"/>
<line x1="410.01" y1="186.8" x2="410.01" y2="184.9" stroke="#3c3c3c" stroke-width="1.0"/>
<text x="397.95" y="197" font-size="10.0" text-anchor="middle" >-20</text>
<line x1="422.08" y1="186.8" x2="422.08" y2="183.6" stroke="#3c3c3c" stroke-width="1.0"/>
<line x1="434.14" y1="186.8" x2="434.14" y2="184.9" stroke="#3c3c3c" stroke-width="1.0"/>
<text x="422.08" y="197" font-size="10.0" text-anchor="middle" >-15</text>
<line x1="446.2" y1="186.8" x2="446.2" y2="183.6" stroke="#3c3c3c" stroke-width="1.0"/>
<line x1="458.26" y1="186.8" x2="458.26" y2="184.9" stroke="#3c3c3c" stroke-width="1.0"/>
<text x="446.2" y="197" font-size="10.0" text-anchor="middle" >-10</text>
<line x1="470.33" y1="186.8" x2="470.33" y2="183.6" stroke="#3c3c3c" stroke-width="1.0"/>
<line x1="482.39" y1="186.8" x2="482.39" y2="184.9" stroke="#3c3c3c" stroke-width="1.0"/>
<text x="470.33" y="197" font-size="10.0" text-anchor="middle" >-5</text>
<line x1="494.45" y1="186.8" x2="494.45" y2="183.6" stroke="#3c3c3c" stroke-width="1.0"/>
<line x1="506.51" y1="186.8" x2="506.51" y2="184.9" stroke="#3c3c3c" stroke-width="1.0"/>
<text x="494.45" y="197" font-size="10.0" text-anchor="middle" >0</text>
<line x1="518.58" y1="186.8" x2="518.58" y2="183.6" stroke="#3c3c3c" stroke-width="1.0"/>
<line x1="530.64" y1="186.8" x2="530.64" y2="184.9" stroke="#3c3c3c" stroke-width="1.0"/>
<text x="518.58" y="197" font-size="10.0" text-anchor="middle" >5</text>
<line x1="542.7" y1="186.8" x2="542.7" y2="183.6" stroke="#3c3c3c" stroke-width="1.0"/>
<text x="542.7" y="197" font-size="10.0" text-anchor="middle" >10</text>
<line x1="349.7" y1="20.8" x2="352.9" y2="20.8" stroke="#3c3c3c" stroke-width="1.0"/>
<line x1="349.7" y1="35.3" x2="351.6" y2="35.3" stroke="#3c3c3c" stroke-width="0.9"/>
<line x1="349.7" y1="31.65" x2="351.6" y2="31.65" stroke="#3c3c3c" stroke-width="0.9"/>
<line x1="349.7" y1="29.06" x2="351.6" y2="29.06" stroke="#3c3c3c" stroke-width="0.9"/>
<line x1="349.7" y1="27.05" x2="351.6" y2="27.05" stroke="#3c3c3c" stroke-width="0.9"/>
<line x1="349.7" y1="25.4" x2="351.6" y2="25.4" stroke="#3c3c3c" stroke-width="0.9"/>
<line x1="349.7" y1="24.01" x2="351.6" y2="24.01" stroke="#3c3c3c" stroke-width="0.9"/>
<line x1="349.7" y1="22.81" x2="351.6" y2="22.81" stroke="#3c3c3c" stroke-width="0.9"/>
<line x1="349.7" y1="21.75" x2="351.6" y2="21.75" stroke="#3c3c3c" stroke-width="0.9"/>
<text x="346.4" y="23.5" font-size="9.5" text-anchor="end">10<tspan font-size="6.0" dx="-0.5" dy="-5.4">-5</tspan></text>
<line x1="349.7" y1="41.55" x2="352.9" y2="41.55" stroke="#3c3c3c" stroke-width="1.0"/>
<line x1="349.7" y1="56.05" x2="351.6" y2="56.05" stroke="#3c3c3c" stroke-width="0.9"/>
<line x1="349.7" y1="52.4" x2="351.6" y2="52.4" stroke="#3c3c3c" stroke-width="0.9"/>
<line x1="349.7" y1="49.81" x2="351.6" y2="49.81" stroke="#3c3c3c" stroke-width="0.9"/>
<line x1="349.7" y1="47.8" x2="351.6" y2="47.8" stroke="#3c3c3c" stroke-width="0.9"/>
<line x1="349.7" y1="46.15" x2="351.6" y2="46.15" stroke="#3c3c3c" stroke-width="0.9"/>
<line x1="349.7" y1="44.76" x2="351.6" y2="44.76" stroke="#3c3c3c" stroke-width="0.9"/>
<line x1="349.7" y1="43.56" x2="351.6" y2="43.56" stroke="#3c3c3c" stroke-width="0.9"/>
<line x1="349.7" y1="42.5" x2="351.6" y2="42.5" stroke="#3c3c3c" stroke-width="0.9"/>
<text x="346.4" y="44.25" font-size="9.5" text-anchor="end">10<tspan font-size="6.0" dx="-0.5" dy="-5.4">-6</tspan></text>
<line x1="349.7" y1="62.3" x2="352.9" y2="62.3" stroke="#3c3c3c" stroke-width="1.0"/>
<line x1="349.7" y1="76.8" x2="351.6" y2="76.8" stroke="#3c3c3c" stroke-width="0.9"/>
<line x1="349.7" y1="73.15" x2="351.6" y2="73.15" stroke="#3c3c3c" stroke-width="0.9"/>
<line x1="349.7" y1="70.56" x2="351.6" y2="70.56" stroke="#3c3c3c" stroke-width="0.9"/>
<line x1="349.7" y1="68.55" x2="351.6" y2="68.55" stroke="#3c3c3c" stroke-width="0.9"/>
<line x1="349.7" y1="66.9" x2="351.6" y2="66.9" stroke="#3c3c3c" stroke-width="0.9"/>
<line x1="349.7" y1="65.51" x2="351.6" y2="65.51" stroke="#3c3c3c" stroke-width="0.9"/>
<line x1="349.7" y1="64.31" x2="351.6" y2="64.31" stroke="#3c3c3c" stroke-width="0.9"/>
<line x1="349.7" y1="63.25" x2="351.6" y2="63.25" stroke="#3c3c3c" stroke-width="0.9"/>
<text x="346.4" y="65" font-size="9.5" text-anchor="end">10<tspan font-size="6.0" dx="-0.5" dy="-5.4">-7</tspan></text>
<line x1="349.7" y1="83.05" x2="352.9" y2="83.05" stroke="#3c3c3c" stroke-width="1.0"/>
<line x1="349.7" y1="97.55" x2="351.6" y2="97.55" stroke="#3c3c3c" stroke-width="0.9"/>
<line x1="349.7" y1="93.9" x2="351.6" y2="93.9" stroke="#3c3c3c" stroke-width="0.9"/>
<line x1="349.7" y1="91.31" x2="351.6" y2="91.31" stroke="#3c3c3c" stroke-width="0.9"/>
<line x1="349.7" y1="89.3" x2="351.6" y2="89.3" stroke="#3c3c3c" stroke-width="0.9"/>
<line x1="349.7" y1="87.65" x2="351.6" y2="87.65" stroke="#3c3c3c" stroke-width="0.9"/>
<line x1="349.7" y1="86.26" x2="351.6" y2="86.26" stroke="#3c3c3c" stroke-width="0.9"/>
<line x1="349.7" y1="85.06" x2="351.6" y2="85.06" stroke="#3c3c3c" stroke-width="0.9"/>
<line x1="349.7" y1="84" x2="351.6" y2="84" stroke="#3c3c3c" stroke-width="0.9"/>
<text x="346.4" y="85.75" font-size="9.5" text-anchor="end">10<tspan font-size="6.0" dx="-0.5" dy="-5.4">-8</tspan></text>
<line x1="349.7" y1="103.8" x2="352.9" y2="103.8" stroke="#3c3c3c" stroke-width="1.0"/>
<line x1="349.7" y1="118.3" x2="351.6" y2="118.3" stroke="#3c3c3c" stroke-width="0.9"/>
<line x1="349.7" y1="114.65" x2="351.6" y2="114.65" stroke="#3c3c3c" stroke-width="0.9"/>
<line x1="349.7" y1="112.06" x2="351.6" y2="112.06" stroke="#3c3c3c" stroke-width="0.9"/>
<line x1="349.7" y1="110.05" x2="351.6" y2="110.05" stroke="#3c3c3c" stroke-width="0.9"/>
<line x1="349.7" y1="108.4" x2="351.6" y2="108.4" stroke="#3c3c3c" stroke-width="0.9"/>
<line x1="349.7" y1="107.01" x2="351.6" y2="107.01" stroke="#3c3c3c" stroke-width="0.9"/>
<line x1="349.7" y1="105.81" x2="351.6" y2="105.81" stroke="#3c3c3c" stroke-width="0.9"/>
<line x1="349.7" y1="104.75" x2="351.6" y2="104.75" stroke="#3c3c3c" stroke-width="0.9"/>
<text x="346.4" y="106.5" font-size="9.5" text-anchor="end">10<tspan font-size="6.0" dx="-0.5" dy="-5.4">-9</tspan></text>
<line x1="349.7" y1="124.55" x2="352.9" y2="124.55" stroke="#3c3c3c" stroke-width="1.0"/>
<line x1="349.7" y1="139.05" x2="351.6" y2="139.05" stroke="#3c3c3c" stroke-width="0.9"/>
<line x1="349.7" y1="135.4" x2="351.6" y2="135.4" stroke="#3c3c3c" stroke-width="0.9"/>
<line x1="349.7" y1="132.81" x2="351.6" y2="132.81" stroke="#3c3c3c" stroke-width="0.9"/>
<line x1="349.7" y1="130.8" x2="351.6" y2="130.8" stroke="#3c3c3c" stroke-width="0.9"/>
<line x1="349.7" y1="129.15" x2="351.6" y2="129.15" stroke="#3c3c3c" stroke-width="0.9"/>
<line x1="349.7" y1="127.76" x2="351.6" y2="127.76" stroke="#3c3c3c" stroke-width="0.9"/>
<line x1="349.7" y1="126.56" x2="351.6" y2="126.56" stroke="#3c3c3c" stroke-width="0.9"/>
<line x1="349.7" y1="125.5" x2="351.6" y2="125.5" stroke="#3c3c3c" stroke-width="0.9"/>
<text x="346.4" y="127.25" font-size="9.5" text-anchor="end">10<tspan font-size="6.0" dx="-0.5" dy="-5.4">-10</tspan></text>
<line x1="349.7" y1="145.3" x2="352.9" y2="145.3" stroke="#3c3c3c" stroke-width="1.0"/>
<line x1="349.7" y1="159.8" x2="351.6" y2="159.8" stroke="#3c3c3c" stroke-width="0.9"/>
<line x1="349.7" y1="156.15" x2="351.6" y2="156.15" stroke="#3c3c3c" stroke-width="0.9"/>
<line x1="349.7" y1="153.56" x2="351.6" y2="153.56" stroke="#3c3c3c" stroke-width="0.9"/>
<line x1="349.7" y1="151.55" x2="351.6" y2="151.55" stroke="#3c3c3c" stroke-width="0.9"/>
<line x1="349.7" y1="149.9" x2="351.6" y2="149.9" stroke="#3c3c3c" stroke-width="0.9"/>
<line x1="349.7" y1="148.51" x2="351.6" y2="148.51" stroke="#3c3c3c" stroke-width="0.9"/>
<line x1="349.7" y1="147.31" x2="351.6" y2="147.31" stroke="#3c3c3c" stroke-width="0.9"/>
<line x1="349.7" y1="146.25" x2="351.6" y2="146.25" stroke="#3c3c3c" stroke-width="0.9"/>
<text x="346.4" y="148" font-size="9.5" text-anchor="end">10<tspan font-size="6.0" dx="-0.5" dy="-5.4">-11</tspan></text>
<line x1="349.7" y1="166.05" x2="352.9" y2="166.05" stroke="#3c3c3c" stroke-width="1.0"/>
<line x1="349.7" y1="180.55" x2="351.6" y2="180.55" stroke="#3c3c3c" stroke-width="0.9"/>
<line x1="349.7" y1="176.9" x2="351.6" y2="176.9" stroke="#3c3c3c" stroke-width="0.9"/>
<line x1="349.7" y1="174.31" x2="351.6" y2="174.31" stroke="#3c3c3c" stroke-width="0.9"/>
<line x1="349.7" y1="172.3" x2="351.6" y2="172.3" stroke="#3c3c3c" stroke-width="0.9"/>
<line x1="349.7" y1="170.65" x2="351.6" y2="170.65" stroke="#3c3c3c" stroke-width="0.9"/>
<line x1="349.7" y1="169.26" x2="351.6" y2="169.26" stroke="#3c3c3c" stroke-width="0.9"/>
<line x1="349.7" y1="168.06" x2="351.6" y2="168.06" stroke="#3c3c3c" stroke-width="0.9"/>
<line x1="349.7" y1="167" x2="351.6" y2="167" stroke="#3c3c3c" stroke-width="0.9"/>
<text x="346.4" y="168.75" font-size="9.5" text-anchor="end">10<tspan font-size="6.0" dx="-0.5" dy="-5.4">-12</tspan></text>
<line x1="349.7" y1="186.8" x2="352.9" y2="186.8" stroke="#3c3c3c" stroke-width="1.0"/>
<text x="346.4" y="189.5" font-size="9.5" text-anchor="end">10<tspan font-size="6.0" dx="-0.5" dy="-5.4">-13</tspan></text>
<text x="301.9" y="20.6" font-size="14.4" text-anchor="start" >(b)</text>
<text transform="translate(319.7,161) rotate(-90)" font-size="11.1">Drain current, <tspan font-style="italic">I</tspan><tspan font-size="6.1" dy="3.3">DS</tspan><tspan dy="-3.3">​</tspan> (A)</text>
<text x="393" y="214.6" font-size="11.3">Gate Voltage, <tspan font-style="italic">V</tspan><tspan font-size="6.1" dy="3.3">GS</tspan><tspan dy="-3.3">​</tspan> (V)</text>
<text x="358.7" y="32.3" font-size="9.85" text-anchor="start" ><tspan font-style="italic">T</tspan> from 20 K to 300 K,</text>
<text x="358.7" y="43.3" font-size="9.85" text-anchor="start" >Step 20 K</text>
<text x="441.3" y="144.4" font-size="9.85"><tspan font-style="italic">V</tspan><tspan font-size="5.8" dy="3.9">GS</tspan><tspan dy="-3.9">​</tspan> backward sweep</text>
<text x="441.3" y="159.9" font-size="9.85"><tspan font-style="italic">V</tspan><tspan font-size="5.8" dy="3.9">DS</tspan><tspan dy="-3.9">​</tspan> = 1 V</text>
<path d="M466.8,93.3 C461.4,77.2 449.2,57.1 439.3,42.9" fill="none" stroke="#000" stroke-width="1.05"/>
<path d="M435.8,38 L441.06,41.63 L437.46,44.17 Z" fill="#000"/>
<rect x="58.8" y="238.4" width="193" height="166.2" fill="none" stroke="#3c3c3c" stroke-width="1.45"/>
<line x1="72.3" y1="404.6" x2="72.3" y2="401.4" stroke="#3c3c3c" stroke-width="1.0"/>
<text x="72.3" y="415.2" font-size="10.0" text-anchor="middle" >0</text>
<line x1="99.88" y1="404.6" x2="99.88" y2="401.4" stroke="#3c3c3c" stroke-width="1.0"/>
<text x="99.88" y="415.2" font-size="10.0" text-anchor="middle" >50</text>
<line x1="127.45" y1="404.6" x2="127.45" y2="401.4" stroke="#3c3c3c" stroke-width="1.0"/>
<text x="127.45" y="415.2" font-size="10.0" text-anchor="middle" >100</text>
<line x1="155.02" y1="404.6" x2="155.02" y2="401.4" stroke="#3c3c3c" stroke-width="1.0"/>
<text x="155.02" y="415.2" font-size="10.0" text-anchor="middle" >150</text>
<line x1="182.6" y1="404.6" x2="182.6" y2="401.4" stroke="#3c3c3c" stroke-width="1.0"/>
<text x="182.6" y="415.2" font-size="10.0" text-anchor="middle" >200</text>
<line x1="210.18" y1="404.6" x2="210.18" y2="401.4" stroke="#3c3c3c" stroke-width="1.0"/>
<text x="210.18" y="415.2" font-size="10.0" text-anchor="middle" >250</text>
<line x1="237.75" y1="404.6" x2="237.75" y2="401.4" stroke="#3c3c3c" stroke-width="1.0"/>
<text x="237.75" y="415.2" font-size="10.0" text-anchor="middle" >300</text>
<line x1="86.09" y1="404.6" x2="86.09" y2="402.7" stroke="#3c3c3c" stroke-width="1.0"/>
<line x1="113.66" y1="404.6" x2="113.66" y2="402.7" stroke="#3c3c3c" stroke-width="1.0"/>
<line x1="141.24" y1="404.6" x2="141.24" y2="402.7" stroke="#3c3c3c" stroke-width="1.0"/>
<line x1="168.81" y1="404.6" x2="168.81" y2="402.7" stroke="#3c3c3c" stroke-width="1.0"/>
<line x1="196.39" y1="404.6" x2="196.39" y2="402.7" stroke="#3c3c3c" stroke-width="1.0"/>
<line x1="223.96" y1="404.6" x2="223.96" y2="402.7" stroke="#3c3c3c" stroke-width="1.0"/>
<line x1="251.54" y1="404.6" x2="251.54" y2="402.7" stroke="#3c3c3c" stroke-width="1.0"/>
<line x1="58.8" y1="238.4" x2="62" y2="238.4" stroke="#3c3c3c" stroke-width="1.0"/>
<text x="55.8" y="242" font-size="10.0" text-anchor="end" >-13.5</text>
<line x1="58.8" y1="255.02" x2="60.7" y2="255.02" stroke="#3c3c3c" stroke-width="1.0"/>
<line x1="58.8" y1="271.64" x2="62" y2="271.64" stroke="#3c3c3c" stroke-width="1.0"/>
<text x="55.8" y="275.24" font-size="10.0" text-anchor="end" >-14.0</text>
<line x1="58.8" y1="288.26" x2="60.7" y2="288.26" stroke="#3c3c3c" stroke-width="1.0"/>
<line x1="58.8" y1="304.88" x2="62" y2="304.88" stroke="#3c3c3c" stroke-width="1.0"/>
<text x="55.8" y="308.48" font-size="10.0" text-anchor="end" >-14.5</text>
<line x1="58.8" y1="321.5" x2="60.7" y2="321.5" stroke="#3c3c3c" stroke-width="1.0"/>
<line x1="58.8" y1="338.12" x2="62" y2="338.12" stroke="#3c3c3c" stroke-width="1.0"/>
<text x="55.8" y="341.72" font-size="10.0" text-anchor="end" >-15.0</text>
<line x1="58.8" y1="354.74" x2="60.7" y2="354.74" stroke="#3c3c3c" stroke-width="1.0"/>
<line x1="58.8" y1="371.36" x2="62" y2="371.36" stroke="#3c3c3c" stroke-width="1.0"/>
<text x="55.8" y="374.96" font-size="10.0" text-anchor="end" >-15.5</text>
<line x1="58.8" y1="387.98" x2="60.7" y2="387.98" stroke="#3c3c3c" stroke-width="1.0"/>
<line x1="58.8" y1="404.6" x2="62" y2="404.6" stroke="#3c3c3c" stroke-width="1.0"/>
<text x="55.8" y="408.2" font-size="10.0" text-anchor="end" >-16.0</text>
<line x1="251.8" y1="387.3" x2="248.6" y2="387.3" stroke="#3c3c3c" stroke-width="1.0"/>
<text x="254.2" y="390.9" font-size="10.0" text-anchor="start" >0.0</text>
<line x1="251.8" y1="352.34" x2="248.6" y2="352.34" stroke="#3c3c3c" stroke-width="1.0"/>
<text x="254.2" y="355.94" font-size="10.0" text-anchor="start" >0.4</text>
<line x1="251.8" y1="317.38" x2="248.6" y2="317.38" stroke="#3c3c3c" stroke-width="1.0"/>
<text x="254.2" y="320.98" font-size="10.0" text-anchor="start" >0.8</text>
<line x1="251.8" y1="282.42" x2="248.6" y2="282.42" stroke="#3c3c3c" stroke-width="1.0"/>
<text x="254.2" y="286.02" font-size="10.0" text-anchor="start" >1.2</text>
<line x1="251.8" y1="247.46" x2="248.6" y2="247.46" stroke="#3c3c3c" stroke-width="1.0"/>
<text x="254.2" y="251.06" font-size="10.0" text-anchor="start" >1.6</text>
<line x1="251.8" y1="404.78" x2="249.9" y2="404.78" stroke="#3c3c3c" stroke-width="1.0"/>
<line x1="251.8" y1="369.82" x2="249.9" y2="369.82" stroke="#3c3c3c" stroke-width="1.0"/>
<line x1="251.8" y1="334.86" x2="249.9" y2="334.86" stroke="#3c3c3c" stroke-width="1.0"/>
<line x1="251.8" y1="299.9" x2="249.9" y2="299.9" stroke="#3c3c3c" stroke-width="1.0"/>
<line x1="251.8" y1="264.94" x2="249.9" y2="264.94" stroke="#3c3c3c" stroke-width="1.0"/>
<text x="9.8" y="240.4" font-size="14.4" text-anchor="start" >(c)</text>
<text transform="translate(27.4,381.3) rotate(-90)" font-size="11.3">Threshold voltage (V)</text>
<text x="115.4" y="432.6" font-size="11.3" text-anchor="start" >Temperature (K)</text>
<text transform="translate(280.2,345) rotate(-90)" font-size="11.3">&#916;<tspan font-style="italic">V</tspan> (V)</text>
<polyline points="83.33,268.5 94.36,264.2 105.39,266.71 116.42,274.07 127.45,280.97 138.48,291.01 149.51,288.08 160.54,291.31 171.57,303.04 182.6,310.64 193.63,291.25 204.66,284.33 215.69,299.05 226.72,341.41 237.75,371.65" fill="none" stroke="#0000FF" stroke-width="1.55" stroke-linejoin="round"/>
<circle cx="83.33" cy="268.5" r="3.0" fill="url(#gb)"/>
<circle cx="94.36" cy="264.2" r="3.0" fill="url(#gb)"/>
<circle cx="105.39" cy="266.71" r="3.0" fill="url(#gb)"/>
<circle cx="116.42" cy="274.07" r="3.0" fill="url(#gb)"/>
<circle cx="127.45" cy="280.97" r="3.0" fill="url(#gb)"/>
<circle cx="138.48" cy="291.01" r="3.0" fill="url(#gb)"/>
<circle cx="149.51" cy="288.08" r="3.0" fill="url(#gb)"/>
<circle cx="160.54" cy="291.31" r="3.0" fill="url(#gb)"/>
<circle cx="171.57" cy="303.04" r="3.0" fill="url(#gb)"/>
<circle cx="182.6" cy="310.64" r="3.0" fill="url(#gb)"/>
<circle cx="193.63" cy="291.25" r="3.0" fill="url(#gb)"/>
<circle cx="204.66" cy="284.33" r="3.0" fill="url(#gb)"/>
<circle cx="215.69" cy="299.05" r="3.0" fill="url(#gb)"/>
<circle cx="226.72" cy="341.41" r="3.0" fill="url(#gb)"/>
<circle cx="237.75" cy="371.65" r="3.0" fill="url(#gb)"/>
<polyline points="83.33,268.5 94.36,264.2 105.39,264.2 116.42,272.7 127.45,279.6 138.48,288.5 149.51,284.2 160.54,288.8 171.57,300 182.6,304.1 193.63,285.7 204.66,274.9 215.69,275.1 226.72,277.1 237.75,271" fill="none" stroke="#FF0000" stroke-width="1.55" stroke-linejoin="round"/>
<circle cx="83.33" cy="268.5" r="3.0" fill="url(#gr)"/>
<circle cx="94.36" cy="264.2" r="3.0" fill="url(#gr)"/>
<circle cx="105.39" cy="264.2" r="3.0" fill="url(#gr)"/>
<circle cx="116.42" cy="272.7" r="3.0" fill="url(#gr)"/>
<circle cx="127.45" cy="279.6" r="3.0" fill="url(#gr)"/>
<circle cx="138.48" cy="288.5" r="3.0" fill="url(#gr)"/>
<circle cx="149.51" cy="284.2" r="3.0" fill="url(#gr)"/>
<circle cx="160.54" cy="288.8" r="3.0" fill="url(#gr)"/>
<circle cx="171.57" cy="300" r="3.0" fill="url(#gr)"/>
<circle cx="182.6" cy="304.1" r="3.0" fill="url(#gr)"/>
<circle cx="193.63" cy="285.7" r="3.0" fill="url(#gr)"/>
<circle cx="204.66" cy="274.9" r="3.0" fill="url(#gr)"/>
<circle cx="215.69" cy="275.1" r="3.0" fill="url(#gr)"/>
<circle cx="226.72" cy="277.1" r="3.0" fill="url(#gr)"/>
<circle cx="237.75" cy="271" r="3.0" fill="url(#gr)"/>
<polyline points="83.33,387.3 94.36,387.3 105.39,384 116.42,385.5 127.45,385.5 138.48,384 149.51,382.2 160.54,384 171.57,383.3 182.6,378.7 193.63,380 204.66,374.9 215.69,355.8 226.72,302.7 237.75,254.9" fill="none" stroke="#000000" stroke-width="1.55" stroke-linejoin="round"/>
<circle cx="83.33" cy="387.3" r="3.0" fill="url(#gk)"/>
<circle cx="94.36" cy="387.3" r="3.0" fill="url(#gk)"/>
<circle cx="105.39" cy="384" r="3.0" fill="url(#gk)"/>
<circle cx="116.42" cy="385.5" r="3.0" fill="url(#gk)"/>
<circle cx="127.45" cy="385.5" r="3.0" fill="url(#gk)"/>
<circle cx="138.48" cy="384" r="3.0" fill="url(#gk)"/>
<circle cx="149.51" cy="382.2" r="3.0" fill="url(#gk)"/>
<circle cx="160.54" cy="384" r="3.0" fill="url(#gk)"/>
<circle cx="171.57" cy="383.3" r="3.0" fill="url(#gk)"/>
<circle cx="182.6" cy="378.7" r="3.0" fill="url(#gk)"/>
<circle cx="193.63" cy="380" r="3.0" fill="url(#gk)"/>
<circle cx="204.66" cy="374.9" r="3.0" fill="url(#gk)"/>
<circle cx="215.69" cy="355.8" r="3.0" fill="url(#gk)"/>
<circle cx="226.72" cy="302.7" r="3.0" fill="url(#gk)"/>
<circle cx="237.75" cy="254.9" r="3.0" fill="url(#gk)"/>
<line x1="82.6" y1="336.8" x2="105.1" y2="336.8" stroke="#0000FF" stroke-width="1.75"/>
<circle cx="94.2" cy="336.8" r="3.1" fill="url(#gb)"/>
<line x1="82.6" y1="352.3" x2="105.1" y2="352.3" stroke="#FF0000" stroke-width="1.75"/>
<circle cx="94.2" cy="352.3" r="3.1" fill="url(#gr)"/>
<text x="107.6" y="339.9" font-size="9.85">Forward sweep, <tspan font-style="italic">V</tspan><tspan font-size="5.6" dy="4.0">THF</tspan><tspan dy="-4.0">​</tspan></text>
<text x="107.6" y="355.6" font-size="9.85">Backward sweep, <tspan font-style="italic">V</tspan><tspan font-size="5.6" dy="4.0">THB</tspan><tspan dy="-4.0">​</tspan></text>
<ellipse cx="138.4" cy="289.8" rx="8.9" ry="10.7" fill="none" stroke="#FF00FF" stroke-width="1.15"/>
<line x1="135.8" y1="296.8" x2="85" y2="296.8" stroke="#FF00FF" stroke-width="1.2"/>
<path d="M81,296.8 L87,294.9 L87,298.7 Z" fill="#FF00FF"/>
<ellipse cx="206.4" cy="378.2" rx="9.6" ry="11.05" fill="none" stroke="#FF00FF" stroke-width="1.15"/>
<line x1="208" y1="384.2" x2="240" y2="384.2" stroke="#FF00FF" stroke-width="1.2"/>
<path d="M244.6,384.2 L238.6,382.3 L238.6,386.1 Z" fill="#FF00FF"/>
<rect x="349.4" y="238.4" width="192.5" height="166" fill="none" stroke="#3c3c3c" stroke-width="1.45"/>
<line x1="349.4" y1="404.4" x2="349.4" y2="401.2" stroke="#3c3c3c" stroke-width="1.0"/>
<line x1="409.56" y1="404.4" x2="409.56" y2="402.5" stroke="#3c3c3c" stroke-width="1.0"/>
<line x1="469.71" y1="404.4" x2="469.71" y2="401.2" stroke="#3c3c3c" stroke-width="1.0"/>
<line x1="529.87" y1="404.4" x2="529.87" y2="402.5" stroke="#3c3c3c" stroke-width="1.0"/>
<text x="349.4" y="415.5" font-size="9.8" text-anchor="middle" >0.00</text>
<text x="469.71" y="415.5" font-size="9.8" text-anchor="middle" >0.01</text>
<line x1="349.4" y1="404.4" x2="352.6" y2="404.4" stroke="#3c3c3c" stroke-width="1.0"/>
<line x1="349.4" y1="385.13" x2="351.3" y2="385.13" stroke="#3c3c3c" stroke-width="0.9"/>
<line x1="349.4" y1="373.86" x2="351.3" y2="373.86" stroke="#3c3c3c" stroke-width="0.9"/>
<line x1="349.4" y1="365.87" x2="351.3" y2="365.87" stroke="#3c3c3c" stroke-width="0.9"/>
<line x1="349.4" y1="359.67" x2="351.3" y2="359.67" stroke="#3c3c3c" stroke-width="0.9"/>
<line x1="349.4" y1="354.6" x2="351.3" y2="354.6" stroke="#3c3c3c" stroke-width="0.9"/>
<line x1="349.4" y1="350.31" x2="351.3" y2="350.31" stroke="#3c3c3c" stroke-width="0.9"/>
<line x1="349.4" y1="346.6" x2="351.3" y2="346.6" stroke="#3c3c3c" stroke-width="0.9"/>
<line x1="349.4" y1="343.33" x2="351.3" y2="343.33" stroke="#3c3c3c" stroke-width="0.9"/>
<line x1="349.4" y1="340.4" x2="352.6" y2="340.4" stroke="#3c3c3c" stroke-width="1.0"/>
<line x1="349.4" y1="321.13" x2="351.3" y2="321.13" stroke="#3c3c3c" stroke-width="0.9"/>
<line x1="349.4" y1="309.86" x2="351.3" y2="309.86" stroke="#3c3c3c" stroke-width="0.9"/>
<line x1="349.4" y1="301.87" x2="351.3" y2="301.87" stroke="#3c3c3c" stroke-width="0.9"/>
<line x1="349.4" y1="295.67" x2="351.3" y2="295.67" stroke="#3c3c3c" stroke-width="0.9"/>
<line x1="349.4" y1="290.6" x2="351.3" y2="290.6" stroke="#3c3c3c" stroke-width="0.9"/>
<line x1="349.4" y1="286.31" x2="351.3" y2="286.31" stroke="#3c3c3c" stroke-width="0.9"/>
<line x1="349.4" y1="282.6" x2="351.3" y2="282.6" stroke="#3c3c3c" stroke-width="0.9"/>
<line x1="349.4" y1="279.33" x2="351.3" y2="279.33" stroke="#3c3c3c" stroke-width="0.9"/>
<line x1="349.4" y1="276.4" x2="352.6" y2="276.4" stroke="#3c3c3c" stroke-width="1.0"/>
<line x1="349.4" y1="257.13" x2="351.3" y2="257.13" stroke="#3c3c3c" stroke-width="0.9"/>
<line x1="349.4" y1="245.86" x2="351.3" y2="245.86" stroke="#3c3c3c" stroke-width="0.9"/>
<text x="345.4" y="280.8" font-size="9.4" text-anchor="end">10<tspan font-size="6.0" dx="-0.5" dy="-5.2">-8</tspan></text>
<text x="345.4" y="344.7" font-size="9.4" text-anchor="end">10<tspan font-size="6.0" dx="-0.5" dy="-5.2">-9</tspan></text>
<text x="345.4" y="408.6" font-size="9.4" text-anchor="end">10<tspan font-size="6.0" dx="-0.5" dy="-5.2">-10</tspan></text>
<text x="301.8" y="240.6" font-size="14.4" text-anchor="start" >(d)</text>
<text transform="translate(320.0,360.2) rotate(-90)" font-size="10.2">&#916;Q<tspan font-size="6.4" dy="2.6">hy</tspan><tspan dy="-2.6">​</tspan> (C/cm<tspan font-size="6.4" dy="-4.2">2</tspan><tspan dy="4.2">)</tspan></text>
<text x="426.8" y="433.6" font-size="10.2">1/<tspan font-style="italic">T</tspan> (K<tspan font-size="6.4" dy="-4.2">-1</tspan><tspan dy="4.2">)</tspan></text>
<clipPath id="clipd"><rect x="349.4" y="238.4" width="192.5" height="166"/></clipPath>
<g clip-path="url(#clipd)"><path d="M389.5,261.74 L392.37,274.57 L395.67,289.2 L399.53,305.9 L404.09,324.69 L409.56,344.79 L416.24,363.31 L424.6,375.49 L435.34,380.17 L449.66,381.14 L469.71,381.25 L499.79,381.25 L549.92,381.25 L650.18,381.25 L950.96,381.25" fill="none" stroke="#FF0000" stroke-width="1.75" stroke-linejoin="round"/></g>
<circle cx="389.4" cy="261.5" r="2.95" fill="url(#gk)"/>
<circle cx="392.2" cy="273.8" r="2.95" fill="url(#gk)"/>
<circle cx="395.6" cy="301.7" r="2.95" fill="url(#gk)"/>
<circle cx="399.2" cy="328.3" r="2.95" fill="url(#gk)"/>
<circle cx="403.8" cy="341.6" r="2.95" fill="url(#gk)"/>
<circle cx="409.4" cy="339" r="2.95" fill="url(#gk)"/>
<circle cx="416.2" cy="358.8" r="2.95" fill="url(#gk)"/>
<circle cx="424.5" cy="368" r="2.95" fill="url(#gk)"/>
<circle cx="435" cy="351.9" r="2.95" fill="url(#gk)"/>
<circle cx="449.6" cy="366.3" r="2.95" fill="url(#gk)"/>
<circle cx="469.6" cy="379.6" r="2.95" fill="url(#gk)"/>
<circle cx="500" cy="380.7" r="2.95" fill="url(#gk)"/>
<circle cx="440.1" cy="257.3" r="3.75" fill="url(#gk)"/>
<text x="452.3" y="260.8" font-size="9.85" text-anchor="start" >Experiment</text>
<line x1="429" y1="269.4" x2="450.7" y2="269.4" stroke="#FF0000" stroke-width="1.75"/>
<text x="452.3" y="272.2" font-size="9.85" text-anchor="start" >Fitted curve</text>
<text x="416.2" y="289" font-size="9.85"><tspan font-size="8.6">&#916;</tspan><tspan font-style="italic">Q</tspan><tspan font-size="5.6" dy="3.7">hy</tspan><tspan dy="-3.7">​</tspan> = <tspan font-style="italic">Q</tspan><tspan font-size="5.6" dy="3.7">m</tspan><tspan dy="-3.7">​</tspan>&#215;exp(-<tspan font-style="italic">E</tspan><tspan font-size="5.6" dy="3.7">A</tspan><tspan dy="-3.7">​</tspan><tspan font-style="italic">/kT</tspan>)+<tspan font-style="italic">Q</tspan><tspan font-size="5.6" dy="3.7">fix</tspan><tspan dy="-3.7">​</tspan></text>
<text x="416.2" y="305.5" font-size="9.85">where <tspan font-style="italic">Q</tspan><tspan font-size="5.6" dy="3.7">m</tspan><tspan dy="-3.7">​</tspan> = 1.2&#215;10<tspan font-size="6.2" dy="-4.2">-5</tspan><tspan dy="4.2"> C/cm</tspan><tspan font-size="6.2" dy="-4.2">2</tspan></text>
<text x="446" y="322" font-size="9.85"><tspan font-style="italic">E</tspan><tspan font-size="5.6" dy="3.7">A</tspan><tspan dy="-3.7">​</tspan> = 170 meV</text>
<text x="446" y="337.3" font-size="9.85"><tspan font-style="italic">Q</tspan><tspan font-size="5.6" dy="3.7">fix</tspan><tspan dy="-3.7">​</tspan> = 2.3&#215;10<tspan font-size="6.2" dy="-4.2">-10</tspan><tspan dy="4.2"> C/cm</tspan><tspan font-size="6.2" dy="-4.2">2</tspan></text>
<rect x="546.7" y="188" width="4" height="12" fill="#fff"/>
</svg></body></html>
